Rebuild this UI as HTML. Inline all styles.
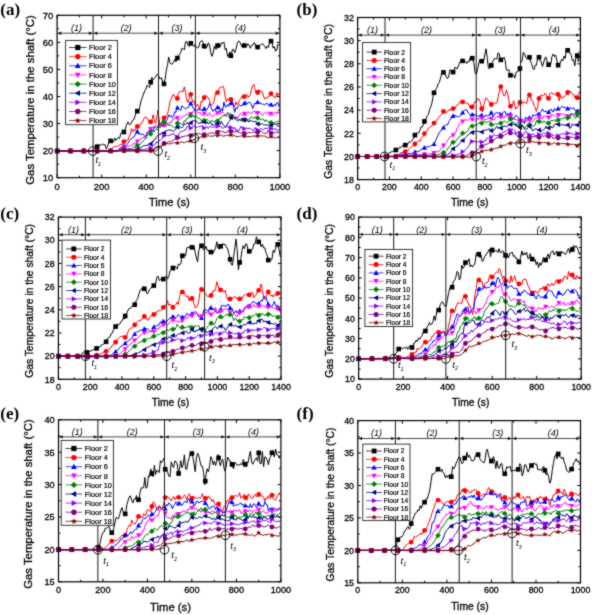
<!DOCTYPE html>
<html><head><meta charset="utf-8"><style>
html,body{margin:0;padding:0;background:#fff;}
svg{display:block;}
.tk{font-family:"Liberation Sans",Arial,sans-serif;font-size:9.6px;fill:#000;stroke:#000;stroke-width:0.3px;}
.ax{font-family:"Liberation Sans",Arial,sans-serif;font-size:11.2px;fill:#000;stroke:#000;stroke-width:0.3px;}
.lg{font-family:"Liberation Sans",Arial,sans-serif;font-size:7.3px;fill:#000;stroke:#000;stroke-width:0.2px;}
.ph{font-family:"Liberation Sans",Arial,sans-serif;font-style:italic;font-size:9px;fill:#000;text-anchor:middle;}
.tl{font-family:"Liberation Sans",Arial,sans-serif;font-style:italic;font-size:9.5px;fill:#000;}
.sub{font-size:5.5px;}
.pl{font-family:"Liberation Serif","Times New Roman",serif;font-weight:bold;font-size:17px;fill:#000;}
</style></head><body>
<svg width="592" height="615" viewBox="0 0 592 615">
<defs><filter id="soft" x="0" y="0" width="592" height="615" filterUnits="userSpaceOnUse" color-interpolation-filters="sRGB"><feConvolveMatrix order="3" kernelMatrix="1 2 1 2 14 2 1 2 1" divisor="26" edgeMode="duplicate"/></filter></defs>
<g filter="url(#soft)">
<rect width="592" height="615" fill="#fff"/>
<path d="M57.1,151 L58.3,151 L59.5,151 L60.7,151 L61.9,151 L63.1,151 L64.3,151 L65.5,151 L66.7,151 L67.9,151 L69.1,151 L70.3,151 L71.5,151 L72.7,151 L73.9,151 L75.1,151 L76.3,151 L77.5,151 L78.7,151 L79.9,151 L81.1,151 L82.3,151 L83.5,151 L84.7,151 L85.9,151 L87.1,151 L88.3,151 L89.5,151 L90.7,151 L91.9,151 L93.1,150.4 L94.3,148.2 L95.5,147.4 L96.7,147.1 L97.9,146.1 L99.1,145.4 L100.3,144.8 L101.5,145 L102.7,144.1 L103.9,144.9 L105.1,144.7 L106.3,148.9 L107.5,146.7 L108.7,142.6 L109.9,141.7 L111.1,140.2 L112.3,142 L113.5,142 L114.7,138.1 L115.9,140.4 L117.1,138.4 L118.3,137.6 L119.5,138.6 L120.7,133.9 L121.9,132.5 L123.1,131.6 L124.3,132.2 L125.5,128.2 L126.7,124.5 L127.9,121.9 L129.1,124.3 L130.3,124.6 L131.5,122.5 L132.7,120 L133.9,119.5 L135.1,115.8 L136.3,110.7 L137.5,111.3 L138.7,110.8 L139.9,106.3 L141.1,100.6 L142.3,97.7 L143.5,94 L144.7,91 L145.9,89.3 L147.1,85.1 L148.3,86.4 L149.5,87.6 L150.7,82.1 L151.9,77.4 L153.1,79.9 L154.3,78.6 L155.5,77 L156.7,74.8 L157.9,74.6 L159.1,76.8 L160.3,79.1 L161.5,77.7 L162.7,82.3 L163.9,84.5 L165.1,79.3 L166.3,70.3 L167.5,65.3 L168.7,57 L169.9,62.5 L171.1,64.1 L172.3,64 L173.5,62.2 L174.7,59.4 L175.9,61.8 L177.1,58.7 L178.3,55.9 L179.5,54.8 L180.7,52.4 L181.9,48.4 L183.1,48.7 L184.3,49.9 L185.5,41.9 L186.7,41.3 L187.9,44.8 L189.1,46.4 L190.3,44.1 L191.5,42.1 L192.7,45.2 L193.9,46.5 L195.1,44.7 L196.3,47.1 L197.5,47.9 L198.7,47.4 L199.9,42.3 L201.1,41 L202.3,40.8 L203.5,43.4 L204.7,48.4 L205.9,48.1 L207.1,46.9 L208.3,42.8 L209.5,45.2 L210.7,52.1 L211.9,56.3 L213.1,53.2 L214.3,46.3 L215.5,49.2 L216.7,48.9 L217.9,44 L219.1,43.2 L220.3,46.9 L221.5,42.8 L222.7,43.2 L223.9,41.9 L225.1,49.7 L226.3,48.3 L227.5,56.3 L228.7,56 L229.9,51.9 L231.1,56.6 L232.3,49.6 L233.5,49.3 L234.7,52.6 L235.9,49.6 L237.1,43.8 L238.3,41.2 L239.5,41.4 L240.7,43.9 L241.9,46.8 L243.1,45.6 L244.3,45.5 L245.5,45.7 L246.7,46.2 L247.9,43.8 L249.1,45.2 L250.3,48.3 L251.5,45.4 L252.7,45.4 L253.9,42.7 L255.1,43.4 L256.3,48.1 L257.5,47 L258.7,48.4 L259.9,45.6 L261.1,44.3 L262.3,44 L263.5,44.6 L264.7,46.5 L265.9,48.6 L267.1,46.2 L268.3,47.5 L269.5,42.7 L270.7,41.1 L271.9,41 L273.1,48.1 L274.3,46.6 L275.5,51.2 L276.7,50.2 L277.9,44.3 L279.1,45.2" fill="none" stroke="#000000" stroke-width="1.0" stroke-linejoin="round"/>
<rect x="54.8" y="148.7" width="4.6" height="4.6" fill="#000000"/>
<rect x="68.2" y="148.7" width="4.6" height="4.6" fill="#000000"/>
<rect x="81.5" y="148.7" width="4.6" height="4.6" fill="#000000"/>
<rect x="94.9" y="144.3" width="4.6" height="4.6" fill="#000000"/>
<rect x="108.3" y="138.6" width="4.6" height="4.6" fill="#000000"/>
<rect x="121.6" y="129.7" width="4.6" height="4.6" fill="#000000"/>
<rect x="135" y="108.9" width="4.6" height="4.6" fill="#000000"/>
<rect x="148.4" y="79.9" width="4.6" height="4.6" fill="#000000"/>
<rect x="161.7" y="81.6" width="4.6" height="4.6" fill="#000000"/>
<rect x="175.1" y="55.7" width="4.6" height="4.6" fill="#000000"/>
<rect x="188.5" y="41" width="4.6" height="4.6" fill="#000000"/>
<rect x="201.8" y="43.8" width="4.6" height="4.6" fill="#000000"/>
<rect x="215.2" y="43.3" width="4.6" height="4.6" fill="#000000"/>
<rect x="228.6" y="53.5" width="4.6" height="4.6" fill="#000000"/>
<rect x="242" y="43.2" width="4.6" height="4.6" fill="#000000"/>
<rect x="255.3" y="44.8" width="4.6" height="4.6" fill="#000000"/>
<rect x="268.7" y="38.8" width="4.6" height="4.6" fill="#000000"/>
<path d="M57.1,151 L58.3,151 L59.5,151 L60.7,151 L61.9,151 L63.1,151 L64.3,151 L65.5,151 L66.7,151 L67.9,151 L69.1,151 L70.3,151 L71.5,151 L72.7,151 L73.9,151 L75.1,151 L76.3,151 L77.5,151 L78.7,151 L79.9,151 L81.1,151 L82.3,151 L83.5,151 L84.7,151 L85.9,151 L87.1,151 L88.3,151 L89.5,151 L90.7,151 L91.9,151 L93.1,151 L94.3,151 L95.5,151 L96.7,151 L97.9,151 L99.1,151 L100.3,151 L101.5,151 L102.7,151 L103.9,151 L105.1,151 L106.3,151 L107.5,151 L108.7,151 L109.9,151 L111.1,150.2 L112.3,148.4 L113.5,146.8 L114.7,146.3 L115.9,146.9 L117.1,146.3 L118.3,145.1 L119.5,145.5 L120.7,144.1 L121.9,144.9 L123.1,142.8 L124.3,141 L125.5,140.6 L126.7,140.3 L127.9,140.5 L129.1,136.1 L130.3,135.1 L131.5,128.4 L132.7,131.7 L133.9,129.5 L135.1,130.7 L136.3,128.1 L137.5,126 L138.7,126.1 L139.9,125.6 L141.1,123.2 L142.3,122.6 L143.5,119.5 L144.7,117.4 L145.9,117.1 L147.1,118.1 L148.3,120 L149.5,123.3 L150.7,121.8 L151.9,120.7 L153.1,114.8 L154.3,119.7 L155.5,123.6 L156.7,117.9 L157.9,110.2 L159.1,119.5 L160.3,125.3 L161.5,124.7 L162.7,121.4 L163.9,118 L165.1,116.7 L166.3,116.8 L167.5,113.4 L168.7,109.9 L169.9,101.7 L171.1,99.2 L172.3,96.2 L173.5,94.1 L174.7,96.9 L175.9,98.1 L177.1,100.2 L178.3,93.6 L179.5,91.6 L180.7,91.6 L181.9,91.2 L183.1,91.6 L184.3,86.9 L185.5,92.5 L186.7,99.7 L187.9,102.7 L189.1,98.5 L190.3,92.4 L191.5,97.1 L192.7,102.1 L193.9,100.9 L195.1,105.3 L196.3,106.4 L197.5,104 L198.7,105.9 L199.9,108.6 L201.1,101.2 L202.3,102.1 L203.5,98 L204.7,97.4 L205.9,95.6 L207.1,96.3 L208.3,98.1 L209.5,100.5 L210.7,105.2 L211.9,104.8 L213.1,103.7 L214.3,100.3 L215.5,93.7 L216.7,93.7 L217.9,92.1 L219.1,88.8 L220.3,87.1 L221.5,87.4 L222.7,85.9 L223.9,88.3 L225.1,96.1 L226.3,101.9 L227.5,98.6 L228.7,99.8 L229.9,99.3 L231.1,99.5 L232.3,100.8 L233.5,104.8 L234.7,106.8 L235.9,101.9 L237.1,104.8 L238.3,103.1 L239.5,100.3 L240.7,98.6 L241.9,96.6 L243.1,98.4 L244.3,96.6 L245.5,95.3 L246.7,94.3 L247.9,96.9 L249.1,96.9 L250.3,94.5 L251.5,89.1 L252.7,85.5 L253.9,84.4 L255.1,89.7 L256.3,92.6 L257.5,92.9 L258.7,89.5 L259.9,91.5 L261.1,90.9 L262.3,91.9 L263.5,96.1 L264.7,99 L265.9,97.9 L267.1,98.2 L268.3,96.3 L269.5,96.6 L270.7,93.6 L271.9,93.4 L273.1,96.4 L274.3,96.7 L275.5,98.1 L276.7,92.6 L277.9,95.6 L279.1,93.3" fill="none" stroke="#ff0000" stroke-width="1.0" stroke-linejoin="round"/>
<circle cx="57.1" cy="151" r="2.4" fill="#ff0000"/>
<circle cx="70.5" cy="151" r="2.4" fill="#ff0000"/>
<circle cx="83.8" cy="151" r="2.4" fill="#ff0000"/>
<circle cx="97.2" cy="151" r="2.4" fill="#ff0000"/>
<circle cx="110.6" cy="150.6" r="2.4" fill="#ff0000"/>
<circle cx="123.9" cy="141.6" r="2.4" fill="#ff0000"/>
<circle cx="137.3" cy="126.4" r="2.4" fill="#ff0000"/>
<circle cx="150.7" cy="121.9" r="2.4" fill="#ff0000"/>
<circle cx="164" cy="117.8" r="2.4" fill="#ff0000"/>
<circle cx="177.4" cy="98.5" r="2.4" fill="#ff0000"/>
<circle cx="190.8" cy="94.3" r="2.4" fill="#ff0000"/>
<circle cx="204.1" cy="97.7" r="2.4" fill="#ff0000"/>
<circle cx="217.5" cy="92.6" r="2.4" fill="#ff0000"/>
<circle cx="230.9" cy="99.5" r="2.4" fill="#ff0000"/>
<circle cx="244.3" cy="96.6" r="2.4" fill="#ff0000"/>
<circle cx="257.6" cy="92.5" r="2.4" fill="#ff0000"/>
<circle cx="271" cy="93.6" r="2.4" fill="#ff0000"/>
<path d="M57.1,151 L58.3,151 L59.5,151 L60.7,151 L61.9,151 L63.1,151 L64.3,151 L65.5,151 L66.7,151 L67.9,151 L69.1,151 L70.3,151 L71.5,151 L72.7,151 L73.9,151 L75.1,151 L76.3,151 L77.5,151 L78.7,151 L79.9,151 L81.1,151 L82.3,151 L83.5,151 L84.7,151 L85.9,151 L87.1,151 L88.3,151 L89.5,151 L90.7,151 L91.9,151 L93.1,151 L94.3,151 L95.5,151 L96.7,151 L97.9,151 L99.1,151 L100.3,151 L101.5,151 L102.7,151 L103.9,151 L105.1,151 L106.3,151 L107.5,151 L108.7,151 L109.9,151 L111.1,151 L112.3,151 L113.5,151 L114.7,151 L115.9,151 L117.1,150.9 L118.3,149.6 L119.5,148.5 L120.7,147.7 L121.9,147.3 L123.1,146.5 L124.3,146 L125.5,145.4 L126.7,145.1 L127.9,143.3 L129.1,141.2 L130.3,140 L131.5,138.2 L132.7,137.7 L133.9,137.1 L135.1,135 L136.3,133.2 L137.5,131.1 L138.7,134.2 L139.9,133.5 L141.1,134.7 L142.3,133.6 L143.5,134.4 L144.7,136.9 L145.9,138.3 L147.1,132.4 L148.3,133.2 L149.5,132.2 L150.7,130 L151.9,130.5 L153.1,130.8 L154.3,127 L155.5,127 L156.7,128.1 L157.9,126.8 L159.1,125.2 L160.3,123.5 L161.5,124.4 L162.7,126.6 L163.9,124.1 L165.1,125.4 L166.3,120.9 L167.5,118.7 L168.7,114.9 L169.9,116.6 L171.1,115.2 L172.3,117.7 L173.5,116.3 L174.7,111.6 L175.9,112.3 L177.1,107.1 L178.3,108.9 L179.5,109.5 L180.7,110.6 L181.9,105.9 L183.1,106.5 L184.3,108.1 L185.5,109 L186.7,107.6 L187.9,108.1 L189.1,106.6 L190.3,102.5 L191.5,104.4 L192.7,107.5 L193.9,108.1 L195.1,111.1 L196.3,110.3 L197.5,110.7 L198.7,108.1 L199.9,110 L201.1,109.8 L202.3,110 L203.5,110.8 L204.7,107.3 L205.9,110.6 L207.1,109.1 L208.3,107.3 L209.5,103.6 L210.7,105.8 L211.9,109.8 L213.1,111.3 L214.3,109.1 L215.5,110.7 L216.7,107.1 L217.9,107.4 L219.1,106.4 L220.3,112.3 L221.5,108.5 L222.7,110.9 L223.9,102 L225.1,106.7 L226.3,106.9 L227.5,104.6 L228.7,106.4 L229.9,103.2 L231.1,103 L232.3,102.2 L233.5,106.9 L234.7,112.3 L235.9,107.8 L237.1,108.8 L238.3,105.9 L239.5,104.6 L240.7,106.1 L241.9,105.4 L243.1,104.9 L244.3,103.3 L245.5,101.3 L246.7,104.2 L247.9,103.1 L249.1,101.9 L250.3,102.7 L251.5,104.8 L252.7,108.5 L253.9,105.5 L255.1,102.9 L256.3,104.2 L257.5,101.9 L258.7,102.7 L259.9,103.1 L261.1,103.1 L262.3,104.6 L263.5,104.1 L264.7,105.2 L265.9,103.6 L267.1,103.1 L268.3,105.1 L269.5,104.3 L270.7,104.4 L271.9,105.5 L273.1,106.5 L274.3,104.4 L275.5,105.9 L276.7,102.8 L277.9,102.5 L279.1,106.7" fill="none" stroke="#0000ff" stroke-width="1.0" stroke-linejoin="round"/>
<polygon points="57.1,148.3 54.6,152.9 59.6,152.9" fill="#0000ff"/>
<polygon points="70.5,148.3 67.9,152.9 73,152.9" fill="#0000ff"/>
<polygon points="83.8,148.3 81.3,152.9 86.4,152.9" fill="#0000ff"/>
<polygon points="97.2,148.3 94.7,152.9 99.7,152.9" fill="#0000ff"/>
<polygon points="110.6,148.3 108,152.9 113.1,152.9" fill="#0000ff"/>
<polygon points="123.9,143.5 121.4,148.1 126.5,148.1" fill="#0000ff"/>
<polygon points="137.3,128.8 134.8,133.4 139.8,133.4" fill="#0000ff"/>
<polygon points="150.7,127.4 148.1,132 153.2,132" fill="#0000ff"/>
<polygon points="164,121.6 161.5,126.2 166.6,126.2" fill="#0000ff"/>
<polygon points="177.4,104.9 174.9,109.5 179.9,109.5" fill="#0000ff"/>
<polygon points="190.8,100.6 188.2,105.2 193.3,105.2" fill="#0000ff"/>
<polygon points="204.1,106.2 201.6,110.8 206.7,110.8" fill="#0000ff"/>
<polygon points="217.5,104.7 215,109.3 220,109.3" fill="#0000ff"/>
<polygon points="230.9,100.4 228.4,105 233.4,105" fill="#0000ff"/>
<polygon points="244.3,100.7 241.7,105.3 246.8,105.3" fill="#0000ff"/>
<polygon points="257.6,99.4 255.1,104 260.1,104" fill="#0000ff"/>
<polygon points="271,102 268.5,106.6 273.5,106.6" fill="#0000ff"/>
<path d="M57.1,151 L58.3,151 L59.5,151 L60.7,151 L61.9,151 L63.1,151 L64.3,151 L65.5,151 L66.7,151 L67.9,151 L69.1,151 L70.3,151 L71.5,151 L72.7,151 L73.9,151 L75.1,151 L76.3,151 L77.5,151 L78.7,151 L79.9,151 L81.1,151 L82.3,151 L83.5,151 L84.7,151 L85.9,151 L87.1,151 L88.3,151 L89.5,151 L90.7,151 L91.9,151 L93.1,151 L94.3,151 L95.5,151 L96.7,151 L97.9,151 L99.1,151 L100.3,151 L101.5,151 L102.7,151 L103.9,151 L105.1,151 L106.3,151 L107.5,151 L108.7,151 L109.9,151 L111.1,151 L112.3,151 L113.5,151 L114.7,151 L115.9,151 L117.1,150.9 L118.3,150 L119.5,149.1 L120.7,148.4 L121.9,148.3 L123.1,147.9 L124.3,147.4 L125.5,146.9 L126.7,146.6 L127.9,146.7 L129.1,145.8 L130.3,146 L131.5,145 L132.7,145.2 L133.9,143.2 L135.1,143 L136.3,143.2 L137.5,141.1 L138.7,140.7 L139.9,139.7 L141.1,138.9 L142.3,137.8 L143.5,138.2 L144.7,136 L145.9,135.6 L147.1,132.2 L148.3,131.5 L149.5,130.2 L150.7,129.1 L151.9,127 L153.1,128 L154.3,126.1 L155.5,126 L156.7,125.3 L157.9,126.3 L159.1,125 L160.3,127.4 L161.5,125.3 L162.7,127.1 L163.9,125.3 L165.1,126.2 L166.3,125.9 L167.5,125.1 L168.7,124.3 L169.9,122.2 L171.1,122.7 L172.3,119.8 L173.5,119.6 L174.7,117.4 L175.9,119 L177.1,116.9 L178.3,120.7 L179.5,120 L180.7,118.4 L181.9,117.7 L183.1,116.5 L184.3,116 L185.5,115.6 L186.7,113.6 L187.9,114.5 L189.1,115.6 L190.3,114.4 L191.5,113.6 L192.7,111.6 L193.9,110.4 L195.1,111.5 L196.3,112.4 L197.5,113.1 L198.7,112.5 L199.9,112.2 L201.1,114.8 L202.3,115.1 L203.5,114.8 L204.7,112.6 L205.9,113.3 L207.1,115.2 L208.3,115.4 L209.5,112.7 L210.7,114.8 L211.9,116.1 L213.1,116.3 L214.3,115.2 L215.5,113.8 L216.7,114.3 L217.9,112.5 L219.1,112.3 L220.3,114.2 L221.5,112.6 L222.7,111.8 L223.9,113.7 L225.1,115.1 L226.3,114.4 L227.5,112.4 L228.7,113.8 L229.9,114.9 L231.1,116.3 L232.3,114.6 L233.5,114.8 L234.7,117.9 L235.9,117.9 L237.1,117.6 L238.3,117.3 L239.5,114.6 L240.7,113.7 L241.9,115.4 L243.1,115.4 L244.3,113.6 L245.5,115.9 L246.7,112.9 L247.9,112.2 L249.1,112.2 L250.3,113.4 L251.5,113.7 L252.7,111.7 L253.9,111.6 L255.1,111.2 L256.3,114.1 L257.5,113.3 L258.7,111.6 L259.9,113.3 L261.1,114.3 L262.3,115.8 L263.5,113.7 L264.7,112.4 L265.9,113.6 L267.1,112.7 L268.3,112.3 L269.5,115.6 L270.7,113.5 L271.9,114 L273.1,115.2 L274.3,113.4 L275.5,111.8 L276.7,114 L277.9,111.5 L279.1,113.5" fill="none" stroke="#ff00ff" stroke-width="1.0" stroke-linejoin="round"/>
<polygon points="57.1,153.6 54.6,149 59.6,149" fill="#ff00ff"/>
<polygon points="70.5,153.6 67.9,149 73,149" fill="#ff00ff"/>
<polygon points="83.8,153.6 81.3,149 86.4,149" fill="#ff00ff"/>
<polygon points="97.2,153.6 94.7,149 99.7,149" fill="#ff00ff"/>
<polygon points="110.6,153.6 108,149 113.1,149" fill="#ff00ff"/>
<polygon points="123.9,150.2 121.4,145.6 126.5,145.6" fill="#ff00ff"/>
<polygon points="137.3,144.1 134.8,139.5 139.8,139.5" fill="#ff00ff"/>
<polygon points="150.7,131.7 148.1,127.1 153.2,127.1" fill="#ff00ff"/>
<polygon points="164,128 161.5,123.4 166.6,123.4" fill="#ff00ff"/>
<polygon points="177.4,120.5 174.9,115.9 179.9,115.9" fill="#ff00ff"/>
<polygon points="190.8,116.7 188.2,112.1 193.3,112.1" fill="#ff00ff"/>
<polygon points="204.1,116.3 201.6,111.7 206.7,111.7" fill="#ff00ff"/>
<polygon points="217.5,115.7 215,111.1 220,111.1" fill="#ff00ff"/>
<polygon points="230.9,118.7 228.4,114.1 233.4,114.1" fill="#ff00ff"/>
<polygon points="244.3,116.4 241.7,111.8 246.8,111.8" fill="#ff00ff"/>
<polygon points="257.6,115.7 255.1,111.1 260.1,111.1" fill="#ff00ff"/>
<polygon points="271,116.3 268.5,111.7 273.5,111.7" fill="#ff00ff"/>
<path d="M57.1,151 L58.3,151 L59.5,151 L60.7,151 L61.9,151 L63.1,151 L64.3,151 L65.5,151 L66.7,151 L67.9,151 L69.1,151 L70.3,151 L71.5,151 L72.7,151 L73.9,151 L75.1,151 L76.3,151 L77.5,151 L78.7,151 L79.9,151 L81.1,151 L82.3,151 L83.5,151 L84.7,151 L85.9,151 L87.1,151 L88.3,151 L89.5,151 L90.7,151 L91.9,151 L93.1,151 L94.3,151 L95.5,151 L96.7,151 L97.9,151 L99.1,151 L100.3,151 L101.5,151 L102.7,151 L103.9,151 L105.1,151 L106.3,151 L107.5,151 L108.7,151 L109.9,151 L111.1,151 L112.3,151 L113.5,151 L114.7,151 L115.9,151 L117.1,150.9 L118.3,150.3 L119.5,149.7 L120.7,149.3 L121.9,149.1 L123.1,149.1 L124.3,149.1 L125.5,149.1 L126.7,148.9 L127.9,148.9 L129.1,148.6 L130.3,148.7 L131.5,148.8 L132.7,147.5 L133.9,147.3 L135.1,147 L136.3,146.8 L137.5,145.1 L138.7,144.8 L139.9,144.2 L141.1,143 L142.3,142.3 L143.5,140.6 L144.7,139.6 L145.9,137.4 L147.1,136 L148.3,133.8 L149.5,134 L150.7,134 L151.9,130.2 L153.1,132 L154.3,131.8 L155.5,129.6 L156.7,129.1 L157.9,129.7 L159.1,126.9 L160.3,127.6 L161.5,124 L162.7,119.7 L163.9,121.9 L165.1,123.1 L166.3,124 L167.5,123 L168.7,125.5 L169.9,125.3 L171.1,124.8 L172.3,126.1 L173.5,127.4 L174.7,128.3 L175.9,127.1 L177.1,123.1 L178.3,123.4 L179.5,123.1 L180.7,123.5 L181.9,124.5 L183.1,124 L184.3,120.5 L185.5,121.5 L186.7,118.6 L187.9,118.4 L189.1,116.5 L190.3,115.6 L191.5,115.2 L192.7,115.4 L193.9,117.1 L195.1,115.8 L196.3,115.6 L197.5,117.9 L198.7,118.6 L199.9,118.3 L201.1,120.1 L202.3,122.9 L203.5,119.6 L204.7,121.1 L205.9,120 L207.1,119.4 L208.3,120.5 L209.5,121.7 L210.7,121 L211.9,120.3 L213.1,122 L214.3,121.1 L215.5,122.7 L216.7,120.2 L217.9,121.3 L219.1,118.7 L220.3,119 L221.5,116.6 L222.7,115.6 L223.9,116 L225.1,115.1 L226.3,116.7 L227.5,113.9 L228.7,112.7 L229.9,115 L231.1,116.3 L232.3,116.6 L233.5,117.9 L234.7,119 L235.9,119.7 L237.1,120.9 L238.3,121.1 L239.5,119.4 L240.7,119.8 L241.9,121.6 L243.1,120.7 L244.3,119.7 L245.5,120.2 L246.7,120.3 L247.9,120.4 L249.1,119.5 L250.3,117.9 L251.5,116.5 L252.7,118.2 L253.9,118 L255.1,117 L256.3,117.2 L257.5,118 L258.7,117.2 L259.9,119.6 L261.1,119.8 L262.3,119 L263.5,119 L264.7,121.8 L265.9,119.9 L267.1,120.9 L268.3,121.4 L269.5,123.2 L270.7,122.7 L271.9,122.4 L273.1,123.3 L274.3,122.6 L275.5,122 L276.7,122 L277.9,120.9 L279.1,121.7" fill="none" stroke="#008000" stroke-width="1.0" stroke-linejoin="round"/>
<polygon points="57.1,148.2 59.9,151 57.1,153.7 54.3,151" fill="#008000"/>
<polygon points="70.5,148.2 73.2,151 70.5,153.7 67.7,151" fill="#008000"/>
<polygon points="83.8,148.2 86.6,151 83.8,153.7 81.1,151" fill="#008000"/>
<polygon points="97.2,148.2 100,151 97.2,153.7 94.4,151" fill="#008000"/>
<polygon points="110.6,148.2 113.3,151 110.6,153.7 107.8,151" fill="#008000"/>
<polygon points="123.9,146.3 126.7,149.1 123.9,151.9 121.2,149.1" fill="#008000"/>
<polygon points="137.3,142.6 140.1,145.4 137.3,148.1 134.5,145.4" fill="#008000"/>
<polygon points="150.7,131.2 153.4,134 150.7,136.7 147.9,134" fill="#008000"/>
<polygon points="164,119.2 166.8,122 164,124.8 161.3,122" fill="#008000"/>
<polygon points="177.4,120.4 180.2,123.2 177.4,125.9 174.7,123.2" fill="#008000"/>
<polygon points="190.8,112.7 193.5,115.5 190.8,118.2 188,115.5" fill="#008000"/>
<polygon points="204.1,117.7 206.9,120.4 204.1,123.2 201.4,120.4" fill="#008000"/>
<polygon points="217.5,118.2 220.3,120.9 217.5,123.7 214.8,120.9" fill="#008000"/>
<polygon points="230.9,113.3 233.6,116.1 230.9,118.8 228.1,116.1" fill="#008000"/>
<polygon points="244.3,117 247,119.7 244.3,122.5 241.5,119.7" fill="#008000"/>
<polygon points="257.6,115.2 260.4,117.9 257.6,120.7 254.9,117.9" fill="#008000"/>
<polygon points="271,119.9 273.7,122.6 271,125.4 268.2,122.6" fill="#008000"/>
<path d="M57.1,151 L58.3,151 L59.5,151 L60.7,151 L61.9,151 L63.1,151 L64.3,151 L65.5,151 L66.7,151 L67.9,151 L69.1,151 L70.3,151 L71.5,151 L72.7,151 L73.9,151 L75.1,151 L76.3,151 L77.5,151 L78.7,151 L79.9,151 L81.1,151 L82.3,151 L83.5,151 L84.7,151 L85.9,151 L87.1,151 L88.3,151 L89.5,151 L90.7,151 L91.9,151 L93.1,151 L94.3,151 L95.5,151 L96.7,151 L97.9,151 L99.1,151 L100.3,151 L101.5,151 L102.7,151 L103.9,151 L105.1,151 L106.3,151 L107.5,151 L108.7,151 L109.9,151 L111.1,151 L112.3,151 L113.5,151 L114.7,151 L115.9,151 L117.1,151 L118.3,150.7 L119.5,150.4 L120.7,150.2 L121.9,150.1 L123.1,150.1 L124.3,150.1 L125.5,149.9 L126.7,149.9 L127.9,149.8 L129.1,149.8 L130.3,149.7 L131.5,149.6 L132.7,149.5 L133.9,149.6 L135.1,149.5 L136.3,149.4 L137.5,149.1 L138.7,148.8 L139.9,148 L141.1,147.4 L142.3,146.4 L143.5,146 L144.7,145.6 L145.9,145.3 L147.1,145.2 L148.3,145.4 L149.5,143.3 L150.7,144 L151.9,141.6 L153.1,141.9 L154.3,139.2 L155.5,139.1 L156.7,136.7 L157.9,135.3 L159.1,134.1 L160.3,134.8 L161.5,132.6 L162.7,133 L163.9,132.9 L165.1,132.8 L166.3,130.5 L167.5,130.5 L168.7,129.7 L169.9,130.4 L171.1,129.9 L172.3,130.8 L173.5,131.3 L174.7,130.4 L175.9,129.4 L177.1,126.7 L178.3,127.3 L179.5,127.8 L180.7,126.7 L181.9,127.9 L183.1,126.6 L184.3,123.8 L185.5,124.4 L186.7,122.9 L187.9,122.8 L189.1,125.6 L190.3,123.6 L191.5,121.6 L192.7,121 L193.9,121.1 L195.1,120.2 L196.3,120.9 L197.5,122.7 L198.7,123.5 L199.9,123 L201.1,122.7 L202.3,123 L203.5,122 L204.7,121.8 L205.9,123 L207.1,121.8 L208.3,124.2 L209.5,122.6 L210.7,122.2 L211.9,124.9 L213.1,124.5 L214.3,125 L215.5,124 L216.7,123.8 L217.9,123.4 L219.1,123.2 L220.3,124 L221.5,121.4 L222.7,124.4 L223.9,125.3 L225.1,126.6 L226.3,126.6 L227.5,124 L228.7,121.8 L229.9,120.7 L231.1,117.2 L232.3,115 L233.5,117.6 L234.7,119 L235.9,116.9 L237.1,118.3 L238.3,120.3 L239.5,119.6 L240.7,120.5 L241.9,118 L243.1,118.9 L244.3,120 L245.5,120.5 L246.7,118.5 L247.9,121.3 L249.1,122 L250.3,119.9 L251.5,121.1 L252.7,121.3 L253.9,121.6 L255.1,121.7 L256.3,121.5 L257.5,124.3 L258.7,122.4 L259.9,124.6 L261.1,124 L262.3,123.6 L263.5,124.6 L264.7,124.8 L265.9,125.3 L267.1,124.7 L268.3,125.2 L269.5,125.8 L270.7,124.9 L271.9,126.1 L273.1,125 L274.3,123.2 L275.5,124.8 L276.7,124.4 L277.9,126.3 L279.1,125.9" fill="none" stroke="#000080" stroke-width="1.0" stroke-linejoin="round"/>
<polygon points="54.5,151 59.1,148.5 59.1,153.5" fill="#000080"/>
<polygon points="67.8,151 72.4,148.5 72.4,153.5" fill="#000080"/>
<polygon points="81.2,151 85.8,148.5 85.8,153.5" fill="#000080"/>
<polygon points="94.6,151 99.2,148.5 99.2,153.5" fill="#000080"/>
<polygon points="107.9,151 112.5,148.5 112.5,153.5" fill="#000080"/>
<polygon points="121.3,150.1 125.9,147.5 125.9,152.6" fill="#000080"/>
<polygon points="134.7,149.2 139.3,146.6 139.3,151.7" fill="#000080"/>
<polygon points="148,144 152.6,141.4 152.6,146.5" fill="#000080"/>
<polygon points="161.4,132.9 166,130.4 166,135.4" fill="#000080"/>
<polygon points="174.8,126.9 179.4,124.4 179.4,129.4" fill="#000080"/>
<polygon points="188.1,122.8 192.7,120.3 192.7,125.3" fill="#000080"/>
<polygon points="201.5,121.9 206.1,119.4 206.1,124.4" fill="#000080"/>
<polygon points="214.9,123.5 219.5,121 219.5,126.1" fill="#000080"/>
<polygon points="228.2,117.8 232.8,115.3 232.8,120.3" fill="#000080"/>
<polygon points="241.6,119.9 246.2,117.4 246.2,122.5" fill="#000080"/>
<polygon points="255,124.1 259.6,121.6 259.6,126.6" fill="#000080"/>
<polygon points="268.3,125.2 272.9,122.7 272.9,127.7" fill="#000080"/>
<path d="M57.1,151 L58.3,151 L59.5,151 L60.7,151 L61.9,151 L63.1,151 L64.3,151 L65.5,151 L66.7,151 L67.9,151 L69.1,151 L70.3,151 L71.5,151 L72.7,151 L73.9,151 L75.1,151 L76.3,151 L77.5,151 L78.7,151 L79.9,151 L81.1,151 L82.3,151 L83.5,151 L84.7,151 L85.9,151 L87.1,151 L88.3,151 L89.5,151 L90.7,151 L91.9,151 L93.1,151 L94.3,151 L95.5,151 L96.7,151 L97.9,151 L99.1,151 L100.3,151 L101.5,151 L102.7,151 L103.9,151 L105.1,151 L106.3,151 L107.5,151 L108.7,151 L109.9,151 L111.1,151 L112.3,151 L113.5,151 L114.7,151 L115.9,151 L117.1,151 L118.3,150.7 L119.5,150.4 L120.7,150.2 L121.9,150.2 L123.1,150.1 L124.3,150.1 L125.5,150.1 L126.7,150 L127.9,150 L129.1,150 L130.3,149.8 L131.5,149.9 L132.7,149.8 L133.9,149.9 L135.1,149.8 L136.3,149.7 L137.5,149.7 L138.7,149.5 L139.9,149.7 L141.1,149.6 L142.3,149.5 L143.5,149.4 L144.7,149.4 L145.9,148.9 L147.1,148.9 L148.3,148.5 L149.5,148.5 L150.7,147.9 L151.9,146.8 L153.1,145.7 L154.3,144.9 L155.5,144.1 L156.7,141.6 L157.9,142.9 L159.1,140.4 L160.3,140.5 L161.5,139.2 L162.7,137.9 L163.9,135.3 L165.1,136.4 L166.3,135.6 L167.5,135.4 L168.7,135.4 L169.9,135.8 L171.1,133.9 L172.3,134.6 L173.5,133.2 L174.7,135.4 L175.9,135.5 L177.1,138.1 L178.3,135.5 L179.5,132.8 L180.7,131.6 L181.9,131.6 L183.1,131.1 L184.3,129.9 L185.5,130.3 L186.7,126.8 L187.9,126.5 L189.1,127.5 L190.3,128.6 L191.5,127.5 L192.7,127.1 L193.9,125.6 L195.1,127.1 L196.3,127.5 L197.5,127.5 L198.7,126.4 L199.9,126.6 L201.1,126 L202.3,125.9 L203.5,127.9 L204.7,128.1 L205.9,126.6 L207.1,126.9 L208.3,128.5 L209.5,126.8 L210.7,126 L211.9,127.5 L213.1,126.7 L214.3,127.2 L215.5,126.8 L216.7,124.8 L217.9,126.8 L219.1,126.2 L220.3,126.5 L221.5,126.6 L222.7,128.5 L223.9,127.3 L225.1,127.3 L226.3,126.8 L227.5,126.5 L228.7,128 L229.9,127.9 L231.1,127.4 L232.3,127.5 L233.5,129.1 L234.7,127.3 L235.9,130.4 L237.1,129.3 L238.3,131.6 L239.5,129.9 L240.7,126.2 L241.9,128.3 L243.1,127.3 L244.3,128.8 L245.5,128.5 L246.7,127.7 L247.9,129 L249.1,128 L250.3,129.2 L251.5,129 L252.7,130 L253.9,130.5 L255.1,127.6 L256.3,129.1 L257.5,130.2 L258.7,129.7 L259.9,129.4 L261.1,128.4 L262.3,129.4 L263.5,129.8 L264.7,128.2 L265.9,128.4 L267.1,128.5 L268.3,127.8 L269.5,128.7 L270.7,128.2 L271.9,129.9 L273.1,129.1 L274.3,129.1 L275.5,128.4 L276.7,130.5 L277.9,130 L279.1,130.2" fill="none" stroke="#8000ff" stroke-width="1.0" stroke-linejoin="round"/>
<polygon points="59.7,151 55.1,148.5 55.1,153.5" fill="#8000ff"/>
<polygon points="73.1,151 68.5,148.5 68.5,153.5" fill="#8000ff"/>
<polygon points="86.5,151 81.9,148.5 81.9,153.5" fill="#8000ff"/>
<polygon points="99.8,151 95.2,148.5 95.2,153.5" fill="#8000ff"/>
<polygon points="113.2,151 108.6,148.5 108.6,153.5" fill="#8000ff"/>
<polygon points="126.6,150.1 122,147.6 122,152.6" fill="#8000ff"/>
<polygon points="140,149.7 135.4,147.1 135.4,152.2" fill="#8000ff"/>
<polygon points="153.3,147.9 148.7,145.4 148.7,150.5" fill="#8000ff"/>
<polygon points="166.7,135.4 162.1,132.9 162.1,138" fill="#8000ff"/>
<polygon points="180.1,137.4 175.5,134.9 175.5,139.9" fill="#8000ff"/>
<polygon points="193.4,128.1 188.8,125.6 188.8,130.7" fill="#8000ff"/>
<polygon points="206.8,128 202.2,125.5 202.2,130.5" fill="#8000ff"/>
<polygon points="220.2,126.2 215.6,123.7 215.6,128.7" fill="#8000ff"/>
<polygon points="233.5,127.5 228.9,124.9 228.9,130" fill="#8000ff"/>
<polygon points="246.9,128.8 242.3,126.3 242.3,131.3" fill="#8000ff"/>
<polygon points="260.3,130.2 255.7,127.6 255.7,132.7" fill="#8000ff"/>
<polygon points="273.6,128.6 269,126 269,131.1" fill="#8000ff"/>
<path d="M57.1,151 L58.3,151 L59.5,151 L60.7,151 L61.9,151 L63.1,151 L64.3,151 L65.5,151 L66.7,150.9 L67.9,150.9 L69.1,150.9 L70.3,150.9 L71.5,150.9 L72.7,150.9 L73.9,150.9 L75.1,150.9 L76.3,150.9 L77.5,150.9 L78.7,150.9 L79.9,150.9 L81.1,150.9 L82.3,150.9 L83.5,150.9 L84.7,150.9 L85.9,150.9 L87.1,150.9 L88.3,150.9 L89.5,150.9 L90.7,150.8 L91.9,150.8 L93.1,150.8 L94.3,150.8 L95.5,150.8 L96.7,150.8 L97.9,150.8 L99.1,150.8 L100.3,150.8 L101.5,150.8 L102.7,150.8 L103.9,150.8 L105.1,150.8 L106.3,150.8 L107.5,150.8 L108.7,150.8 L109.9,150.8 L111.1,150.8 L112.3,150.8 L113.5,150.8 L114.7,150.8 L115.9,150.7 L117.1,150.7 L118.3,150.7 L119.5,150.7 L120.7,150.7 L121.9,150.7 L123.1,150.8 L124.3,150.8 L125.5,150.8 L126.7,150.8 L127.9,150.8 L129.1,150.8 L130.3,150.8 L131.5,150.8 L132.7,150.8 L133.9,150.9 L135.1,150.9 L136.3,150.9 L137.5,150.9 L138.7,150.9 L139.9,150.9 L141.1,150.9 L142.3,150.9 L143.5,150.9 L144.7,151 L145.9,151 L147.1,151 L148.3,150.9 L149.5,150.6 L150.7,150.3 L151.9,149.9 L153.1,149.4 L154.3,148.9 L155.5,148.4 L156.7,148.1 L157.9,147.3 L159.1,146.7 L160.3,146.1 L161.5,145.6 L162.7,144.1 L163.9,143.6 L165.1,142.9 L166.3,142.6 L167.5,142.5 L168.7,141.3 L169.9,141.8 L171.1,141.7 L172.3,140.4 L173.5,140.4 L174.7,139.1 L175.9,139.1 L177.1,137.6 L178.3,137.5 L179.5,138 L180.7,137.9 L181.9,136.1 L183.1,137.2 L184.3,135.9 L185.5,136.1 L186.7,135.9 L187.9,135.4 L189.1,134.2 L190.3,135.6 L191.5,135.7 L192.7,135.2 L193.9,136.2 L195.1,134.5 L196.3,133.9 L197.5,133.5 L198.7,133.5 L199.9,133.3 L201.1,134.6 L202.3,134 L203.5,133.8 L204.7,135.4 L205.9,134.2 L207.1,134.3 L208.3,133.4 L209.5,133.3 L210.7,133.1 L211.9,132.5 L213.1,133.6 L214.3,133.2 L215.5,132.1 L216.7,132.1 L217.9,132.2 L219.1,131.4 L220.3,131.2 L221.5,131.6 L222.7,131 L223.9,132.7 L225.1,132.6 L226.3,132.1 L227.5,131.9 L228.7,130.3 L229.9,132.4 L231.1,131.2 L232.3,131.6 L233.5,130.9 L234.7,132.5 L235.9,131.4 L237.1,131.5 L238.3,132.2 L239.5,132.8 L240.7,132.9 L241.9,133 L243.1,133.2 L244.3,133.5 L245.5,134.8 L246.7,133.7 L247.9,132.7 L249.1,132.5 L250.3,132.9 L251.5,132.5 L252.7,132.1 L253.9,132.4 L255.1,131.8 L256.3,131.5 L257.5,132.3 L258.7,132.1 L259.9,131.4 L261.1,131.2 L262.3,132 L263.5,133.1 L264.7,133.3 L265.9,133.6 L267.1,132.7 L268.3,130 L269.5,131.9 L270.7,133.2 L271.9,132.8 L273.1,132.6 L274.3,132.9 L275.5,132.4 L276.7,132.2 L277.9,132.8 L279.1,131.8" fill="none" stroke="#800080" stroke-width="1.0" stroke-linejoin="round"/>
<circle cx="57.1" cy="151" r="2.4" fill="#800080"/>
<circle cx="70.5" cy="150.9" r="2.4" fill="#800080"/>
<circle cx="83.8" cy="150.9" r="2.4" fill="#800080"/>
<circle cx="97.2" cy="150.8" r="2.4" fill="#800080"/>
<circle cx="110.6" cy="150.8" r="2.4" fill="#800080"/>
<circle cx="123.9" cy="150.8" r="2.4" fill="#800080"/>
<circle cx="137.3" cy="150.9" r="2.4" fill="#800080"/>
<circle cx="150.7" cy="150.3" r="2.4" fill="#800080"/>
<circle cx="164" cy="143.5" r="2.4" fill="#800080"/>
<circle cx="177.4" cy="137.6" r="2.4" fill="#800080"/>
<circle cx="190.8" cy="135.6" r="2.4" fill="#800080"/>
<circle cx="204.1" cy="134.6" r="2.4" fill="#800080"/>
<circle cx="217.5" cy="132.2" r="2.4" fill="#800080"/>
<circle cx="230.9" cy="131.4" r="2.4" fill="#800080"/>
<circle cx="244.3" cy="133.5" r="2.4" fill="#800080"/>
<circle cx="257.6" cy="132.3" r="2.4" fill="#800080"/>
<circle cx="271" cy="133.1" r="2.4" fill="#800080"/>
<path d="M57.1,151 L58.3,151 L59.5,151 L60.7,151 L61.9,151 L63.1,151 L64.3,151 L65.5,151 L66.7,151 L67.9,151 L69.1,151 L70.3,151 L71.5,151 L72.7,151 L73.9,151 L75.1,151 L76.3,151 L77.5,151 L78.7,151 L79.9,151 L81.1,151 L82.3,151 L83.5,151 L84.7,151 L85.9,151 L87.1,151 L88.3,151 L89.5,151 L90.7,151 L91.9,151 L93.1,151 L94.3,151 L95.5,151 L96.7,151 L97.9,151 L99.1,151 L100.3,151 L101.5,151 L102.7,151 L103.9,151 L105.1,151 L106.3,151 L107.5,151 L108.7,151 L109.9,151 L111.1,151 L112.3,151 L113.5,151 L114.7,151.1 L115.9,151.1 L117.1,151.1 L118.3,151.1 L119.5,151.1 L120.7,151 L121.9,151 L123.1,151 L124.3,151 L125.5,151 L126.7,151 L127.9,151 L129.1,151 L130.3,151 L131.5,150.9 L132.7,150.9 L133.9,150.9 L135.1,150.9 L136.3,150.9 L137.5,150.9 L138.7,150.9 L139.9,150.9 L141.1,150.8 L142.3,150.8 L143.5,150.8 L144.7,150.8 L145.9,150.8 L147.1,150.8 L148.3,150.8 L149.5,150.8 L150.7,150.7 L151.9,150.7 L153.1,150.8 L154.3,150.9 L155.5,150.9 L156.7,150.5 L157.9,149.5 L159.1,148.6 L160.3,147.5 L161.5,146.2 L162.7,145.2 L163.9,143.8 L165.1,143.4 L166.3,143.9 L167.5,143.6 L168.7,143.8 L169.9,143.8 L171.1,143.8 L172.3,142.9 L173.5,143 L174.7,142.6 L175.9,143 L177.1,142.7 L178.3,143.3 L179.5,142.7 L180.7,142.3 L181.9,141.6 L183.1,142.6 L184.3,142.5 L185.5,142.1 L186.7,141.5 L187.9,141.7 L189.1,141.6 L190.3,140.8 L191.5,141.2 L192.7,139.9 L193.9,139.8 L195.1,139.6 L196.3,137.2 L197.5,138.5 L198.7,138.6 L199.9,137.7 L201.1,136.5 L202.3,137 L203.5,136.8 L204.7,136 L205.9,136.5 L207.1,136.3 L208.3,135.2 L209.5,136.5 L210.7,135.8 L211.9,136.3 L213.1,136 L214.3,135.7 L215.5,135.2 L216.7,135.8 L217.9,135.3 L219.1,135.4 L220.3,135.1 L221.5,135.2 L222.7,136.2 L223.9,135.9 L225.1,135.8 L226.3,135.4 L227.5,135.2 L228.7,135.5 L229.9,135.4 L231.1,134.9 L232.3,136.1 L233.5,135.7 L234.7,135.5 L235.9,136.6 L237.1,136.3 L238.3,136.8 L239.5,136.2 L240.7,136.1 L241.9,135.8 L243.1,136.1 L244.3,136.2 L245.5,136.6 L246.7,137 L247.9,136.3 L249.1,136.5 L250.3,136.9 L251.5,136.5 L252.7,136 L253.9,136 L255.1,136.3 L256.3,136.1 L257.5,135.8 L258.7,136 L259.9,135.8 L261.1,136.2 L262.3,135.7 L263.5,136.2 L264.7,136.1 L265.9,136.4 L267.1,137.5 L268.3,137.8 L269.5,136.8 L270.7,136.3 L271.9,137.2 L273.1,137.1 L274.3,137.5 L275.5,137.9 L276.7,137.7 L277.9,136.9 L279.1,137.6" fill="none" stroke="#800000" stroke-width="1.0" stroke-linejoin="round"/>
<polygon points="57.1,148.1 57.8,150.1 59.8,150.1 58.2,151.3 58.8,153.3 57.1,152.1 55.4,153.3 56,151.3 54.4,150.1 56.4,150.1" fill="#800000"/>
<polygon points="70.5,148.1 71.1,150.1 73.2,150.1 71.6,151.4 72.2,153.3 70.5,152.2 68.8,153.3 69.4,151.4 67.7,150.1 69.8,150.1" fill="#800000"/>
<polygon points="83.8,148.1 84.5,150.1 86.6,150.1 84.9,151.4 85.5,153.3 83.8,152.2 82.1,153.3 82.7,151.4 81.1,150.1 83.2,150.1" fill="#800000"/>
<polygon points="97.2,148.2 97.9,150.1 99.9,150.1 98.3,151.4 98.9,153.4 97.2,152.2 95.5,153.4 96.1,151.4 94.5,150.1 96.5,150.1" fill="#800000"/>
<polygon points="110.6,148.2 111.2,150.1 113.3,150.2 111.7,151.4 112.3,153.4 110.6,152.2 108.9,153.4 109.5,151.4 107.8,150.2 109.9,150.1" fill="#800000"/>
<polygon points="123.9,148.1 124.6,150.1 126.7,150.1 125,151.4 125.6,153.3 123.9,152.2 122.3,153.3 122.8,151.4 121.2,150.1 123.3,150.1" fill="#800000"/>
<polygon points="137.3,148 138,150 140,150 138.4,151.2 139,153.2 137.3,152 135.6,153.2 136.2,151.2 134.6,150 136.6,150" fill="#800000"/>
<polygon points="150.7,147.9 151.4,149.8 153.4,149.9 151.8,151.1 152.4,153.1 150.7,151.9 149,153.1 149.6,151.1 147.9,149.9 150,149.8" fill="#800000"/>
<polygon points="164,140.9 164.7,142.9 166.8,142.9 165.1,144.1 165.7,146.1 164,144.9 162.4,146.1 163,144.1 161.3,142.9 163.4,142.9" fill="#800000"/>
<polygon points="177.4,140 178.1,141.9 180.1,142 178.5,143.2 179.1,145.2 177.4,144 175.7,145.2 176.3,143.2 174.7,142 176.7,141.9" fill="#800000"/>
<polygon points="190.8,138.1 191.5,140 193.5,140.1 191.9,141.3 192.5,143.3 190.8,142.1 189.1,143.3 189.7,141.3 188,140.1 190.1,140" fill="#800000"/>
<polygon points="204.1,133.5 204.8,135.5 206.9,135.5 205.2,136.7 205.8,138.7 204.1,137.5 202.5,138.7 203.1,136.7 201.4,135.5 203.5,135.5" fill="#800000"/>
<polygon points="217.5,132.6 218.2,134.5 220.3,134.6 218.6,135.8 219.2,137.8 217.5,136.6 215.8,137.8 216.4,135.8 214.8,134.6 216.8,134.5" fill="#800000"/>
<polygon points="230.9,132.1 231.6,134 233.6,134.1 232,135.3 232.6,137.3 230.9,136.1 229.2,137.3 229.8,135.3 228.1,134.1 230.2,134" fill="#800000"/>
<polygon points="244.3,133.3 244.9,135.2 247,135.3 245.3,136.5 245.9,138.5 244.3,137.3 242.6,138.5 243.2,136.5 241.5,135.3 243.6,135.2" fill="#800000"/>
<polygon points="257.6,133 258.3,134.9 260.4,134.9 258.7,136.2 259.3,138.2 257.6,137 255.9,138.2 256.5,136.2 254.9,134.9 256.9,134.9" fill="#800000"/>
<polygon points="271,133.6 271.7,135.6 273.7,135.6 272.1,136.9 272.7,138.8 271,137.7 269.3,138.8 269.9,136.9 268.3,135.6 270.3,135.6" fill="#800000"/>
<line x1="93.1" y1="15.3" x2="93.1" y2="177.7" stroke="#1a1a1a" stroke-width="1.0"/>
<line x1="158.5" y1="15.3" x2="158.5" y2="177.7" stroke="#1a1a1a" stroke-width="1.0"/>
<line x1="195.4" y1="15.3" x2="195.4" y2="177.7" stroke="#1a1a1a" stroke-width="1.0"/>
<line x1="57.1" y1="33.2" x2="279.9" y2="33.2" stroke="#333" stroke-width="0.9"/>
<polygon points="57.7,33.2 61.3,31.5 61.3,34.9" fill="#111"/>
<polygon points="92.5,33.2 88.9,31.5 88.9,34.9" fill="#111"/>
<text x="76.5" y="31.4" class="ph">(1)</text>
<polygon points="93.7,33.2 97.3,31.5 97.3,34.9" fill="#111"/>
<polygon points="157.9,33.2 154.3,31.5 154.3,34.9" fill="#111"/>
<text x="126.2" y="31.4" class="ph">(2)</text>
<polygon points="159.1,33.2 162.7,31.5 162.7,34.9" fill="#111"/>
<polygon points="194.8,33.2 191.2,31.5 191.2,34.9" fill="#111"/>
<text x="177" y="31.4" class="ph">(3)</text>
<polygon points="196,33.2 199.6,31.5 199.6,34.9" fill="#111"/>
<polygon points="279.3,33.2 275.7,31.5 275.7,34.9" fill="#111"/>
<text x="240.5" y="31.4" class="ph">(4)</text>
<circle cx="92.8" cy="151" r="4.4" fill="none" stroke="#000" stroke-width="0.95"/>
<circle cx="158" cy="151" r="4.4" fill="none" stroke="#000" stroke-width="0.95"/>
<circle cx="194.3" cy="138.2" r="4.4" fill="none" stroke="#000" stroke-width="0.95"/>
<text x="95.4" y="163" class="tl">t<tspan class="sub" dy="2.6">1</tspan></text>
<text x="164.4" y="157.4" class="tl">t<tspan class="sub" dy="2.6">2</tspan></text>
<text x="200.5" y="149.9" class="tl">t<tspan class="sub" dy="2.6">3</tspan></text>
<rect x="65.6" y="40.4" width="51.9" height="84.3" fill="#fff" stroke="#222" stroke-width="0.9"/>
<line x1="69" y1="47.5" x2="86.5" y2="47.5" stroke="#000000" stroke-width="0.75"/>
<rect x="75.2" y="44.9" width="5.2" height="5.2" fill="#000000"/>
<text x="89" y="50.1" class="lg" style="font-size:7.3px">Floor 2</text>
<line x1="69" y1="56.6" x2="86.5" y2="56.6" stroke="#ff0000" stroke-width="0.75"/>
<circle cx="77.8" cy="56.6" r="2.7" fill="#ff0000"/>
<text x="89" y="59.3" class="lg" style="font-size:7.3px">Floor 4</text>
<line x1="69" y1="65.8" x2="86.5" y2="65.8" stroke="#0000ff" stroke-width="0.75"/>
<polygon points="77.8,62.8 74.9,68 80.6,68" fill="#0000ff"/>
<text x="89" y="68.4" class="lg" style="font-size:7.3px">Floor 6</text>
<line x1="69" y1="74.9" x2="86.5" y2="74.9" stroke="#ff00ff" stroke-width="0.75"/>
<polygon points="77.8,77.9 74.9,72.7 80.6,72.7" fill="#ff00ff"/>
<text x="89" y="77.5" class="lg" style="font-size:7.3px">Floor 8</text>
<line x1="69" y1="84.1" x2="86.5" y2="84.1" stroke="#008000" stroke-width="0.75"/>
<polygon points="77.8,80.9 80.9,84.1 77.8,87.2 74.6,84.1" fill="#008000"/>
<text x="89" y="86.7" class="lg" style="font-size:7.3px">Floor 10</text>
<line x1="69" y1="93.2" x2="86.5" y2="93.2" stroke="#000080" stroke-width="0.75"/>
<polygon points="74.8,93.2 80,90.3 80,96.1" fill="#000080"/>
<text x="89" y="95.8" class="lg" style="font-size:7.3px">Floor 12</text>
<line x1="69" y1="102.3" x2="86.5" y2="102.3" stroke="#8000ff" stroke-width="0.75"/>
<polygon points="80.7,102.3 75.5,99.5 75.5,105.2" fill="#8000ff"/>
<text x="89" y="105" class="lg" style="font-size:7.3px">Floor 14</text>
<line x1="69" y1="111.5" x2="86.5" y2="111.5" stroke="#800080" stroke-width="0.75"/>
<circle cx="77.8" cy="111.5" r="2.7" fill="#800080"/>
<text x="89" y="114.1" class="lg" style="font-size:7.3px">Floor 16</text>
<line x1="69" y1="120.6" x2="86.5" y2="120.6" stroke="#800000" stroke-width="0.75"/>
<polygon points="77.8,117.4 78.5,119.6 80.8,119.6 79,121 79.7,123.2 77.8,121.9 75.8,123.2 76.5,121 74.7,119.6 77,119.6" fill="#800000"/>
<text x="89" y="123.2" class="lg" style="font-size:7.3px">Floor 18</text>
<rect x="57.1" y="15.3" width="222.8" height="162.4" fill="none" stroke="#000" stroke-width="1.2"/>
<text x="57.1" y="189.7" class="tk" style="font-size:9.4px" text-anchor="middle">0</text>
<text x="101.7" y="189.7" class="tk" style="font-size:9.4px" text-anchor="middle">200</text>
<text x="146.2" y="189.7" class="tk" style="font-size:9.4px" text-anchor="middle">400</text>
<text x="190.8" y="189.7" class="tk" style="font-size:9.4px" text-anchor="middle">600</text>
<text x="235.3" y="189.7" class="tk" style="font-size:9.4px" text-anchor="middle">800</text>
<text x="279.9" y="189.7" class="tk" style="font-size:9.4px" text-anchor="middle">1000</text>
<text x="53.3" y="181.1" class="tk" style="font-size:9.4px" text-anchor="end">10</text>
<text x="53.3" y="154" class="tk" style="font-size:9.4px" text-anchor="end">20</text>
<text x="53.3" y="127" class="tk" style="font-size:9.4px" text-anchor="end">30</text>
<text x="53.3" y="99.9" class="tk" style="font-size:9.4px" text-anchor="end">40</text>
<text x="53.3" y="72.8" class="tk" style="font-size:9.4px" text-anchor="end">50</text>
<text x="53.3" y="45.8" class="tk" style="font-size:9.4px" text-anchor="end">60</text>
<text x="53.3" y="18.7" class="tk" style="font-size:9.4px" text-anchor="end">70</text>
<path d="M57.1,177.7v-3.2M57.1,15.3v3.2M79.4,177.7v-2M79.4,15.3v2M101.7,177.7v-3.2M101.7,15.3v3.2M123.9,177.7v-2M123.9,15.3v2M146.2,177.7v-3.2M146.2,15.3v3.2M168.5,177.7v-2M168.5,15.3v2M190.8,177.7v-3.2M190.8,15.3v3.2M213.1,177.7v-2M213.1,15.3v2M235.3,177.7v-3.2M235.3,15.3v3.2M257.6,177.7v-2M257.6,15.3v2M279.9,177.7v-3.2M279.9,15.3v3.2M57.1,177.7h3.2M279.9,177.7h-3.2M57.1,164.2h2M279.9,164.2h-2M57.1,150.6h3.2M279.9,150.6h-3.2M57.1,137.1h2M279.9,137.1h-2M57.1,123.6h3.2M279.9,123.6h-3.2M57.1,110h2M279.9,110h-2M57.1,96.5h3.2M279.9,96.5h-3.2M57.1,83h2M279.9,83h-2M57.1,69.4h3.2M279.9,69.4h-3.2M57.1,55.9h2M279.9,55.9h-2M57.1,42.4h3.2M279.9,42.4h-3.2M57.1,28.8h2M279.9,28.8h-2M57.1,15.3h3.2M279.9,15.3h-3.2" stroke="#000" stroke-width="1" fill="none"/>
<text x="169.3" y="206" class="ax" style="font-size:11.35px" text-anchor="middle">Time (s)</text>
<text transform="translate(33.5,100) rotate(-90)" class="ax" style="font-size:11.35px" text-anchor="middle">Gas Temperature in the shaft (°C)</text>
<text x="0.3" y="14.9" class="pl">(a)</text>
<path d="M357.6,156.5 L358.8,156.5 L360,156.5 L361.2,156.5 L362.4,156.5 L363.6,156.5 L364.8,156.5 L366,156.5 L367.2,156.5 L368.4,156.5 L369.6,156.5 L370.8,156.5 L372,156.5 L373.2,156.5 L374.4,156.5 L375.6,156.5 L376.8,156.5 L378,156.5 L379.2,156.5 L380.4,156.5 L381.6,156.5 L382.8,156.5 L384,156.5 L385.2,156.5 L386.4,156.2 L387.6,154.7 L388.8,153.3 L390,152.6 L391.2,151.8 L392.4,151.6 L393.6,151.3 L394.8,150.8 L396,149.9 L397.2,148.7 L398.4,149 L399.6,147.2 L400.8,147.8 L402,146.1 L403.2,145.2 L404.4,144.7 L405.6,145.3 L406.8,144.5 L408,143.8 L409.2,141.8 L410.4,142.1 L411.6,141.1 L412.8,139.3 L414,137.5 L415.2,134.3 L416.4,133.1 L417.6,133 L418.8,132.6 L420,129.9 L421.2,126.6 L422.4,126.7 L423.6,124.1 L424.8,120.2 L426,118.5 L427.2,115.9 L428.4,114.5 L429.6,109.6 L430.8,106.6 L432,102.9 L433.2,95.7 L434.4,91.3 L435.6,89.5 L436.8,88 L438,84.1 L439.2,82.5 L440.4,78.7 L441.6,73.5 L442.8,72.7 L444,72.3 L445.2,74.3 L446.4,77 L447.6,78.7 L448.8,76 L450,69.7 L451.2,71.2 L452.4,70.4 L453.6,73.3 L454.8,67.5 L456,67.8 L457.2,68.9 L458.4,65.9 L459.6,62.6 L460.8,60.8 L462,61.2 L463.2,60.6 L464.4,62.5 L465.6,61.3 L466.8,63.5 L468,61.2 L469.2,61.6 L470.4,57.4 L471.6,57.5 L472.8,58.9 L474,63.8 L475.2,73.2 L476.4,74.2 L477.6,69.1 L478.8,63.3 L480,59.6 L481.2,60.4 L482.4,62.1 L483.6,61.2 L484.8,54.9 L486,48.8 L487.2,57.4 L488.4,68.1 L489.6,68.6 L490.8,67.5 L492,62.3 L493.2,61.3 L494.4,58.5 L495.6,58.7 L496.8,59.1 L498,52.9 L499.2,53.6 L500.4,60 L501.6,59.7 L502.8,59 L504,57.3 L505.2,60.5 L506.4,70.1 L507.6,70.4 L508.8,69.6 L510,75.1 L511.2,75.7 L512.4,75.2 L513.6,75 L514.8,78.1 L516,72.4 L517.2,71.8 L518.4,71.1 L519.6,71 L520.8,61.9 L522,61.5 L523.2,52.3 L524.4,53.5 L525.6,57.1 L526.8,58.6 L528,57.2 L529.2,56.1 L530.4,61 L531.6,63.6 L532.8,68.4 L534,69.8 L535.2,65.1 L536.4,65.2 L537.6,57.8 L538.8,56.3 L540,60.8 L541.2,61.5 L542.4,66.5 L543.6,63 L544.8,58 L546,56.9 L547.2,62 L548.4,64.7 L549.6,64.8 L550.8,63.9 L552,56.4 L553.2,54 L554.4,56.6 L555.6,54.9 L556.8,60.3 L558,65.4 L559.2,63.4 L560.4,62.9 L561.6,59.2 L562.8,60.6 L564,56.1 L565.2,58.5 L566.4,48.9 L567.6,50.3 L568.8,50.8 L570,53.1 L571.2,55.3 L572.4,60.6 L573.6,59.7 L574.8,65.9 L576,56.8 L577.2,55.6 L578.4,61.7 L579.6,55.4" fill="none" stroke="#000000" stroke-width="1.0" stroke-linejoin="round"/>
<rect x="355.3" y="154.2" width="4.6" height="4.6" fill="#000000"/>
<rect x="364.8" y="154.2" width="4.6" height="4.6" fill="#000000"/>
<rect x="374.4" y="154.2" width="4.6" height="4.6" fill="#000000"/>
<rect x="383.9" y="154" width="4.6" height="4.6" fill="#000000"/>
<rect x="393.5" y="147.7" width="4.6" height="4.6" fill="#000000"/>
<rect x="403" y="142.8" width="4.6" height="4.6" fill="#000000"/>
<rect x="412.6" y="132.8" width="4.6" height="4.6" fill="#000000"/>
<rect x="422.1" y="119.1" width="4.6" height="4.6" fill="#000000"/>
<rect x="431.7" y="90.5" width="4.6" height="4.6" fill="#000000"/>
<rect x="441.2" y="70.1" width="4.6" height="4.6" fill="#000000"/>
<rect x="450.8" y="69.8" width="4.6" height="4.6" fill="#000000"/>
<rect x="460.3" y="58.6" width="4.6" height="4.6" fill="#000000"/>
<rect x="469.9" y="55.9" width="4.6" height="4.6" fill="#000000"/>
<rect x="479.4" y="58.9" width="4.6" height="4.6" fill="#000000"/>
<rect x="489" y="63.1" width="4.6" height="4.6" fill="#000000"/>
<rect x="498.5" y="57.6" width="4.6" height="4.6" fill="#000000"/>
<rect x="508.1" y="73" width="4.6" height="4.6" fill="#000000"/>
<rect x="517.6" y="66.2" width="4.6" height="4.6" fill="#000000"/>
<rect x="527.2" y="55" width="4.6" height="4.6" fill="#000000"/>
<rect x="536.7" y="54.9" width="4.6" height="4.6" fill="#000000"/>
<rect x="546.3" y="62.4" width="4.6" height="4.6" fill="#000000"/>
<rect x="555.8" y="62.9" width="4.6" height="4.6" fill="#000000"/>
<rect x="565.4" y="48" width="4.6" height="4.6" fill="#000000"/>
<rect x="574.9" y="53.3" width="4.6" height="4.6" fill="#000000"/>
<path d="M357.6,156.5 L358.8,156.5 L360,156.5 L361.2,156.5 L362.4,156.5 L363.6,156.5 L364.8,156.5 L366,156.5 L367.2,156.5 L368.4,156.5 L369.6,156.5 L370.8,156.5 L372,156.5 L373.2,156.5 L374.4,156.5 L375.6,156.5 L376.8,156.5 L378,156.5 L379.2,156.5 L380.4,156.5 L381.6,156.5 L382.8,156.5 L384,156.5 L385.2,156.5 L386.4,156.5 L387.6,156.5 L388.8,156.5 L390,156.5 L391.2,156.5 L392.4,156.5 L393.6,156.5 L394.8,156.5 L396,156.5 L397.2,156.3 L398.4,154.9 L399.6,153.5 L400.8,152.9 L402,152.7 L403.2,152 L404.4,151.7 L405.6,151.6 L406.8,150.6 L408,150 L409.2,149.2 L410.4,148 L411.6,146.7 L412.8,145.9 L414,144.3 L415.2,143.9 L416.4,142.5 L417.6,141.3 L418.8,140.6 L420,141.6 L421.2,138.6 L422.4,137.2 L423.6,135.2 L424.8,133 L426,132 L427.2,130.8 L428.4,128 L429.6,127.4 L430.8,126.6 L432,125.7 L433.2,123.8 L434.4,122.8 L435.6,121.8 L436.8,119.9 L438,118.6 L439.2,116.4 L440.4,115.8 L441.6,114.9 L442.8,111.3 L444,111.5 L445.2,112.1 L446.4,112.3 L447.6,111.8 L448.8,109.6 L450,110 L451.2,109.5 L452.4,109.4 L453.6,108.1 L454.8,109 L456,106.1 L457.2,105.1 L458.4,104.5 L459.6,102.2 L460.8,102 L462,101.9 L463.2,101.9 L464.4,102.1 L465.6,103.3 L466.8,103.1 L468,103.2 L469.2,105.6 L470.4,108.7 L471.6,107 L472.8,107 L474,103.6 L475.2,101.2 L476.4,101.8 L477.6,98.9 L478.8,98.5 L480,101.6 L481.2,106 L482.4,112 L483.6,105.8 L484.8,101.2 L486,97.8 L487.2,99 L488.4,100.9 L489.6,102.7 L490.8,104.3 L492,104.9 L493.2,104.1 L494.4,102.7 L495.6,103.1 L496.8,103.2 L498,97.4 L499.2,92.6 L500.4,85.4 L501.6,88.9 L502.8,92.8 L504,96 L505.2,95.3 L506.4,89.9 L507.6,93.4 L508.8,100.3 L510,107.3 L511.2,104.2 L512.4,105.9 L513.6,100.7 L514.8,106.2 L516,109.1 L517.2,106.8 L518.4,106.2 L519.6,103 L520.8,101 L522,101.4 L523.2,103.4 L524.4,102 L525.6,102.6 L526.8,103.5 L528,97.2 L529.2,94.5 L530.4,96.6 L531.6,100.9 L532.8,101.1 L534,105.5 L535.2,107.4 L536.4,111.5 L537.6,107.2 L538.8,98.8 L540,96.8 L541.2,94.7 L542.4,96.1 L543.6,95.7 L544.8,93.1 L546,94.6 L547.2,98.6 L548.4,99.2 L549.6,93.7 L550.8,93.1 L552,93 L553.2,94.2 L554.4,93.6 L555.6,95.1 L556.8,92.7 L558,93.8 L559.2,100.8 L560.4,95.2 L561.6,98.3 L562.8,97.3 L564,97.3 L565.2,95.5 L566.4,94.9 L567.6,92.6 L568.8,91 L570,91.6 L571.2,91.9 L572.4,94.3 L573.6,94.5 L574.8,97.8 L576,95.3 L577.2,97.8 L578.4,94.8 L579.6,91.5" fill="none" stroke="#ff0000" stroke-width="1.0" stroke-linejoin="round"/>
<circle cx="357.6" cy="156.5" r="2.4" fill="#ff0000"/>
<circle cx="367.1" cy="156.5" r="2.4" fill="#ff0000"/>
<circle cx="376.7" cy="156.5" r="2.4" fill="#ff0000"/>
<circle cx="386.2" cy="156.5" r="2.4" fill="#ff0000"/>
<circle cx="395.8" cy="156.5" r="2.4" fill="#ff0000"/>
<circle cx="405.3" cy="151.6" r="2.4" fill="#ff0000"/>
<circle cx="414.9" cy="144" r="2.4" fill="#ff0000"/>
<circle cx="424.4" cy="133.6" r="2.4" fill="#ff0000"/>
<circle cx="434" cy="123.1" r="2.4" fill="#ff0000"/>
<circle cx="443.5" cy="111.4" r="2.4" fill="#ff0000"/>
<circle cx="453.1" cy="108.6" r="2.4" fill="#ff0000"/>
<circle cx="462.6" cy="101.9" r="2.4" fill="#ff0000"/>
<circle cx="472.2" cy="107" r="2.4" fill="#ff0000"/>
<circle cx="481.7" cy="108.7" r="2.4" fill="#ff0000"/>
<circle cx="491.3" cy="104.5" r="2.4" fill="#ff0000"/>
<circle cx="500.8" cy="86.7" r="2.4" fill="#ff0000"/>
<circle cx="510.4" cy="106.3" r="2.4" fill="#ff0000"/>
<circle cx="519.9" cy="102.5" r="2.4" fill="#ff0000"/>
<circle cx="529.5" cy="95" r="2.4" fill="#ff0000"/>
<circle cx="539" cy="98.5" r="2.4" fill="#ff0000"/>
<circle cx="548.6" cy="98.4" r="2.4" fill="#ff0000"/>
<circle cx="558.1" cy="94.5" r="2.4" fill="#ff0000"/>
<circle cx="567.7" cy="92.5" r="2.4" fill="#ff0000"/>
<circle cx="577.2" cy="97.8" r="2.4" fill="#ff0000"/>
<path d="M357.6,156.5 L358.8,156.5 L360,156.5 L361.2,156.5 L362.4,156.5 L363.6,156.5 L364.8,156.5 L366,156.5 L367.2,156.5 L368.4,156.5 L369.6,156.5 L370.8,156.5 L372,156.5 L373.2,156.5 L374.4,156.5 L375.6,156.5 L376.8,156.5 L378,156.5 L379.2,156.5 L380.4,156.5 L381.6,156.5 L382.8,156.5 L384,156.5 L385.2,156.5 L386.4,156.5 L387.6,156.5 L388.8,156.5 L390,156.5 L391.2,156.5 L392.4,156.5 L393.6,156.5 L394.8,156.5 L396,156.5 L397.2,156.4 L398.4,155.5 L399.6,154.6 L400.8,154.2 L402,154.2 L403.2,154.1 L404.4,154 L405.6,154 L406.8,153.8 L408,153.7 L409.2,153.5 L410.4,153.4 L411.6,153.8 L412.8,153 L414,152.3 L415.2,151.8 L416.4,151.2 L417.6,151.3 L418.8,151.7 L420,150.5 L421.2,149.7 L422.4,148.6 L423.6,147.3 L424.8,148 L426,147.5 L427.2,146.4 L428.4,146.8 L429.6,146.5 L430.8,145.8 L432,145.5 L433.2,145 L434.4,143.7 L435.6,140.7 L436.8,137.9 L438,135.3 L439.2,132.3 L440.4,131.5 L441.6,129.8 L442.8,129.1 L444,126.7 L445.2,125.4 L446.4,124.8 L447.6,124.9 L448.8,121.5 L450,120.3 L451.2,117.6 L452.4,115.9 L453.6,116 L454.8,115.4 L456,115.8 L457.2,116.9 L458.4,116.7 L459.6,116.4 L460.8,115.6 L462,113.6 L463.2,111.6 L464.4,110.3 L465.6,109.8 L466.8,109.8 L468,112.6 L469.2,113.7 L470.4,115.6 L471.6,115.2 L472.8,113.9 L474,114.8 L475.2,114.6 L476.4,115.5 L477.6,116.6 L478.8,115.1 L480,116.3 L481.2,114.4 L482.4,116.3 L483.6,118 L484.8,116.2 L486,114.9 L487.2,116.3 L488.4,115.1 L489.6,115.9 L490.8,111.8 L492,113.8 L493.2,116.9 L494.4,114.7 L495.6,112.8 L496.8,112.5 L498,113.7 L499.2,112.3 L500.4,114.3 L501.6,115.6 L502.8,112.8 L504,111.7 L505.2,111.7 L506.4,115.2 L507.6,113.2 L508.8,115.9 L510,113.8 L511.2,115.1 L512.4,118.4 L513.6,119 L514.8,116.9 L516,115.2 L517.2,116.3 L518.4,117.3 L519.6,120.8 L520.8,120.7 L522,118.9 L523.2,122.4 L524.4,123.5 L525.6,117.2 L526.8,118.3 L528,117.8 L529.2,117.7 L530.4,118.3 L531.6,119 L532.8,114.8 L534,115.6 L535.2,115.7 L536.4,114.1 L537.6,113 L538.8,114.5 L540,112.8 L541.2,111.6 L542.4,108.9 L543.6,111.3 L544.8,111.5 L546,111 L547.2,112.6 L548.4,112.2 L549.6,111.1 L550.8,109 L552,111 L553.2,112 L554.4,108.4 L555.6,110.6 L556.8,109.5 L558,108.4 L559.2,110.1 L560.4,107.6 L561.6,106.6 L562.8,106.8 L564,107.6 L565.2,107.2 L566.4,108.2 L567.6,108.5 L568.8,109.4 L570,107.5 L571.2,108.4 L572.4,108.6 L573.6,107.8 L574.8,110.3 L576,110.7 L577.2,111.4 L578.4,111.9 L579.6,111.9" fill="none" stroke="#0000ff" stroke-width="1.0" stroke-linejoin="round"/>
<polygon points="357.6,153.9 355.1,158.5 360.1,158.5" fill="#0000ff"/>
<polygon points="367.1,153.9 364.6,158.5 369.7,158.5" fill="#0000ff"/>
<polygon points="376.7,153.9 374.2,158.5 379.2,158.5" fill="#0000ff"/>
<polygon points="386.2,153.9 383.7,158.5 388.8,158.5" fill="#0000ff"/>
<polygon points="395.8,153.9 393.3,158.5 398.3,158.5" fill="#0000ff"/>
<polygon points="405.3,151.4 402.8,156 407.9,156" fill="#0000ff"/>
<polygon points="414.9,149.3 412.4,153.9 417.4,153.9" fill="#0000ff"/>
<polygon points="424.4,145.1 421.9,149.7 427,149.7" fill="#0000ff"/>
<polygon points="434,141.5 431.5,146.1 436.5,146.1" fill="#0000ff"/>
<polygon points="443.5,125 441,129.6 446.1,129.6" fill="#0000ff"/>
<polygon points="453.1,113.3 450.6,117.9 455.6,117.9" fill="#0000ff"/>
<polygon points="462.6,109.9 460.1,114.5 465.2,114.5" fill="#0000ff"/>
<polygon points="472.2,111.9 469.7,116.5 474.7,116.5" fill="#0000ff"/>
<polygon points="481.7,112.6 479.2,117.2 484.3,117.2" fill="#0000ff"/>
<polygon points="491.3,109.9 488.8,114.5 493.8,114.5" fill="#0000ff"/>
<polygon points="500.8,112.1 498.3,116.7 503.4,116.7" fill="#0000ff"/>
<polygon points="510.4,111.5 507.8,116.1 512.9,116.1" fill="#0000ff"/>
<polygon points="519.9,118.1 517.4,122.7 522.5,122.7" fill="#0000ff"/>
<polygon points="529.5,115.2 526.9,119.8 532,119.8" fill="#0000ff"/>
<polygon points="539,111.5 536.5,116.1 541.6,116.1" fill="#0000ff"/>
<polygon points="548.6,109.4 546,114 551.1,114" fill="#0000ff"/>
<polygon points="558.1,105.9 555.6,110.5 560.6,110.5" fill="#0000ff"/>
<polygon points="567.7,105.9 565.1,110.5 570.2,110.5" fill="#0000ff"/>
<polygon points="577.2,108.7 574.7,113.3 579.7,113.3" fill="#0000ff"/>
<path d="M357.6,156.5 L358.8,156.5 L360,156.5 L361.2,156.5 L362.4,156.5 L363.6,156.5 L364.8,156.5 L366,156.5 L367.2,156.5 L368.4,156.5 L369.6,156.5 L370.8,156.5 L372,156.5 L373.2,156.5 L374.4,156.5 L375.6,156.5 L376.8,156.5 L378,156.5 L379.2,156.5 L380.4,156.5 L381.6,156.5 L382.8,156.5 L384,156.5 L385.2,156.5 L386.4,156.5 L387.6,156.5 L388.8,156.5 L390,156.5 L391.2,156.5 L392.4,156.5 L393.6,156.5 L394.8,156.5 L396,156.5 L397.2,156.4 L398.4,155.9 L399.6,155.4 L400.8,155.3 L402,155.3 L403.2,155.2 L404.4,155.1 L405.6,155.1 L406.8,155 L408,155 L409.2,155.1 L410.4,155 L411.6,154.9 L412.8,154.9 L414,154.8 L415.2,154.7 L416.4,154.6 L417.6,154.5 L418.8,154.6 L420,154.6 L421.2,154.6 L422.4,154.4 L423.6,154.3 L424.8,154.3 L426,154.3 L427.2,154.4 L428.4,154.1 L429.6,153.9 L430.8,153.9 L432,153.3 L433.2,153.4 L434.4,152.9 L435.6,152.2 L436.8,151.8 L438,151.8 L439.2,151.2 L440.4,149.6 L441.6,148 L442.8,146.9 L444,144.7 L445.2,143.8 L446.4,142.6 L447.6,140.6 L448.8,138.7 L450,136.9 L451.2,136.5 L452.4,136.2 L453.6,134.4 L454.8,132.8 L456,132.1 L457.2,127.8 L458.4,126.9 L459.6,123.6 L460.8,122.4 L462,121.3 L463.2,121.9 L464.4,120.3 L465.6,119.8 L466.8,120 L468,120.4 L469.2,119.2 L470.4,118.3 L471.6,118.8 L472.8,120.3 L474,119.9 L475.2,119.9 L476.4,120.2 L477.6,118 L478.8,119.6 L480,116.9 L481.2,116.9 L482.4,119.4 L483.6,119.3 L484.8,119.6 L486,119.7 L487.2,119.3 L488.4,118 L489.6,118.5 L490.8,118.9 L492,119.3 L493.2,119.6 L494.4,120 L495.6,117.6 L496.8,116.6 L498,116.9 L499.2,117 L500.4,117.5 L501.6,116.3 L502.8,117.3 L504,118 L505.2,116.1 L506.4,116.4 L507.6,115.4 L508.8,117.7 L510,115.6 L511.2,115.6 L512.4,119 L513.6,119.7 L514.8,119.3 L516,119.3 L517.2,120.6 L518.4,119.1 L519.6,121.5 L520.8,122.5 L522,121.1 L523.2,120 L524.4,119.7 L525.6,122.2 L526.8,119.8 L528,120.4 L529.2,119.6 L530.4,121.4 L531.6,122 L532.8,121.5 L534,120.2 L535.2,118.1 L536.4,118.5 L537.6,117.6 L538.8,116.6 L540,119 L541.2,117.6 L542.4,119 L543.6,116 L544.8,116.4 L546,116.2 L547.2,117.3 L548.4,117.1 L549.6,118.6 L550.8,116.6 L552,114.3 L553.2,115.7 L554.4,115 L555.6,116.5 L556.8,117.8 L558,114.8 L559.2,116.3 L560.4,113.4 L561.6,114.7 L562.8,113.9 L564,114.6 L565.2,115.3 L566.4,114.7 L567.6,116.2 L568.8,115.9 L570,114.2 L571.2,115 L572.4,113.5 L573.6,114.2 L574.8,115.3 L576,113.1 L577.2,115.3 L578.4,115.4 L579.6,112.6" fill="none" stroke="#ff00ff" stroke-width="1.0" stroke-linejoin="round"/>
<polygon points="357.6,159.2 355.1,154.6 360.1,154.6" fill="#ff00ff"/>
<polygon points="367.1,159.2 364.6,154.6 369.7,154.6" fill="#ff00ff"/>
<polygon points="376.7,159.2 374.2,154.6 379.2,154.6" fill="#ff00ff"/>
<polygon points="386.2,159.2 383.7,154.6 388.8,154.6" fill="#ff00ff"/>
<polygon points="395.8,159.2 393.3,154.6 398.3,154.6" fill="#ff00ff"/>
<polygon points="405.3,157.7 402.8,153.1 407.9,153.1" fill="#ff00ff"/>
<polygon points="414.9,157.4 412.4,152.8 417.4,152.8" fill="#ff00ff"/>
<polygon points="424.4,156.9 421.9,152.3 427,152.3" fill="#ff00ff"/>
<polygon points="434,155.7 431.5,151.1 436.5,151.1" fill="#ff00ff"/>
<polygon points="443.5,148.2 441,143.6 446.1,143.6" fill="#ff00ff"/>
<polygon points="453.1,137.8 450.6,133.2 455.6,133.2" fill="#ff00ff"/>
<polygon points="462.6,124.2 460.1,119.6 465.2,119.6" fill="#ff00ff"/>
<polygon points="472.2,122.1 469.7,117.5 474.7,117.5" fill="#ff00ff"/>
<polygon points="481.7,120.7 479.2,116.1 484.3,116.1" fill="#ff00ff"/>
<polygon points="491.3,121.7 488.8,117.1 493.8,117.1" fill="#ff00ff"/>
<polygon points="500.8,119.7 498.3,115.1 503.4,115.1" fill="#ff00ff"/>
<polygon points="510.4,118.3 507.8,113.7 512.9,113.7" fill="#ff00ff"/>
<polygon points="519.9,124.4 517.4,119.8 522.5,119.8" fill="#ff00ff"/>
<polygon points="529.5,122.6 526.9,118 532,118" fill="#ff00ff"/>
<polygon points="539,119.7 536.5,115.1 541.6,115.1" fill="#ff00ff"/>
<polygon points="548.6,120 546,115.4 551.1,115.4" fill="#ff00ff"/>
<polygon points="558.1,117.6 555.6,113 560.6,113" fill="#ff00ff"/>
<polygon points="567.7,118.8 565.1,114.2 570.2,114.2" fill="#ff00ff"/>
<polygon points="577.2,117.9 574.7,113.3 579.7,113.3" fill="#ff00ff"/>
<path d="M357.6,156.5 L358.8,156.5 L360,156.5 L361.2,156.5 L362.4,156.5 L363.6,156.5 L364.8,156.5 L366,156.5 L367.2,156.5 L368.4,156.5 L369.6,156.5 L370.8,156.5 L372,156.5 L373.2,156.5 L374.4,156.5 L375.6,156.5 L376.8,156.5 L378,156.5 L379.2,156.5 L380.4,156.5 L381.6,156.5 L382.8,156.5 L384,156.5 L385.2,156.5 L386.4,156.5 L387.6,156.5 L388.8,156.5 L390,156.5 L391.2,156.5 L392.4,156.5 L393.6,156.5 L394.8,156.5 L396,156.5 L397.2,156.4 L398.4,156.1 L399.6,155.8 L400.8,155.6 L402,155.7 L403.2,155.6 L404.4,155.6 L405.6,155.6 L406.8,155.6 L408,155.5 L409.2,155.6 L410.4,155.5 L411.6,155.5 L412.8,155.5 L414,155.5 L415.2,155.5 L416.4,155.5 L417.6,155.5 L418.8,155.4 L420,155.4 L421.2,155.4 L422.4,155.5 L423.6,155.5 L424.8,155.4 L426,155.3 L427.2,155.3 L428.4,155.4 L429.6,155.3 L430.8,155.2 L432,155.3 L433.2,155.3 L434.4,155.2 L435.6,155.1 L436.8,154.7 L438,154.7 L439.2,154.3 L440.4,153.9 L441.6,153.7 L442.8,153 L444,152.4 L445.2,151.9 L446.4,150.7 L447.6,149 L448.8,147.1 L450,146 L451.2,143.5 L452.4,142.4 L453.6,142.3 L454.8,141.5 L456,140.8 L457.2,138.8 L458.4,138.2 L459.6,136 L460.8,135.5 L462,134 L463.2,132.7 L464.4,132.5 L465.6,132.3 L466.8,131.7 L468,130.7 L469.2,127.8 L470.4,126.4 L471.6,126 L472.8,126.4 L474,125.4 L475.2,124.8 L476.4,125.2 L477.6,123.9 L478.8,123 L480,122.5 L481.2,124.2 L482.4,121.8 L483.6,120.9 L484.8,121.3 L486,122.4 L487.2,122.3 L488.4,121.8 L489.6,121.2 L490.8,124.1 L492,125.3 L493.2,125.8 L494.4,124.1 L495.6,123.5 L496.8,124.4 L498,123.6 L499.2,123.8 L500.4,123 L501.6,123.3 L502.8,121.9 L504,121 L505.2,121.6 L506.4,122.7 L507.6,122.6 L508.8,121.6 L510,118.7 L511.2,119.1 L512.4,122.9 L513.6,122.9 L514.8,122.6 L516,125.5 L517.2,123.4 L518.4,124 L519.6,125.9 L520.8,124.4 L522,124.6 L523.2,126.2 L524.4,128.4 L525.6,127.2 L526.8,125.4 L528,126.2 L529.2,125 L530.4,123.8 L531.6,125.5 L532.8,126.5 L534,125.5 L535.2,125.1 L536.4,120.5 L537.6,121.1 L538.8,121 L540,123 L541.2,121.9 L542.4,123 L543.6,120.7 L544.8,122.2 L546,122.4 L547.2,121.6 L548.4,123.6 L549.6,121.5 L550.8,120.5 L552,120.7 L553.2,120.8 L554.4,119.6 L555.6,121.8 L556.8,120.2 L558,120.3 L559.2,118.7 L560.4,119.6 L561.6,117.9 L562.8,119.2 L564,117.7 L565.2,116.9 L566.4,118.4 L567.6,118.1 L568.8,115.8 L570,118.3 L571.2,113.2 L572.4,114.8 L573.6,115.1 L574.8,117.6 L576,118.2 L577.2,113.9 L578.4,116.5 L579.6,118" fill="none" stroke="#008000" stroke-width="1.0" stroke-linejoin="round"/>
<polygon points="357.6,153.7 360.4,156.5 357.6,159.3 354.8,156.5" fill="#008000"/>
<polygon points="367.1,153.7 369.9,156.5 367.1,159.3 364.4,156.5" fill="#008000"/>
<polygon points="376.7,153.7 379.5,156.5 376.7,159.3 373.9,156.5" fill="#008000"/>
<polygon points="386.2,153.7 389,156.5 386.2,159.3 383.5,156.5" fill="#008000"/>
<polygon points="395.8,153.7 398.6,156.5 395.8,159.3 393,156.5" fill="#008000"/>
<polygon points="405.3,152.8 408.1,155.6 405.3,158.4 402.6,155.6" fill="#008000"/>
<polygon points="414.9,152.7 417.7,155.5 414.9,158.3 412.1,155.5" fill="#008000"/>
<polygon points="424.4,152.6 427.2,155.4 424.4,158.2 421.7,155.4" fill="#008000"/>
<polygon points="434,152.5 436.7,155.3 434,158 431.2,155.3" fill="#008000"/>
<polygon points="443.5,149.8 446.3,152.6 443.5,155.4 440.8,152.6" fill="#008000"/>
<polygon points="453.1,139.6 455.8,142.3 453.1,145.1 450.3,142.3" fill="#008000"/>
<polygon points="462.6,130.5 465.4,133.3 462.6,136.1 459.9,133.3" fill="#008000"/>
<polygon points="472.2,123.4 474.9,126.1 472.2,128.9 469.4,126.1" fill="#008000"/>
<polygon points="481.7,120.4 484.5,123.1 481.7,125.9 479,123.1" fill="#008000"/>
<polygon points="491.3,121.8 494,124.6 491.3,127.3 488.5,124.6" fill="#008000"/>
<polygon points="500.8,120.4 503.6,123.1 500.8,125.9 498.1,123.1" fill="#008000"/>
<polygon points="510.4,116.1 513.1,118.9 510.4,121.6 507.6,118.9" fill="#008000"/>
<polygon points="519.9,122.8 522.7,125.5 519.9,128.3 517.2,125.5" fill="#008000"/>
<polygon points="529.5,121.9 532.2,124.7 529.5,127.4 526.7,124.7" fill="#008000"/>
<polygon points="539,118.6 541.8,121.4 539,124.2 536.3,121.4" fill="#008000"/>
<polygon points="548.6,120.6 551.3,123.3 548.6,126.1 545.8,123.3" fill="#008000"/>
<polygon points="558.1,117.4 560.9,120.1 558.1,122.9 555.4,120.1" fill="#008000"/>
<polygon points="567.7,115.2 570.4,118 567.7,120.8 564.9,118" fill="#008000"/>
<polygon points="577.2,111.1 580,113.9 577.2,116.7 574.5,113.9" fill="#008000"/>
<path d="M357.6,156.5 L358.8,156.5 L360,156.5 L361.2,156.5 L362.4,156.5 L363.6,156.5 L364.8,156.5 L366,156.4 L367.2,156.4 L368.4,156.4 L369.6,156.4 L370.8,156.4 L372,156.4 L373.2,156.4 L374.4,156.4 L375.6,156.4 L376.8,156.4 L378,156.4 L379.2,156.4 L380.4,156.3 L381.6,156.3 L382.8,156.3 L384,156.3 L385.2,156.3 L386.4,156.3 L387.6,156.3 L388.8,156.3 L390,156.3 L391.2,156.3 L392.4,156.3 L393.6,156.3 L394.8,156.3 L396,156.2 L397.2,156.2 L398.4,156.2 L399.6,156.2 L400.8,156.2 L402,156.2 L403.2,156.2 L404.4,156.2 L405.6,156.3 L406.8,156.3 L408,156.3 L409.2,156.3 L410.4,156.3 L411.6,156.3 L412.8,156.3 L414,156.3 L415.2,156.3 L416.4,156.3 L417.6,156.3 L418.8,156.4 L420,156.4 L421.2,156.4 L422.4,156.4 L423.6,156.4 L424.8,156.4 L426,156.4 L427.2,156.4 L428.4,156.4 L429.6,156.4 L430.8,156.4 L432,156.4 L433.2,156.5 L434.4,156.5 L435.6,156.5 L436.8,156.5 L438,156.5 L439.2,156.5 L440.4,156.4 L441.6,156.1 L442.8,155.9 L444,155.6 L445.2,155.2 L446.4,154.9 L447.6,154.6 L448.8,154 L450,152.6 L451.2,151.1 L452.4,149.7 L453.6,148.1 L454.8,147.7 L456,146.7 L457.2,146.1 L458.4,144.9 L459.6,143.4 L460.8,142.3 L462,140.9 L463.2,140.2 L464.4,138.5 L465.6,137.6 L466.8,136.5 L468,134.9 L469.2,133.9 L470.4,132.9 L471.6,133.3 L472.8,131.9 L474,132 L475.2,131.6 L476.4,131 L477.6,131.3 L478.8,131.4 L480,131.8 L481.2,132.2 L482.4,131.5 L483.6,130.8 L484.8,130 L486,130.3 L487.2,129.5 L488.4,129.4 L489.6,128.4 L490.8,130.6 L492,130.9 L493.2,130.4 L494.4,129.8 L495.6,127.9 L496.8,126.4 L498,128.4 L499.2,127.1 L500.4,128 L501.6,128.4 L502.8,126.4 L504,126.2 L505.2,125.8 L506.4,127.1 L507.6,125.8 L508.8,125.2 L510,124.3 L511.2,125.3 L512.4,124.1 L513.6,124.5 L514.8,124 L516,126.3 L517.2,125.5 L518.4,127 L519.6,127.9 L520.8,126.8 L522,126 L523.2,126.6 L524.4,129.2 L525.6,129.1 L526.8,129.3 L528,127.7 L529.2,125.6 L530.4,128.1 L531.6,128.4 L532.8,131 L534,129.6 L535.2,128.9 L536.4,128.9 L537.6,129.8 L538.8,130 L540,130.5 L541.2,131.7 L542.4,130.2 L543.6,129.7 L544.8,128.7 L546,126.2 L547.2,128.1 L548.4,128 L549.6,128 L550.8,126.2 L552,128 L553.2,127.3 L554.4,124.3 L555.6,123.9 L556.8,123.9 L558,124.5 L559.2,124.1 L560.4,124.3 L561.6,125.2 L562.8,124.6 L564,124.6 L565.2,126 L566.4,124.7 L567.6,124.9 L568.8,125.7 L570,128.5 L571.2,126.9 L572.4,123.8 L573.6,124.8 L574.8,125.1 L576,124.1 L577.2,125 L578.4,124.5 L579.6,122.2" fill="none" stroke="#000080" stroke-width="1.0" stroke-linejoin="round"/>
<polygon points="355,156.5 359.6,154 359.6,159" fill="#000080"/>
<polygon points="364.5,156.4 369.1,153.9 369.1,159" fill="#000080"/>
<polygon points="374.1,156.4 378.7,153.8 378.7,158.9" fill="#000080"/>
<polygon points="383.6,156.3 388.2,153.8 388.2,158.8" fill="#000080"/>
<polygon points="393.1,156.2 397.7,153.7 397.7,158.8" fill="#000080"/>
<polygon points="402.7,156.3 407.3,153.7 407.3,158.8" fill="#000080"/>
<polygon points="412.2,156.3 416.8,153.8 416.8,158.9" fill="#000080"/>
<polygon points="421.8,156.4 426.4,153.9 426.4,158.9" fill="#000080"/>
<polygon points="431.3,156.5 435.9,153.9 435.9,159" fill="#000080"/>
<polygon points="440.9,155.7 445.5,153.2 445.5,158.2" fill="#000080"/>
<polygon points="450.4,148.8 455,146.2 455,151.3" fill="#000080"/>
<polygon points="460,140.5 464.6,138 464.6,143" fill="#000080"/>
<polygon points="469.5,132.6 474.1,130.1 474.1,135.1" fill="#000080"/>
<polygon points="479.1,131.9 483.7,129.4 483.7,134.4" fill="#000080"/>
<polygon points="488.6,130.7 493.2,128.1 493.2,133.2" fill="#000080"/>
<polygon points="498.2,128.1 502.8,125.6 502.8,130.7" fill="#000080"/>
<polygon points="507.7,124.6 512.3,122.1 512.3,127.1" fill="#000080"/>
<polygon points="517.3,127.6 521.9,125 521.9,130.1" fill="#000080"/>
<polygon points="526.8,126.1 531.4,123.6 531.4,128.7" fill="#000080"/>
<polygon points="536.4,130.1 541,127.5 541,132.6" fill="#000080"/>
<polygon points="545.9,128 550.5,125.5 550.5,130.5" fill="#000080"/>
<polygon points="555.5,124.5 560.1,122 560.1,127" fill="#000080"/>
<polygon points="565,124.9 569.6,122.4 569.6,127.5" fill="#000080"/>
<polygon points="574.6,125 579.2,122.5 579.2,127.5" fill="#000080"/>
<path d="M357.6,156.5 L358.8,156.5 L360,156.5 L361.2,156.5 L362.4,156.5 L363.6,156.5 L364.8,156.5 L366,156.4 L367.2,156.4 L368.4,156.4 L369.6,156.4 L370.8,156.4 L372,156.4 L373.2,156.4 L374.4,156.4 L375.6,156.4 L376.8,156.4 L378,156.4 L379.2,156.4 L380.4,156.3 L381.6,156.3 L382.8,156.3 L384,156.3 L385.2,156.3 L386.4,156.3 L387.6,156.3 L388.8,156.3 L390,156.3 L391.2,156.3 L392.4,156.3 L393.6,156.3 L394.8,156.3 L396,156.2 L397.2,156.2 L398.4,156.2 L399.6,156.2 L400.8,156.2 L402,156.2 L403.2,156.2 L404.4,156.2 L405.6,156.2 L406.8,156.3 L408,156.3 L409.2,156.3 L410.4,156.3 L411.6,156.3 L412.8,156.3 L414,156.3 L415.2,156.3 L416.4,156.3 L417.6,156.3 L418.8,156.3 L420,156.3 L421.2,156.3 L422.4,156.3 L423.6,156.4 L424.8,156.4 L426,156.4 L427.2,156.4 L428.4,156.4 L429.6,156.4 L430.8,156.4 L432,156.4 L433.2,156.4 L434.4,156.4 L435.6,156.4 L436.8,156.4 L438,156.4 L439.2,156.4 L440.4,156.5 L441.6,156.5 L442.8,156.5 L444,156.5 L445.2,156.5 L446.4,156.5 L447.6,156.5 L448.8,156.5 L450,156.4 L451.2,156.1 L452.4,155.8 L453.6,155.5 L454.8,155.2 L456,154.8 L457.2,154.6 L458.4,154.2 L459.6,153.6 L460.8,153 L462,152.2 L463.2,151.4 L464.4,150.3 L465.6,149.7 L466.8,148.5 L468,147.1 L469.2,145.6 L470.4,141.9 L471.6,142.1 L472.8,141 L474,141.3 L475.2,141.2 L476.4,142.2 L477.6,141.8 L478.8,141.9 L480,140.9 L481.2,142 L482.4,141.9 L483.6,141.8 L484.8,140.1 L486,140.6 L487.2,137.7 L488.4,138 L489.6,137.1 L490.8,137.3 L492,136.5 L493.2,135.1 L494.4,135 L495.6,135.5 L496.8,135.4 L498,135.5 L499.2,135.8 L500.4,136 L501.6,133.6 L502.8,132.7 L504,132.2 L505.2,131.1 L506.4,130.9 L507.6,130.1 L508.8,130.1 L510,130.4 L511.2,129.1 L512.4,129.1 L513.6,129.4 L514.8,130.6 L516,134 L517.2,132.2 L518.4,133 L519.6,132.9 L520.8,133.8 L522,135 L523.2,135.3 L524.4,133.1 L525.6,131 L526.8,132.6 L528,135 L529.2,134.6 L530.4,135.6 L531.6,135.2 L532.8,133.6 L534,134.6 L535.2,135.3 L536.4,136.1 L537.6,134 L538.8,134.6 L540,134.9 L541.2,133.8 L542.4,134 L543.6,132.8 L544.8,133.8 L546,134 L547.2,132.2 L548.4,133.3 L549.6,133.3 L550.8,134.7 L552,133.9 L553.2,136 L554.4,135.4 L555.6,136.4 L556.8,136.2 L558,136 L559.2,134.6 L560.4,134.4 L561.6,133.8 L562.8,134.2 L564,133.2 L565.2,134.9 L566.4,133.6 L567.6,133.2 L568.8,132.9 L570,133.6 L571.2,133.2 L572.4,134.2 L573.6,134.3 L574.8,134.6 L576,133.5 L577.2,133.5 L578.4,134.8 L579.6,135.3" fill="none" stroke="#8000ff" stroke-width="1.0" stroke-linejoin="round"/>
<polygon points="360.2,156.5 355.6,154 355.6,159" fill="#8000ff"/>
<polygon points="369.8,156.4 365.2,153.9 365.2,159" fill="#8000ff"/>
<polygon points="379.3,156.4 374.7,153.8 374.7,158.9" fill="#8000ff"/>
<polygon points="388.9,156.3 384.3,153.8 384.3,158.8" fill="#8000ff"/>
<polygon points="398.4,156.2 393.8,153.7 393.8,158.8" fill="#8000ff"/>
<polygon points="408,156.2 403.4,153.7 403.4,158.8" fill="#8000ff"/>
<polygon points="417.5,156.3 412.9,153.8 412.9,158.8" fill="#8000ff"/>
<polygon points="427.1,156.4 422.5,153.8 422.5,158.9" fill="#8000ff"/>
<polygon points="436.6,156.4 432,153.9 432,158.9" fill="#8000ff"/>
<polygon points="446.2,156.5 441.6,153.9 441.6,159" fill="#8000ff"/>
<polygon points="455.7,155.6 451.1,153.1 451.1,158.2" fill="#8000ff"/>
<polygon points="465.3,151.8 460.7,149.3 460.7,154.3" fill="#8000ff"/>
<polygon points="474.8,141.6 470.2,139 470.2,144.1" fill="#8000ff"/>
<polygon points="484.4,142 479.8,139.4 479.8,144.5" fill="#8000ff"/>
<polygon points="493.9,137 489.3,134.5 489.3,139.5" fill="#8000ff"/>
<polygon points="503.5,135.2 498.9,132.6 498.9,137.7" fill="#8000ff"/>
<polygon points="513,130 508.4,127.5 508.4,132.5" fill="#8000ff"/>
<polygon points="522.6,133.2 518,130.6 518,135.7" fill="#8000ff"/>
<polygon points="532.1,134.8 527.5,132.3 527.5,137.3" fill="#8000ff"/>
<polygon points="541.7,134.6 537.1,132.1 537.1,137.2" fill="#8000ff"/>
<polygon points="551.2,133.3 546.6,130.7 546.6,135.8" fill="#8000ff"/>
<polygon points="560.8,135.9 556.2,133.3 556.2,138.4" fill="#8000ff"/>
<polygon points="570.3,133.2 565.7,130.7 565.7,135.7" fill="#8000ff"/>
<polygon points="579.9,133.5 575.3,131 575.3,136.1" fill="#8000ff"/>
<path d="M357.6,156.5 L358.8,156.5 L360,156.5 L361.2,156.5 L362.4,156.5 L363.6,156.5 L364.8,156.5 L366,156.5 L367.2,156.5 L368.4,156.5 L369.6,156.5 L370.8,156.5 L372,156.5 L373.2,156.5 L374.4,156.5 L375.6,156.5 L376.8,156.5 L378,156.5 L379.2,156.5 L380.4,156.6 L381.6,156.6 L382.8,156.6 L384,156.6 L385.2,156.6 L386.4,156.6 L387.6,156.6 L388.8,156.6 L390,156.6 L391.2,156.6 L392.4,156.6 L393.6,156.6 L394.8,156.6 L396,156.6 L397.2,156.6 L398.4,156.6 L399.6,156.6 L400.8,156.6 L402,156.6 L403.2,156.6 L404.4,156.6 L405.6,156.6 L406.8,156.5 L408,156.5 L409.2,156.5 L410.4,156.5 L411.6,156.5 L412.8,156.5 L414,156.5 L415.2,156.5 L416.4,156.5 L417.6,156.5 L418.8,156.5 L420,156.5 L421.2,156.5 L422.4,156.5 L423.6,156.4 L424.8,156.4 L426,156.4 L427.2,156.4 L428.4,156.4 L429.6,156.4 L430.8,156.4 L432,156.4 L433.2,156.4 L434.4,156.4 L435.6,156.4 L436.8,156.4 L438,156.4 L439.2,156.4 L440.4,156.3 L441.6,156.3 L442.8,156.3 L444,156.3 L445.2,156.3 L446.4,156.3 L447.6,156.3 L448.8,156.3 L450,156.3 L451.2,156.3 L452.4,156.3 L453.6,156.3 L454.8,156.3 L456,156.2 L457.2,156.2 L458.4,156.2 L459.6,156.2 L460.8,156.2 L462,156.3 L463.2,156.4 L464.4,156.5 L465.6,156 L466.8,155.5 L468,154.8 L469.2,154 L470.4,153.2 L471.6,152.9 L472.8,152.6 L474,152.2 L475.2,151.7 L476.4,150.3 L477.6,149.9 L478.8,148.6 L480,147.6 L481.2,146.8 L482.4,145.7 L483.6,145.1 L484.8,145.1 L486,144.2 L487.2,144.1 L488.4,143.3 L489.6,143.1 L490.8,141.1 L492,140.8 L493.2,140.3 L494.4,139.9 L495.6,138.2 L496.8,137.5 L498,138.1 L499.2,136.9 L500.4,137 L501.6,135.6 L502.8,135.8 L504,135.6 L505.2,134.4 L506.4,134.3 L507.6,132.9 L508.8,132.5 L510,133 L511.2,133.3 L512.4,132.8 L513.6,133.7 L514.8,133.1 L516,134.8 L517.2,135.7 L518.4,136.7 L519.6,136.5 L520.8,135.9 L522,134.6 L523.2,136.6 L524.4,138.2 L525.6,137.6 L526.8,136.8 L528,137.3 L529.2,137.9 L530.4,138.1 L531.6,136.5 L532.8,136.7 L534,137 L535.2,136.3 L536.4,136.9 L537.6,136.4 L538.8,137.4 L540,137 L541.2,136.5 L542.4,135.2 L543.6,136.9 L544.8,135.6 L546,136.3 L547.2,135.4 L548.4,136.5 L549.6,135.5 L550.8,135.8 L552,136.5 L553.2,138.9 L554.4,138.3 L555.6,137.9 L556.8,139 L558,137.9 L559.2,138 L560.4,137.2 L561.6,138.7 L562.8,137.7 L564,138.7 L565.2,138.1 L566.4,138.2 L567.6,138 L568.8,138.4 L570,137.5 L571.2,137 L572.4,137.4 L573.6,137.3 L574.8,138.8 L576,138.9 L577.2,137.6 L578.4,137.5 L579.6,137.7" fill="none" stroke="#800080" stroke-width="1.0" stroke-linejoin="round"/>
<circle cx="357.6" cy="156.5" r="2.4" fill="#800080"/>
<circle cx="367.1" cy="156.5" r="2.4" fill="#800080"/>
<circle cx="376.7" cy="156.5" r="2.4" fill="#800080"/>
<circle cx="386.2" cy="156.6" r="2.4" fill="#800080"/>
<circle cx="395.8" cy="156.6" r="2.4" fill="#800080"/>
<circle cx="405.3" cy="156.6" r="2.4" fill="#800080"/>
<circle cx="414.9" cy="156.5" r="2.4" fill="#800080"/>
<circle cx="424.4" cy="156.4" r="2.4" fill="#800080"/>
<circle cx="434" cy="156.4" r="2.4" fill="#800080"/>
<circle cx="443.5" cy="156.3" r="2.4" fill="#800080"/>
<circle cx="453.1" cy="156.3" r="2.4" fill="#800080"/>
<circle cx="462.6" cy="156.3" r="2.4" fill="#800080"/>
<circle cx="472.2" cy="152.8" r="2.4" fill="#800080"/>
<circle cx="481.7" cy="146.3" r="2.4" fill="#800080"/>
<circle cx="491.3" cy="141" r="2.4" fill="#800080"/>
<circle cx="500.8" cy="136.5" r="2.4" fill="#800080"/>
<circle cx="510.4" cy="133.1" r="2.4" fill="#800080"/>
<circle cx="519.9" cy="136.3" r="2.4" fill="#800080"/>
<circle cx="529.5" cy="138" r="2.4" fill="#800080"/>
<circle cx="539" cy="137.3" r="2.4" fill="#800080"/>
<circle cx="548.6" cy="136.4" r="2.4" fill="#800080"/>
<circle cx="558.1" cy="137.9" r="2.4" fill="#800080"/>
<circle cx="567.7" cy="138" r="2.4" fill="#800080"/>
<circle cx="577.2" cy="137.6" r="2.4" fill="#800080"/>
<path d="M357.6,156.5 L358.8,156.5 L360,156.5 L361.2,156.5 L362.4,156.5 L363.6,156.5 L364.8,156.6 L366,156.6 L367.2,156.6 L368.4,156.6 L369.6,156.6 L370.8,156.6 L372,156.6 L373.2,156.6 L374.4,156.6 L375.6,156.6 L376.8,156.6 L378,156.6 L379.2,156.6 L380.4,156.6 L381.6,156.6 L382.8,156.7 L384,156.7 L385.2,156.7 L386.4,156.7 L387.6,156.7 L388.8,156.7 L390,156.7 L391.2,156.7 L392.4,156.7 L393.6,156.7 L394.8,156.7 L396,156.7 L397.2,156.7 L398.4,156.7 L399.6,156.7 L400.8,156.8 L402,156.8 L403.2,156.8 L404.4,156.8 L405.6,156.8 L406.8,156.8 L408,156.8 L409.2,156.8 L410.4,156.8 L411.6,156.8 L412.8,156.8 L414,156.8 L415.2,156.8 L416.4,156.8 L417.6,156.9 L418.8,156.9 L420,156.9 L421.2,156.9 L422.4,156.9 L423.6,156.9 L424.8,156.9 L426,156.9 L427.2,156.9 L428.4,156.9 L429.6,156.9 L430.8,156.9 L432,156.9 L433.2,156.9 L434.4,156.9 L435.6,157 L436.8,157 L438,157 L439.2,157 L440.4,157 L441.6,157 L442.8,157 L444,157 L445.2,157 L446.4,157 L447.6,157 L448.8,157 L450,157 L451.2,157 L452.4,157 L453.6,157.1 L454.8,157.1 L456,157.1 L457.2,157.1 L458.4,157.1 L459.6,157.1 L460.8,157.1 L462,157.1 L463.2,157.1 L464.4,157.1 L465.6,157.1 L466.8,157.1 L468,157.1 L469.2,157.1 L470.4,156.9 L471.6,156.3 L472.8,155.7 L474,155.2 L475.2,154.5 L476.4,154 L477.6,153.4 L478.8,152.9 L480,152.1 L481.2,151.5 L482.4,151.2 L483.6,150.8 L484.8,150.6 L486,150.6 L487.2,150.1 L488.4,150.2 L489.6,150 L490.8,149.9 L492,149.4 L493.2,149.2 L494.4,148.5 L495.6,148.4 L496.8,148.1 L498,147.8 L499.2,147.5 L500.4,146.8 L501.6,145.6 L502.8,145.6 L504,145.1 L505.2,145.3 L506.4,144.4 L507.6,143.9 L508.8,143.3 L510,144 L511.2,141.9 L512.4,143.1 L513.6,142.9 L514.8,143.3 L516,142.5 L517.2,143.1 L518.4,143.1 L519.6,142.1 L520.8,142.3 L522,142.4 L523.2,142.3 L524.4,142.1 L525.6,142.4 L526.8,142 L528,142.7 L529.2,141.6 L530.4,141.1 L531.6,141.5 L532.8,141.7 L534,141.9 L535.2,142.5 L536.4,141.8 L537.6,142.6 L538.8,143.1 L540,142.6 L541.2,143 L542.4,142.5 L543.6,142.6 L544.8,142.5 L546,143 L547.2,142.5 L548.4,143.7 L549.6,143.8 L550.8,144.1 L552,144 L553.2,143.5 L554.4,142.5 L555.6,143.3 L556.8,144.2 L558,143.8 L559.2,143.8 L560.4,143.9 L561.6,143.6 L562.8,143.4 L564,143.7 L565.2,143.9 L566.4,143.4 L567.6,144.4 L568.8,144 L570,144.3 L571.2,144.5 L572.4,144 L573.6,144.6 L574.8,144.8 L576,144.2 L577.2,146 L578.4,145.6 L579.6,143.1" fill="none" stroke="#800000" stroke-width="1.0" stroke-linejoin="round"/>
<polygon points="357.6,153.6 358.3,155.6 360.3,155.6 358.7,156.9 359.3,158.8 357.6,157.7 355.9,158.8 356.5,156.9 354.9,155.6 356.9,155.6" fill="#800000"/>
<polygon points="367.1,153.7 367.8,155.6 369.9,155.7 368.2,156.9 368.8,158.9 367.1,157.7 365.5,158.9 366.1,156.9 364.4,155.7 366.5,155.6" fill="#800000"/>
<polygon points="376.7,153.7 377.4,155.7 379.4,155.7 377.8,157 378.4,158.9 376.7,157.8 375,158.9 375.6,157 374,155.7 376,155.7" fill="#800000"/>
<polygon points="386.2,153.8 386.9,155.7 389,155.8 387.3,157 387.9,159 386.2,157.8 384.6,159 385.2,157 383.5,155.8 385.6,155.7" fill="#800000"/>
<polygon points="395.8,153.9 396.5,155.8 398.5,155.8 396.9,157.1 397.5,159.1 395.8,157.9 394.1,159.1 394.7,157.1 393.1,155.8 395.1,155.8" fill="#800000"/>
<polygon points="405.3,153.9 406,155.9 408.1,155.9 406.4,157.1 407,159.1 405.3,157.9 403.7,159.1 404.2,157.1 402.6,155.9 404.7,155.9" fill="#800000"/>
<polygon points="414.9,154 415.6,155.9 417.6,155.9 416,157.2 416.6,159.2 414.9,158 413.2,159.2 413.8,157.2 412.2,155.9 414.2,155.9" fill="#800000"/>
<polygon points="424.4,154 425.1,156 427.2,156 425.5,157.2 426.1,159.2 424.4,158 422.8,159.2 423.3,157.2 421.7,156 423.8,156" fill="#800000"/>
<polygon points="434,154.1 434.7,156 436.7,156.1 435.1,157.3 435.7,159.3 434,158.1 432.3,159.3 432.9,157.3 431.3,156.1 433.3,156" fill="#800000"/>
<polygon points="443.5,154.1 444.2,156.1 446.3,156.1 444.6,157.4 445.2,159.3 443.5,158.1 441.8,159.3 442.4,157.4 440.8,156.1 442.9,156.1" fill="#800000"/>
<polygon points="453.1,154.2 453.8,156.1 455.8,156.2 454.2,157.4 454.8,159.4 453.1,158.2 451.4,159.4 452,157.4 450.4,156.2 452.4,156.1" fill="#800000"/>
<polygon points="462.6,154.2 463.3,156.2 465.4,156.2 463.7,157.5 464.3,159.4 462.6,158.3 460.9,159.4 461.5,157.5 459.9,156.2 462,156.2" fill="#800000"/>
<polygon points="472.2,153.2 472.9,155.1 474.9,155.2 473.3,156.4 473.9,158.4 472.2,157.2 470.5,158.4 471.1,156.4 469.4,155.2 471.5,155.1" fill="#800000"/>
<polygon points="481.7,148.5 482.4,150.4 484.5,150.5 482.8,151.7 483.4,153.7 481.7,152.5 480,153.7 480.6,151.7 479,150.5 481.1,150.4" fill="#800000"/>
<polygon points="491.3,146.8 492,148.8 494,148.8 492.4,150.1 493,152 491.3,150.9 489.6,152 490.2,150.1 488.5,148.8 490.6,148.8" fill="#800000"/>
<polygon points="500.8,143.5 501.5,145.4 503.6,145.5 501.9,146.7 502.5,148.7 500.8,147.5 499.1,148.7 499.7,146.7 498.1,145.5 500.2,145.4" fill="#800000"/>
<polygon points="510.4,140.5 511.1,142.4 513.1,142.5 511.5,143.7 512.1,145.7 510.4,144.5 508.7,145.7 509.3,143.7 507.6,142.5 509.7,142.4" fill="#800000"/>
<polygon points="519.9,139.3 520.6,141.3 522.7,141.3 521,142.5 521.6,144.5 519.9,143.3 518.2,144.5 518.8,142.5 517.2,141.3 519.2,141.3" fill="#800000"/>
<polygon points="529.5,138.6 530.2,140.6 532.2,140.6 530.6,141.8 531.2,143.8 529.5,142.6 527.8,143.8 528.4,141.8 526.7,140.6 528.8,140.6" fill="#800000"/>
<polygon points="539,140.1 539.7,142.1 541.8,142.1 540.1,143.4 540.7,145.3 539,144.2 537.3,145.3 537.9,143.4 536.3,142.1 538.3,142.1" fill="#800000"/>
<polygon points="548.6,140.8 549.2,142.8 551.3,142.8 549.7,144.1 550.3,146 548.6,144.9 546.9,146 547.5,144.1 545.8,142.8 547.9,142.8" fill="#800000"/>
<polygon points="558.1,140.9 558.8,142.9 560.9,142.9 559.2,144.2 559.8,146.1 558.1,145 556.4,146.1 557,144.2 555.4,142.9 557.4,142.9" fill="#800000"/>
<polygon points="567.7,141.5 568.3,143.4 570.4,143.5 568.8,144.7 569.4,146.7 567.7,145.5 566,146.7 566.6,144.7 564.9,143.5 567,143.4" fill="#800000"/>
<polygon points="577.2,143.1 577.9,145.1 580,145.1 578.3,146.4 578.9,148.3 577.2,147.2 575.5,148.3 576.1,146.4 574.5,145.1 576.5,145.1" fill="#800000"/>
<line x1="385" y1="17.5" x2="385" y2="179.6" stroke="#1a1a1a" stroke-width="1.0"/>
<line x1="476.2" y1="17.5" x2="476.2" y2="179.6" stroke="#1a1a1a" stroke-width="1.0"/>
<line x1="520.5" y1="17.5" x2="520.5" y2="179.6" stroke="#1a1a1a" stroke-width="1.0"/>
<line x1="357.6" y1="35.1" x2="580.4" y2="35.1" stroke="#333" stroke-width="0.9"/>
<polygon points="358.2,35.1 361.8,33.4 361.8,36.8" fill="#111"/>
<polygon points="384.4,35.1 380.8,33.4 380.8,36.8" fill="#111"/>
<text x="372.5" y="33.3" class="ph">(1)</text>
<polygon points="385.6,35.1 389.2,33.4 389.2,36.8" fill="#111"/>
<polygon points="475.6,35.1 472,33.4 472,36.8" fill="#111"/>
<text x="426.6" y="33.3" class="ph">(2)</text>
<polygon points="476.8,35.1 480.4,33.4 480.4,36.8" fill="#111"/>
<polygon points="519.9,35.1 516.3,33.4 516.3,36.8" fill="#111"/>
<text x="500.2" y="33.3" class="ph">(3)</text>
<polygon points="521.1,35.1 524.7,33.4 524.7,36.8" fill="#111"/>
<polygon points="579.8,35.1 576.2,33.4 576.2,36.8" fill="#111"/>
<text x="554.3" y="33.3" class="ph">(4)</text>
<circle cx="384.6" cy="156.5" r="4.4" fill="none" stroke="#000" stroke-width="0.95"/>
<circle cx="476.2" cy="156.5" r="4.4" fill="none" stroke="#000" stroke-width="0.95"/>
<circle cx="520.5" cy="143.6" r="4.4" fill="none" stroke="#000" stroke-width="0.95"/>
<text x="389.5" y="167.5" class="tl">t<tspan class="sub" dy="2.6">1</tspan></text>
<text x="481.9" y="164.3" class="tl">t<tspan class="sub" dy="2.6">2</tspan></text>
<text x="526.1" y="153.1" class="tl">t<tspan class="sub" dy="2.6">3</tspan></text>
<rect x="362.6" y="42.5" width="48" height="79.4" fill="#fff" stroke="#222" stroke-width="0.9"/>
<line x1="366.5" y1="52.1" x2="381.9" y2="52.1" stroke="#000000" stroke-width="0.75"/>
<rect x="371.8" y="49.7" width="4.8" height="4.8" fill="#000000"/>
<text x="384" y="54.5" class="lg" style="font-size:6.75px">Floor 2</text>
<line x1="366.5" y1="60.4" x2="381.9" y2="60.4" stroke="#ff0000" stroke-width="0.75"/>
<circle cx="374.2" cy="60.4" r="2.5" fill="#ff0000"/>
<text x="384" y="62.8" class="lg" style="font-size:6.75px">Floor 4</text>
<line x1="366.5" y1="68.7" x2="381.9" y2="68.7" stroke="#0000ff" stroke-width="0.75"/>
<polygon points="374.2,65.9 371.6,70.7 376.8,70.7" fill="#0000ff"/>
<text x="384" y="71.1" class="lg" style="font-size:6.75px">Floor 6</text>
<line x1="366.5" y1="77" x2="381.9" y2="77" stroke="#ff00ff" stroke-width="0.75"/>
<polygon points="374.2,79.8 371.6,75 376.8,75" fill="#ff00ff"/>
<text x="384" y="79.4" class="lg" style="font-size:6.75px">Floor 8</text>
<line x1="366.5" y1="85.3" x2="381.9" y2="85.3" stroke="#008000" stroke-width="0.75"/>
<polygon points="374.2,82.4 377.1,85.3 374.2,88.2 371.3,85.3" fill="#008000"/>
<text x="384" y="87.7" class="lg" style="font-size:6.75px">Floor 10</text>
<line x1="366.5" y1="93.6" x2="381.9" y2="93.6" stroke="#000080" stroke-width="0.75"/>
<polygon points="371.4,93.6 376.2,91 376.2,96.2" fill="#000080"/>
<text x="384" y="96" class="lg" style="font-size:6.75px">Floor 12</text>
<line x1="366.5" y1="101.9" x2="381.9" y2="101.9" stroke="#8000ff" stroke-width="0.75"/>
<polygon points="377,101.9 372.2,99.3 372.2,104.5" fill="#8000ff"/>
<text x="384" y="104.3" class="lg" style="font-size:6.75px">Floor 14</text>
<line x1="366.5" y1="110.2" x2="381.9" y2="110.2" stroke="#800080" stroke-width="0.75"/>
<circle cx="374.2" cy="110.2" r="2.5" fill="#800080"/>
<text x="384" y="112.6" class="lg" style="font-size:6.75px">Floor 16</text>
<line x1="366.5" y1="118.5" x2="381.9" y2="118.5" stroke="#800000" stroke-width="0.75"/>
<polygon points="374.2,115.5 374.9,117.5 377.1,117.6 375.3,118.9 376,120.9 374.2,119.7 372.4,120.9 373.1,118.9 371.3,117.6 373.5,117.5" fill="#800000"/>
<text x="384" y="120.9" class="lg" style="font-size:6.75px">Floor 18</text>
<rect x="357.6" y="17.5" width="222.8" height="162.1" fill="none" stroke="#000" stroke-width="1.2"/>
<text x="357.6" y="190.1" class="tk" style="font-size:8.8px" text-anchor="middle">0</text>
<text x="389.4" y="190.1" class="tk" style="font-size:8.8px" text-anchor="middle">200</text>
<text x="421.3" y="190.1" class="tk" style="font-size:8.8px" text-anchor="middle">400</text>
<text x="453.1" y="190.1" class="tk" style="font-size:8.8px" text-anchor="middle">600</text>
<text x="484.9" y="190.1" class="tk" style="font-size:8.8px" text-anchor="middle">800</text>
<text x="516.7" y="190.1" class="tk" style="font-size:8.8px" text-anchor="middle">1000</text>
<text x="548.6" y="190.1" class="tk" style="font-size:8.8px" text-anchor="middle">1200</text>
<text x="580.4" y="190.1" class="tk" style="font-size:8.8px" text-anchor="middle">1400</text>
<text x="353.8" y="182.8" class="tk" style="font-size:8.8px" text-anchor="end">18</text>
<text x="353.8" y="159.6" class="tk" style="font-size:8.8px" text-anchor="end">20</text>
<text x="353.8" y="136.5" class="tk" style="font-size:8.8px" text-anchor="end">22</text>
<text x="353.8" y="113.3" class="tk" style="font-size:8.8px" text-anchor="end">24</text>
<text x="353.8" y="90.1" class="tk" style="font-size:8.8px" text-anchor="end">26</text>
<text x="353.8" y="67" class="tk" style="font-size:8.8px" text-anchor="end">28</text>
<text x="353.8" y="43.8" class="tk" style="font-size:8.8px" text-anchor="end">30</text>
<text x="353.8" y="20.7" class="tk" style="font-size:8.8px" text-anchor="end">32</text>
<path d="M357.6,179.6v-3.2M357.6,17.5v3.2M373.5,179.6v-2M373.5,17.5v2M389.4,179.6v-3.2M389.4,17.5v3.2M405.3,179.6v-2M405.3,17.5v2M421.3,179.6v-3.2M421.3,17.5v3.2M437.2,179.6v-2M437.2,17.5v2M453.1,179.6v-3.2M453.1,17.5v3.2M469,179.6v-2M469,17.5v2M484.9,179.6v-3.2M484.9,17.5v3.2M500.8,179.6v-2M500.8,17.5v2M516.7,179.6v-3.2M516.7,17.5v3.2M532.7,179.6v-2M532.7,17.5v2M548.6,179.6v-3.2M548.6,17.5v3.2M564.5,179.6v-2M564.5,17.5v2M580.4,179.6v-3.2M580.4,17.5v3.2M357.6,179.6h3.2M580.4,179.6h-3.2M357.6,168h2M580.4,168h-2M357.6,156.4h3.2M580.4,156.4h-3.2M357.6,144.9h2M580.4,144.9h-2M357.6,133.3h3.2M580.4,133.3h-3.2M357.6,121.7h2M580.4,121.7h-2M357.6,110.1h3.2M580.4,110.1h-3.2M357.6,98.5h2M580.4,98.5h-2M357.6,87h3.2M580.4,87h-3.2M357.6,75.4h2M580.4,75.4h-2M357.6,63.8h3.2M580.4,63.8h-3.2M357.6,52.2h2M580.4,52.2h-2M357.6,40.7h3.2M580.4,40.7h-3.2M357.6,29.1h2M580.4,29.1h-2M357.6,17.5h3.2M580.4,17.5h-3.2" stroke="#000" stroke-width="1" fill="none"/>
<text x="469.8" y="206.1" class="ax" style="font-size:10.35px" text-anchor="middle">Time (s)</text>
<text transform="translate(332.3,101.4) rotate(-90)" class="ax" style="font-size:10.35px" text-anchor="middle">Gas Temperature in the shaft (°C)</text>
<text x="296.6" y="14.9" class="pl">(b)</text>
<path d="M58.4,356.1 L59.6,356.1 L60.8,356.1 L62,356.1 L63.2,356.1 L64.4,356.1 L65.6,356.1 L66.8,356.1 L68,356.1 L69.2,356.1 L70.4,356.1 L71.6,356.1 L72.8,356.1 L74,356.1 L75.2,356.1 L76.4,356.1 L77.6,356.1 L78.8,356.1 L80,356.1 L81.2,356.1 L82.4,355.7 L83.6,354.6 L84.8,353.3 L86,352.9 L87.2,352.3 L88.4,351.8 L89.6,351.3 L90.8,351.2 L92,350.4 L93.2,349.6 L94.4,349.3 L95.6,348.6 L96.8,348.3 L98,347.8 L99.2,347.1 L100.4,346.7 L101.6,344.7 L102.8,344.9 L104,343.4 L105.2,342.4 L106.4,341.6 L107.6,338.3 L108.8,337.8 L110,336.9 L111.2,333.4 L112.4,333.1 L113.6,329.3 L114.8,327 L116,326.5 L117.2,323.8 L118.4,325.3 L119.6,324.1 L120.8,321.8 L122,321.1 L123.2,318.3 L124.4,319 L125.6,314.4 L126.8,313 L128,310.4 L129.2,308.3 L130.4,308.5 L131.6,306.7 L132.8,306 L134,306.9 L135.2,303.3 L136.4,300.5 L137.6,298.7 L138.8,294.5 L140,290.8 L141.2,288.8 L142.4,288.8 L143.6,289.6 L144.8,288.1 L146,290.7 L147.2,294 L148.4,292.4 L149.6,289.2 L150.8,288.2 L152,287.2 L153.2,285.2 L154.4,286 L155.6,283.7 L156.8,277.3 L158,276 L159.2,280.6 L160.4,279.6 L161.6,278.8 L162.8,279.9 L164,278.1 L165.2,277.1 L166.4,275.9 L167.6,278.9 L168.8,276.3 L170,270.9 L171.2,269.7 L172.4,266.3 L173.6,270.5 L174.8,266.3 L176,267.3 L177.2,269.1 L178.4,263.9 L179.6,265.2 L180.8,263.7 L182,255.6 L183.2,256 L184.4,254.9 L185.6,255.8 L186.8,247.9 L188,247.3 L189.2,247.5 L190.4,245.5 L191.6,247.7 L192.8,246.3 L194,245.9 L195.2,252.6 L196.4,257.8 L197.6,261.9 L198.8,250.6 L200,247.1 L201.2,245.3 L202.4,247.4 L203.6,250 L204.8,248.8 L206,246.4 L207.2,250.3 L208.4,250.3 L209.6,252.9 L210.8,252.6 L212,249.9 L213.2,252.9 L214.4,250.4 L215.6,248 L216.8,241.7 L218,248.1 L219.2,249.2 L220.4,246 L221.6,248 L222.8,243.6 L224,244.5 L225.2,244.4 L226.4,246.9 L227.6,248.9 L228.8,253.4 L230,258.7 L231.2,264 L232.4,265.3 L233.6,257.4 L234.8,247.7 L236,239.1 L237.2,250.3 L238.4,269.8 L239.6,262.6 L240.8,258.6 L242,250.3 L243.2,245.7 L244.4,248.7 L245.6,243.9 L246.8,244.1 L248,249.8 L249.2,251.3 L250.4,252.2 L251.6,250.1 L252.8,248.3 L254,243.7 L255.2,243.5 L256.4,236.8 L257.6,239.5 L258.8,242 L260,241.8 L261.2,246.9 L262.4,244.1 L263.6,247.9 L264.8,247.8 L266,252.7 L267.2,255.2 L268.4,260.6 L269.6,261.1 L270.8,260.6 L272,259 L273.2,250.4 L274.4,252.5 L275.6,248.3 L276.8,242.8 L278,244.7 L279.2,250.8 L280.4,256.9" fill="none" stroke="#000000" stroke-width="1.0" stroke-linejoin="round"/>
<rect x="56.1" y="353.8" width="4.6" height="4.6" fill="#000000"/>
<rect x="65.6" y="353.8" width="4.6" height="4.6" fill="#000000"/>
<rect x="75.2" y="353.8" width="4.6" height="4.6" fill="#000000"/>
<rect x="84.7" y="350.1" width="4.6" height="4.6" fill="#000000"/>
<rect x="94.3" y="346.1" width="4.6" height="4.6" fill="#000000"/>
<rect x="103.8" y="339.5" width="4.6" height="4.6" fill="#000000"/>
<rect x="113.3" y="324.3" width="4.6" height="4.6" fill="#000000"/>
<rect x="122.9" y="313.7" width="4.6" height="4.6" fill="#000000"/>
<rect x="132.4" y="302.4" width="4.6" height="4.6" fill="#000000"/>
<rect x="142" y="286.5" width="4.6" height="4.6" fill="#000000"/>
<rect x="151.5" y="283.3" width="4.6" height="4.6" fill="#000000"/>
<rect x="161" y="276.8" width="4.6" height="4.6" fill="#000000"/>
<rect x="170.6" y="265.7" width="4.6" height="4.6" fill="#000000"/>
<rect x="180.1" y="253.5" width="4.6" height="4.6" fill="#000000"/>
<rect x="189.7" y="245" width="4.6" height="4.6" fill="#000000"/>
<rect x="199.2" y="243.5" width="4.6" height="4.6" fill="#000000"/>
<rect x="208.7" y="249.8" width="4.6" height="4.6" fill="#000000"/>
<rect x="218.3" y="244" width="4.6" height="4.6" fill="#000000"/>
<rect x="227.8" y="257" width="4.6" height="4.6" fill="#000000"/>
<rect x="237.4" y="260.1" width="4.6" height="4.6" fill="#000000"/>
<rect x="246.9" y="249" width="4.6" height="4.6" fill="#000000"/>
<rect x="256.4" y="239.6" width="4.6" height="4.6" fill="#000000"/>
<rect x="266" y="257.8" width="4.6" height="4.6" fill="#000000"/>
<rect x="275.5" y="242.1" width="4.6" height="4.6" fill="#000000"/>
<path d="M58.4,356.1 L59.6,356.1 L60.8,356.1 L62,356.1 L63.2,356.1 L64.4,356.1 L65.6,356.1 L66.8,356.1 L68,356.1 L69.2,356.1 L70.4,356.1 L71.6,356.1 L72.8,356.1 L74,356.1 L75.2,356.1 L76.4,356.1 L77.6,356.1 L78.8,356.1 L80,356.1 L81.2,356.1 L82.4,356.1 L83.6,356.1 L84.8,356.1 L86,356.1 L87.2,356.1 L88.4,356.1 L89.6,356.1 L90.8,356.1 L92,356.1 L93.2,356.1 L94.4,355.9 L95.6,355.5 L96.8,355.1 L98,354.7 L99.2,354.4 L100.4,353.9 L101.6,353.4 L102.8,352.9 L104,351.8 L105.2,351.7 L106.4,351.2 L107.6,350.4 L108.8,349.2 L110,348.6 L111.2,347.7 L112.4,344.9 L113.6,344.8 L114.8,343.4 L116,341.7 L117.2,340.7 L118.4,338.3 L119.6,337.3 L120.8,336.5 L122,336.2 L123.2,336.3 L124.4,337.3 L125.6,337.4 L126.8,335.6 L128,331.6 L129.2,329.5 L130.4,328.1 L131.6,328.2 L132.8,327.5 L134,325.6 L135.2,324.5 L136.4,322.7 L137.6,321.3 L138.8,320.4 L140,321.1 L141.2,319.4 L142.4,319.1 L143.6,318.4 L144.8,314.8 L146,317.3 L147.2,320.1 L148.4,320 L149.6,317 L150.8,316.1 L152,316 L153.2,314.9 L154.4,314.1 L155.6,315 L156.8,311.5 L158,311 L159.2,310.5 L160.4,310.7 L161.6,310.1 L162.8,308.3 L164,306 L165.2,305.7 L166.4,304.1 L167.6,300.7 L168.8,305.5 L170,304.5 L171.2,304.6 L172.4,306.9 L173.6,308.2 L174.8,305.7 L176,304.3 L177.2,302 L178.4,304.5 L179.6,296.4 L180.8,292.1 L182,292.6 L183.2,290.7 L184.4,294 L185.6,295.4 L186.8,297 L188,295.8 L189.2,301 L190.4,297.2 L191.6,297.8 L192.8,300.1 L194,303.7 L195.2,307.6 L196.4,307.4 L197.6,305.6 L198.8,300.8 L200,292.1 L201.2,288.5 L202.4,291.8 L203.6,289.8 L204.8,293 L206,294.3 L207.2,296.2 L208.4,296.7 L209.6,296.8 L210.8,295.3 L212,295.6 L213.2,290.3 L214.4,291.3 L215.6,289 L216.8,281.8 L218,285.7 L219.2,289.8 L220.4,289.9 L221.6,289.3 L222.8,290.5 L224,292.1 L225.2,290.4 L226.4,295.7 L227.6,299.4 L228.8,300.4 L230,299 L231.2,298.8 L232.4,298.8 L233.6,297 L234.8,296.3 L236,298.5 L237.2,298.4 L238.4,299.4 L239.6,298.8 L240.8,300.3 L242,298.7 L243.2,295.9 L244.4,295 L245.6,293.9 L246.8,295.4 L248,293.3 L249.2,294.9 L250.4,295.6 L251.6,292.3 L252.8,293 L254,297.6 L255.2,295.6 L256.4,294.4 L257.6,290.3 L258.8,290.3 L260,287.4 L261.2,284 L262.4,290.2 L263.6,296.3 L264.8,299.3 L266,297.4 L267.2,293.9 L268.4,291.7 L269.6,294.4 L270.8,296.2 L272,294.9 L273.2,297 L274.4,294.6 L275.6,295.2 L276.8,296 L278,292.8 L279.2,292.5 L280.4,293.2" fill="none" stroke="#ff0000" stroke-width="1.0" stroke-linejoin="round"/>
<circle cx="58.4" cy="356.1" r="2.4" fill="#ff0000"/>
<circle cx="67.9" cy="356.1" r="2.4" fill="#ff0000"/>
<circle cx="77.5" cy="356.1" r="2.4" fill="#ff0000"/>
<circle cx="87" cy="356.1" r="2.4" fill="#ff0000"/>
<circle cx="96.6" cy="355.2" r="2.4" fill="#ff0000"/>
<circle cx="106.1" cy="351.3" r="2.4" fill="#ff0000"/>
<circle cx="115.6" cy="342.2" r="2.4" fill="#ff0000"/>
<circle cx="125.2" cy="337.4" r="2.4" fill="#ff0000"/>
<circle cx="134.7" cy="324.9" r="2.4" fill="#ff0000"/>
<circle cx="144.3" cy="316.4" r="2.4" fill="#ff0000"/>
<circle cx="153.8" cy="314.5" r="2.4" fill="#ff0000"/>
<circle cx="163.3" cy="307.3" r="2.4" fill="#ff0000"/>
<circle cx="172.9" cy="307.4" r="2.4" fill="#ff0000"/>
<circle cx="182.4" cy="291.9" r="2.4" fill="#ff0000"/>
<circle cx="192" cy="298.5" r="2.4" fill="#ff0000"/>
<circle cx="201.5" cy="289.3" r="2.4" fill="#ff0000"/>
<circle cx="211" cy="295.4" r="2.4" fill="#ff0000"/>
<circle cx="220.6" cy="289.9" r="2.4" fill="#ff0000"/>
<circle cx="230.1" cy="299" r="2.4" fill="#ff0000"/>
<circle cx="239.7" cy="298.9" r="2.4" fill="#ff0000"/>
<circle cx="249.2" cy="294.9" r="2.4" fill="#ff0000"/>
<circle cx="258.7" cy="290.3" r="2.4" fill="#ff0000"/>
<circle cx="268.3" cy="292" r="2.4" fill="#ff0000"/>
<circle cx="277.8" cy="293.3" r="2.4" fill="#ff0000"/>
<path d="M58.4,356.1 L59.6,356.2 L60.8,356.2 L62,356.2 L63.2,356.2 L64.4,356.2 L65.6,356.2 L66.8,356.3 L68,356.3 L69.2,356.3 L70.4,356.3 L71.6,356.3 L72.8,356.3 L74,356.3 L75.2,356.4 L76.4,356.4 L77.6,356.4 L78.8,356.4 L80,356.4 L81.2,356.4 L82.4,356.5 L83.6,356.5 L84.8,356.5 L86,356.5 L87.2,356.4 L88.4,356.4 L89.6,356.4 L90.8,356.4 L92,356.4 L93.2,356.3 L94.4,356.3 L95.6,356.3 L96.8,356.3 L98,356.3 L99.2,356.2 L100.4,356.2 L101.6,356.2 L102.8,356.2 L104,356.1 L105.2,356.1 L106.4,356.1 L107.6,356.1 L108.8,356.1 L110,355.7 L111.2,354.9 L112.4,354.1 L113.6,353.1 L114.8,352.3 L116,351.2 L117.2,350.5 L118.4,349.2 L119.6,347.4 L120.8,346.5 L122,345.9 L123.2,344.5 L124.4,343.7 L125.6,343 L126.8,341.9 L128,341 L129.2,340.1 L130.4,339.1 L131.6,338.8 L132.8,336.6 L134,335.2 L135.2,333.2 L136.4,332.1 L137.6,332.1 L138.8,330.8 L140,330.6 L141.2,329.8 L142.4,330.2 L143.6,329.7 L144.8,328.3 L146,328.5 L147.2,329 L148.4,329.8 L149.6,330.7 L150.8,331.9 L152,330.3 L153.2,328.1 L154.4,326 L155.6,325.8 L156.8,326.1 L158,325 L159.2,324.8 L160.4,321.8 L161.6,322 L162.8,321.4 L164,321 L165.2,321.9 L166.4,320.4 L167.6,320.5 L168.8,319.4 L170,317.8 L171.2,318.2 L172.4,317.5 L173.6,315.2 L174.8,318.6 L176,317.9 L177.2,316.6 L178.4,314.5 L179.6,316.2 L180.8,316.9 L182,317.1 L183.2,316.9 L184.4,316.5 L185.6,315.6 L186.8,313.3 L188,314.9 L189.2,314.9 L190.4,314.5 L191.6,313.5 L192.8,313.5 L194,312.3 L195.2,313.8 L196.4,312.5 L197.6,314.1 L198.8,316.2 L200,316.6 L201.2,318.2 L202.4,317.6 L203.6,310.1 L204.8,309.5 L206,310.1 L207.2,310.8 L208.4,311.4 L209.6,307.4 L210.8,307.1 L212,310.2 L213.2,309 L214.4,308.7 L215.6,311.3 L216.8,313 L218,312.9 L219.2,312.7 L220.4,310.3 L221.6,305.4 L222.8,305.5 L224,306.1 L225.2,305.7 L226.4,306.5 L227.6,304.3 L228.8,304.7 L230,308 L231.2,309.5 L232.4,308.9 L233.6,313 L234.8,312.6 L236,310.7 L237.2,313.1 L238.4,311.7 L239.6,311 L240.8,311.8 L242,310.8 L243.2,311.8 L244.4,309.5 L245.6,306.8 L246.8,306.3 L248,304.5 L249.2,306.2 L250.4,305 L251.6,303.5 L252.8,301.6 L254,301.8 L255.2,302.8 L256.4,303.1 L257.6,303.5 L258.8,303.6 L260,302.3 L261.2,300.3 L262.4,301.2 L263.6,296.6 L264.8,296.3 L266,297.6 L267.2,301.7 L268.4,304.5 L269.6,305.4 L270.8,306.6 L272,306.5 L273.2,303.9 L274.4,301.4 L275.6,305.8 L276.8,306 L278,307.2 L279.2,307.3 L280.4,306.6" fill="none" stroke="#0000ff" stroke-width="1.0" stroke-linejoin="round"/>
<polygon points="58.4,353.5 55.9,358.1 60.9,358.1" fill="#0000ff"/>
<polygon points="67.9,353.6 65.4,358.2 70.5,358.2" fill="#0000ff"/>
<polygon points="77.5,353.7 74.9,358.3 80,358.3" fill="#0000ff"/>
<polygon points="87,353.8 84.5,358.4 89.5,358.4" fill="#0000ff"/>
<polygon points="96.6,353.6 94,358.2 99.1,358.2" fill="#0000ff"/>
<polygon points="106.1,353.5 103.6,358.1 108.6,358.1" fill="#0000ff"/>
<polygon points="115.6,348.9 113.1,353.5 118.2,353.5" fill="#0000ff"/>
<polygon points="125.2,340.6 122.7,345.2 127.7,345.2" fill="#0000ff"/>
<polygon points="134.7,331.4 132.2,336 137.2,336" fill="#0000ff"/>
<polygon points="144.3,326.3 141.7,330.9 146.8,330.9" fill="#0000ff"/>
<polygon points="153.8,324.4 151.3,329 156.3,329" fill="#0000ff"/>
<polygon points="163.3,318.6 160.8,323.2 165.9,323.2" fill="#0000ff"/>
<polygon points="172.9,314 170.3,318.6 175.4,318.6" fill="#0000ff"/>
<polygon points="182.4,314.4 179.9,319 184.9,319" fill="#0000ff"/>
<polygon points="192,310.9 189.4,315.5 194.5,315.5" fill="#0000ff"/>
<polygon points="201.5,315.4 199,320 204,320" fill="#0000ff"/>
<polygon points="211,305.1 208.5,309.7 213.6,309.7" fill="#0000ff"/>
<polygon points="220.6,306.9 218.1,311.5 223.1,311.5" fill="#0000ff"/>
<polygon points="230.1,305.5 227.6,310.1 232.7,310.1" fill="#0000ff"/>
<polygon points="239.7,308.4 237.1,313 242.2,313" fill="#0000ff"/>
<polygon points="249.2,303.5 246.7,308.1 251.7,308.1" fill="#0000ff"/>
<polygon points="258.7,300.9 256.2,305.5 261.3,305.5" fill="#0000ff"/>
<polygon points="268.3,301.5 265.8,306.1 270.8,306.1" fill="#0000ff"/>
<polygon points="277.8,304.4 275.3,309 280.3,309" fill="#0000ff"/>
<path d="M58.4,356.2 L59.6,356.2 L60.8,356.2 L62,356.2 L63.2,356.3 L64.4,356.3 L65.6,356.3 L66.8,356.3 L68,356.3 L69.2,356.4 L70.4,356.4 L71.6,356.4 L72.8,356.4 L74,356.5 L75.2,356.5 L76.4,356.5 L77.6,356.5 L78.8,356.6 L80,356.6 L81.2,356.6 L82.4,356.6 L83.6,356.7 L84.8,356.7 L86,356.7 L87.2,356.7 L88.4,356.7 L89.6,356.7 L90.8,356.6 L92,356.6 L93.2,356.6 L94.4,356.6 L95.6,356.6 L96.8,356.6 L98,356.6 L99.2,356.6 L100.4,356.6 L101.6,356.6 L102.8,356.6 L104,356.5 L105.2,356.5 L106.4,356.5 L107.6,356.5 L108.8,356.5 L110,356.5 L111.2,356.5 L112.4,356.5 L113.6,356.3 L114.8,356.2 L116,355.8 L117.2,355.4 L118.4,354.9 L119.6,354 L120.8,353.2 L122,352.3 L123.2,350.9 L124.4,350.4 L125.6,348.6 L126.8,347.2 L128,346.2 L129.2,345.2 L130.4,344.3 L131.6,343.8 L132.8,341.6 L134,340.8 L135.2,340.2 L136.4,339.7 L137.6,337.7 L138.8,336.9 L140,336 L141.2,334.3 L142.4,333.6 L143.6,332.5 L144.8,332.9 L146,331.6 L147.2,332.4 L148.4,332.2 L149.6,331.8 L150.8,331.2 L152,331.9 L153.2,330.7 L154.4,332.6 L155.6,330.5 L156.8,329.9 L158,327.9 L159.2,328.7 L160.4,325.9 L161.6,326.2 L162.8,324.9 L164,324.8 L165.2,324.3 L166.4,324.4 L167.6,324.8 L168.8,323.8 L170,321.6 L171.2,320.6 L172.4,319.9 L173.6,320.8 L174.8,321 L176,320.9 L177.2,321.1 L178.4,322.7 L179.6,320.9 L180.8,322.2 L182,321.1 L183.2,319.6 L184.4,318.3 L185.6,316.5 L186.8,318.8 L188,317.4 L189.2,315.9 L190.4,316 L191.6,317 L192.8,313.6 L194,311.9 L195.2,311.4 L196.4,311.8 L197.6,315.3 L198.8,317.2 L200,316.9 L201.2,316.5 L202.4,315.2 L203.6,313.5 L204.8,313.3 L206,312.2 L207.2,313 L208.4,314.1 L209.6,311.7 L210.8,315.1 L212,313.4 L213.2,313.5 L214.4,312 L215.6,307.4 L216.8,311 L218,312.4 L219.2,311.9 L220.4,311.2 L221.6,311.3 L222.8,310 L224,308.6 L225.2,309.6 L226.4,308.2 L227.6,309.7 L228.8,309.9 L230,312.1 L231.2,313.9 L232.4,315.1 L233.6,313.2 L234.8,314.3 L236,316.3 L237.2,316.4 L238.4,313.7 L239.6,313.2 L240.8,313.8 L242,312.3 L243.2,309.5 L244.4,307.7 L245.6,308.3 L246.8,305.7 L248,308.5 L249.2,307 L250.4,307.4 L251.6,307.2 L252.8,306.6 L254,304.7 L255.2,306.9 L256.4,307.5 L257.6,306.9 L258.8,306.1 L260,306.4 L261.2,306.1 L262.4,306.2 L263.6,304.9 L264.8,306.8 L266,307.9 L267.2,306.1 L268.4,307.5 L269.6,307.3 L270.8,306.8 L272,307.2 L273.2,308 L274.4,308.4 L275.6,308.5 L276.8,309.6 L278,308.5 L279.2,309.1 L280.4,312.5" fill="none" stroke="#ff00ff" stroke-width="1.0" stroke-linejoin="round"/>
<polygon points="58.4,358.8 55.9,354.2 60.9,354.2" fill="#ff00ff"/>
<polygon points="67.9,359 65.4,354.4 70.5,354.4" fill="#ff00ff"/>
<polygon points="77.5,359.2 74.9,354.6 80,354.6" fill="#ff00ff"/>
<polygon points="87,359.3 84.5,354.7 89.5,354.7" fill="#ff00ff"/>
<polygon points="96.6,359.2 94,354.6 99.1,354.6" fill="#ff00ff"/>
<polygon points="106.1,359.2 103.6,354.6 108.6,354.6" fill="#ff00ff"/>
<polygon points="115.6,358.6 113.1,354 118.2,354" fill="#ff00ff"/>
<polygon points="125.2,351.9 122.7,347.3 127.7,347.3" fill="#ff00ff"/>
<polygon points="134.7,343.1 132.2,338.5 137.2,338.5" fill="#ff00ff"/>
<polygon points="144.3,335.4 141.7,330.8 146.8,330.8" fill="#ff00ff"/>
<polygon points="153.8,334.3 151.3,329.7 156.3,329.7" fill="#ff00ff"/>
<polygon points="163.3,327.5 160.8,322.9 165.9,322.9" fill="#ff00ff"/>
<polygon points="172.9,322.9 170.3,318.3 175.4,318.3" fill="#ff00ff"/>
<polygon points="182.4,323.2 179.9,318.6 184.9,318.6" fill="#ff00ff"/>
<polygon points="192,318.6 189.4,314 194.5,314" fill="#ff00ff"/>
<polygon points="201.5,318.8 199,314.2 204,314.2" fill="#ff00ff"/>
<polygon points="211,317.4 208.5,312.8 213.6,312.8" fill="#ff00ff"/>
<polygon points="220.6,313.9 218.1,309.3 223.1,309.3" fill="#ff00ff"/>
<polygon points="230.1,315 227.6,310.4 232.7,310.4" fill="#ff00ff"/>
<polygon points="239.7,315.8 237.1,311.2 242.2,311.2" fill="#ff00ff"/>
<polygon points="249.2,309.7 246.7,305.1 251.7,305.1" fill="#ff00ff"/>
<polygon points="258.7,308.8 256.2,304.2 261.3,304.2" fill="#ff00ff"/>
<polygon points="268.3,310 265.8,305.4 270.8,305.4" fill="#ff00ff"/>
<polygon points="277.8,311.3 275.3,306.7 280.3,306.7" fill="#ff00ff"/>
<path d="M58.4,356.2 L59.6,356.2 L60.8,356.2 L62,356.2 L63.2,356.3 L64.4,356.3 L65.6,356.3 L66.8,356.3 L68,356.3 L69.2,356.4 L70.4,356.4 L71.6,356.4 L72.8,356.4 L74,356.5 L75.2,356.5 L76.4,356.5 L77.6,356.5 L78.8,356.6 L80,356.6 L81.2,356.6 L82.4,356.6 L83.6,356.7 L84.8,356.7 L86,356.7 L87.2,356.7 L88.4,356.7 L89.6,356.7 L90.8,356.6 L92,356.6 L93.2,356.6 L94.4,356.6 L95.6,356.6 L96.8,356.6 L98,356.6 L99.2,356.6 L100.4,356.6 L101.6,356.6 L102.8,356.6 L104,356.6 L105.2,356.6 L106.4,356.6 L107.6,356.5 L108.8,356.5 L110,356.5 L111.2,356.5 L112.4,356.5 L113.6,356.5 L114.8,356.5 L116,356.5 L117.2,356.5 L118.4,356.5 L119.6,356.3 L120.8,356.2 L122,355.8 L123.2,355.4 L124.4,354.8 L125.6,353.9 L126.8,353 L128,352 L129.2,351.1 L130.4,350 L131.6,348.4 L132.8,347.1 L134,346.8 L135.2,345.8 L136.4,344.6 L137.6,343.6 L138.8,342.6 L140,342.2 L141.2,341.8 L142.4,341.6 L143.6,340.7 L144.8,340.5 L146,338.9 L147.2,338.8 L148.4,338.6 L149.6,338.7 L150.8,337.8 L152,337.7 L153.2,336.1 L154.4,336.4 L155.6,335.9 L156.8,334.7 L158,334.7 L159.2,334.7 L160.4,333.3 L161.6,333.2 L162.8,333.5 L164,331.8 L165.2,330.7 L166.4,330.6 L167.6,330 L168.8,330.9 L170,329.2 L171.2,329.3 L172.4,329.6 L173.6,328.4 L174.8,330.2 L176,327.3 L177.2,324.1 L178.4,326.3 L179.6,327.7 L180.8,328.3 L182,327.9 L183.2,326.4 L184.4,327.8 L185.6,327.5 L186.8,327.4 L188,325.9 L189.2,327.6 L190.4,325.5 L191.6,327.3 L192.8,328.6 L194,327.8 L195.2,325.4 L196.4,326.9 L197.6,325.6 L198.8,325.8 L200,328.4 L201.2,328.8 L202.4,332 L203.6,332.3 L204.8,333.7 L206,328.6 L207.2,327.3 L208.4,325.7 L209.6,324.4 L210.8,323.9 L212,321 L213.2,324.7 L214.4,324.5 L215.6,321.7 L216.8,318.8 L218,317.4 L219.2,317.6 L220.4,316.6 L221.6,318 L222.8,318.3 L224,316.7 L225.2,315.4 L226.4,314.3 L227.6,315.7 L228.8,313.4 L230,314.7 L231.2,314.4 L232.4,315.6 L233.6,320.7 L234.8,318.8 L236,318.4 L237.2,321 L238.4,319.9 L239.6,321.1 L240.8,321.9 L242,319.2 L243.2,319.8 L244.4,316.5 L245.6,317.6 L246.8,317.4 L248,316.9 L249.2,317.8 L250.4,317.5 L251.6,315.5 L252.8,316 L254,315.6 L255.2,314.3 L256.4,313.4 L257.6,315.6 L258.8,315.4 L260,313.3 L261.2,314.8 L262.4,313.1 L263.6,315 L264.8,315.9 L266,313.9 L267.2,316 L268.4,314 L269.6,313.8 L270.8,314 L272,316.3 L273.2,316.4 L274.4,315.4 L275.6,315.8 L276.8,317.5 L278,317.4 L279.2,315.9 L280.4,316.1" fill="none" stroke="#008000" stroke-width="1.0" stroke-linejoin="round"/>
<polygon points="58.4,353.4 61.2,356.2 58.4,358.9 55.6,356.2" fill="#008000"/>
<polygon points="67.9,353.6 70.7,356.3 67.9,359.1 65.2,356.3" fill="#008000"/>
<polygon points="77.5,353.8 80.2,356.5 77.5,359.3 74.7,356.5" fill="#008000"/>
<polygon points="87,353.9 89.8,356.7 87,359.4 84.3,356.7" fill="#008000"/>
<polygon points="96.6,353.9 99.3,356.6 96.6,359.4 93.8,356.6" fill="#008000"/>
<polygon points="106.1,353.8 108.9,356.6 106.1,359.3 103.3,356.6" fill="#008000"/>
<polygon points="115.6,353.7 118.4,356.5 115.6,359.3 112.9,356.5" fill="#008000"/>
<polygon points="125.2,351.4 127.9,354.2 125.2,357 122.4,354.2" fill="#008000"/>
<polygon points="134.7,343.5 137.5,346.2 134.7,349 132,346.2" fill="#008000"/>
<polygon points="144.3,337.8 147,340.6 144.3,343.3 141.5,340.6" fill="#008000"/>
<polygon points="153.8,333.5 156.6,336.3 153.8,339 151,336.3" fill="#008000"/>
<polygon points="163.3,330 166.1,332.7 163.3,335.5 160.6,332.7" fill="#008000"/>
<polygon points="172.9,326.4 175.6,329.2 172.9,331.9 170.1,329.2" fill="#008000"/>
<polygon points="182.4,324.6 185.2,327.4 182.4,330.1 179.7,327.4" fill="#008000"/>
<polygon points="192,324.9 194.7,327.7 192,330.5 189.2,327.7" fill="#008000"/>
<polygon points="201.5,326.9 204.3,329.6 201.5,332.4 198.7,329.6" fill="#008000"/>
<polygon points="211,320.6 213.8,323.3 211,326.1 208.3,323.3" fill="#008000"/>
<polygon points="220.6,314 223.3,316.8 220.6,319.6 217.8,316.8" fill="#008000"/>
<polygon points="230.1,311.9 232.9,314.6 230.1,317.4 227.4,314.6" fill="#008000"/>
<polygon points="239.7,318.4 242.4,321.2 239.7,323.9 236.9,321.2" fill="#008000"/>
<polygon points="249.2,315.1 252,317.8 249.2,320.6 246.4,317.8" fill="#008000"/>
<polygon points="258.7,312.7 261.5,315.4 258.7,318.2 256,315.4" fill="#008000"/>
<polygon points="268.3,311.5 271,314.2 268.3,317 265.5,314.2" fill="#008000"/>
<polygon points="277.8,314.6 280.6,317.4 277.8,320.1 275.1,317.4" fill="#008000"/>
<path d="M58.4,356.2 L59.6,356.2 L60.8,356.2 L62,356.2 L63.2,356.3 L64.4,356.3 L65.6,356.3 L66.8,356.3 L68,356.3 L69.2,356.4 L70.4,356.4 L71.6,356.4 L72.8,356.4 L74,356.5 L75.2,356.5 L76.4,356.5 L77.6,356.5 L78.8,356.6 L80,356.6 L81.2,356.6 L82.4,356.6 L83.6,356.7 L84.8,356.7 L86,356.7 L87.2,356.7 L88.4,356.7 L89.6,356.7 L90.8,356.7 L92,356.6 L93.2,356.6 L94.4,356.6 L95.6,356.6 L96.8,356.6 L98,356.6 L99.2,356.6 L100.4,356.6 L101.6,356.6 L102.8,356.6 L104,356.6 L105.2,356.6 L106.4,356.6 L107.6,356.6 L108.8,356.6 L110,356.6 L111.2,356.6 L112.4,356.5 L113.6,356.5 L114.8,356.5 L116,356.5 L117.2,356.5 L118.4,356.5 L119.6,356.5 L120.8,356.5 L122,356.5 L123.2,356.5 L124.4,356.4 L125.6,356.3 L126.8,356.1 L128,355.9 L129.2,355.7 L130.4,355.4 L131.6,355.1 L132.8,354.8 L134,354.6 L135.2,354.3 L136.4,353.9 L137.6,353.2 L138.8,352.7 L140,352 L141.2,351.4 L142.4,350.6 L143.6,350.4 L144.8,349.3 L146,348.7 L147.2,347.2 L148.4,347 L149.6,346.5 L150.8,345.7 L152,345 L153.2,344.9 L154.4,344.5 L155.6,344.1 L156.8,343.6 L158,343.1 L159.2,343.1 L160.4,341.2 L161.6,339.9 L162.8,339 L164,338.9 L165.2,338 L166.4,338.1 L167.6,338.8 L168.8,337 L170,336.9 L171.2,337.8 L172.4,336.1 L173.6,334.4 L174.8,335.3 L176,336.6 L177.2,334.8 L178.4,333.5 L179.6,334.2 L180.8,333.7 L182,333 L183.2,333 L184.4,333.1 L185.6,331.4 L186.8,331.6 L188,333.2 L189.2,333.3 L190.4,332.5 L191.6,328.4 L192.8,331.2 L194,331 L195.2,332.1 L196.4,329.9 L197.6,330.9 L198.8,329.1 L200,328 L201.2,329.1 L202.4,328.5 L203.6,327.9 L204.8,330.5 L206,331.6 L207.2,332.4 L208.4,331.8 L209.6,331.1 L210.8,331.9 L212,330.3 L213.2,328.1 L214.4,327.4 L215.6,326.3 L216.8,328.5 L218,328.4 L219.2,326.7 L220.4,326.2 L221.6,326 L222.8,326.4 L224,327.6 L225.2,330.1 L226.4,329.8 L227.6,326.7 L228.8,326.4 L230,324.4 L231.2,325 L232.4,325.1 L233.6,326.2 L234.8,325.7 L236,325.2 L237.2,326.8 L238.4,326.5 L239.6,327 L240.8,326.5 L242,326.7 L243.2,325.2 L244.4,323.9 L245.6,325.2 L246.8,323.7 L248,322.8 L249.2,322.5 L250.4,322.5 L251.6,322.3 L252.8,324.1 L254,323.8 L255.2,323 L256.4,323.7 L257.6,320.8 L258.8,320.7 L260,320.8 L261.2,319.4 L262.4,319.2 L263.6,322.1 L264.8,321.1 L266,321.5 L267.2,321.2 L268.4,322.6 L269.6,322.3 L270.8,323.9 L272,323.2 L273.2,324.5 L274.4,324.1 L275.6,323 L276.8,324.2 L278,325.7 L279.2,323.5 L280.4,323.5" fill="none" stroke="#000080" stroke-width="1.0" stroke-linejoin="round"/>
<polygon points="55.8,356.2 60.4,353.6 60.4,358.7" fill="#000080"/>
<polygon points="65.3,356.3 69.9,353.8 69.9,358.9" fill="#000080"/>
<polygon points="74.8,356.5 79.4,354 79.4,359.1" fill="#000080"/>
<polygon points="84.4,356.7 89,354.1 89,359.2" fill="#000080"/>
<polygon points="93.9,356.6 98.5,354.1 98.5,359.2" fill="#000080"/>
<polygon points="103.5,356.6 108.1,354 108.1,359.1" fill="#000080"/>
<polygon points="113,356.5 117.6,354 117.6,359.1" fill="#000080"/>
<polygon points="122.5,356.3 127.1,353.8 127.1,358.9" fill="#000080"/>
<polygon points="132.1,354.4 136.7,351.9 136.7,356.9" fill="#000080"/>
<polygon points="141.6,349.8 146.2,347.3 146.2,352.3" fill="#000080"/>
<polygon points="151.2,344.7 155.8,342.2 155.8,347.3" fill="#000080"/>
<polygon points="160.7,339 165.3,336.5 165.3,341.5" fill="#000080"/>
<polygon points="170.2,335.4 174.8,332.9 174.8,337.9" fill="#000080"/>
<polygon points="179.8,333 184.4,330.5 184.4,335.5" fill="#000080"/>
<polygon points="189.3,329.2 193.9,326.7 193.9,331.7" fill="#000080"/>
<polygon points="198.9,329 203.5,326.4 203.5,331.5" fill="#000080"/>
<polygon points="208.4,331.6 213,329.1 213,334.1" fill="#000080"/>
<polygon points="217.9,326.2 222.5,323.6 222.5,328.7" fill="#000080"/>
<polygon points="227.5,324.5 232.1,322 232.1,327" fill="#000080"/>
<polygon points="237,327 241.6,324.4 241.6,329.5" fill="#000080"/>
<polygon points="246.6,322.5 251.2,319.9 251.2,325" fill="#000080"/>
<polygon points="256.1,320.7 260.7,318.2 260.7,323.2" fill="#000080"/>
<polygon points="265.6,322.5 270.2,319.9 270.2,325" fill="#000080"/>
<polygon points="275.2,325.5 279.8,322.9 279.8,328" fill="#000080"/>
<path d="M58.4,356.2 L59.6,356.2 L60.8,356.2 L62,356.2 L63.2,356.3 L64.4,356.3 L65.6,356.3 L66.8,356.3 L68,356.3 L69.2,356.4 L70.4,356.4 L71.6,356.4 L72.8,356.4 L74,356.5 L75.2,356.5 L76.4,356.5 L77.6,356.5 L78.8,356.6 L80,356.6 L81.2,356.6 L82.4,356.6 L83.6,356.7 L84.8,356.7 L86,356.7 L87.2,356.7 L88.4,356.7 L89.6,356.7 L90.8,356.7 L92,356.7 L93.2,356.7 L94.4,356.6 L95.6,356.6 L96.8,356.6 L98,356.6 L99.2,356.6 L100.4,356.6 L101.6,356.6 L102.8,356.6 L104,356.6 L105.2,356.6 L106.4,356.6 L107.6,356.6 L108.8,356.6 L110,356.6 L111.2,356.6 L112.4,356.6 L113.6,356.6 L114.8,356.6 L116,356.6 L117.2,356.6 L118.4,356.5 L119.6,356.5 L120.8,356.5 L122,356.5 L123.2,356.5 L124.4,356.5 L125.6,356.5 L126.8,356.5 L128,356.5 L129.2,356.5 L130.4,356.5 L131.6,356.5 L132.8,356.5 L134,356.5 L135.2,356.4 L136.4,356.3 L137.6,356.2 L138.8,356.2 L140,356 L141.2,355.7 L142.4,355.4 L143.6,355.1 L144.8,354.8 L146,354.5 L147.2,354.2 L148.4,353.9 L149.6,353.5 L150.8,353.2 L152,352.8 L153.2,352.3 L154.4,351.7 L155.6,350.9 L156.8,350.5 L158,350 L159.2,345.9 L160.4,342.9 L161.6,343.1 L162.8,342.7 L164,342.1 L165.2,342.4 L166.4,342.1 L167.6,342.8 L168.8,342.5 L170,341.2 L171.2,340.9 L172.4,339.8 L173.6,340.1 L174.8,340.3 L176,339.8 L177.2,338.8 L178.4,338.5 L179.6,339.8 L180.8,340.8 L182,340.9 L183.2,340.2 L184.4,340 L185.6,340.2 L186.8,339.2 L188,337.1 L189.2,338.9 L190.4,337 L191.6,338.8 L192.8,337.1 L194,338.3 L195.2,337.7 L196.4,336.9 L197.6,335.5 L198.8,335.1 L200,334.9 L201.2,336.6 L202.4,334.7 L203.6,335 L204.8,333.9 L206,335 L207.2,335.4 L208.4,334 L209.6,334.1 L210.8,334.4 L212,334.3 L213.2,335.4 L214.4,333.1 L215.6,333 L216.8,332.8 L218,334.2 L219.2,334.4 L220.4,333.9 L221.6,332.6 L222.8,331.8 L224,332.4 L225.2,331.5 L226.4,332.9 L227.6,333.7 L228.8,332 L230,332.8 L231.2,333 L232.4,332.9 L233.6,334 L234.8,333.8 L236,333.5 L237.2,333.8 L238.4,333.8 L239.6,334 L240.8,333.4 L242,332.7 L243.2,333.4 L244.4,330.6 L245.6,330.2 L246.8,330.5 L248,328.7 L249.2,330.8 L250.4,330 L251.6,329.1 L252.8,331 L254,329.9 L255.2,330.4 L256.4,329.8 L257.6,328.8 L258.8,329.9 L260,328.1 L261.2,329.5 L262.4,328.8 L263.6,327.7 L264.8,327.4 L266,329 L267.2,330.1 L268.4,329.8 L269.6,329.6 L270.8,328.5 L272,329.3 L273.2,328.1 L274.4,328.5 L275.6,328.5 L276.8,328 L278,328.4 L279.2,330.3 L280.4,330.1" fill="none" stroke="#8000ff" stroke-width="1.0" stroke-linejoin="round"/>
<polygon points="61,356.2 56.4,353.6 56.4,358.7" fill="#8000ff"/>
<polygon points="70.6,356.3 66,353.8 66,358.9" fill="#8000ff"/>
<polygon points="80.1,356.5 75.5,354 75.5,359.1" fill="#8000ff"/>
<polygon points="89.7,356.7 85.1,354.1 85.1,359.2" fill="#8000ff"/>
<polygon points="99.2,356.6 94.6,354.1 94.6,359.2" fill="#8000ff"/>
<polygon points="108.7,356.6 104.1,354.1 104.1,359.1" fill="#8000ff"/>
<polygon points="118.3,356.6 113.7,354 113.7,359.1" fill="#8000ff"/>
<polygon points="127.8,356.5 123.2,354 123.2,359.1" fill="#8000ff"/>
<polygon points="137.4,356.4 132.8,353.9 132.8,359" fill="#8000ff"/>
<polygon points="146.9,354.9 142.3,352.4 142.3,357.5" fill="#8000ff"/>
<polygon points="156.4,352 151.8,349.5 151.8,354.5" fill="#8000ff"/>
<polygon points="166,342.4 161.4,339.9 161.4,344.9" fill="#8000ff"/>
<polygon points="175.5,339.9 170.9,337.4 170.9,342.4" fill="#8000ff"/>
<polygon points="185.1,340.6 180.5,338.1 180.5,343.2" fill="#8000ff"/>
<polygon points="194.6,338.3 190,335.7 190,340.8" fill="#8000ff"/>
<polygon points="204.1,336.1 199.5,333.6 199.5,338.6" fill="#8000ff"/>
<polygon points="213.7,334.4 209.1,331.9 209.1,336.9" fill="#8000ff"/>
<polygon points="223.2,333.7 218.6,331.2 218.6,336.3" fill="#8000ff"/>
<polygon points="232.8,332.8 228.2,330.3 228.2,335.3" fill="#8000ff"/>
<polygon points="242.3,333.9 237.7,331.4 237.7,336.5" fill="#8000ff"/>
<polygon points="251.8,330.8 247.2,328.3 247.2,333.4" fill="#8000ff"/>
<polygon points="261.4,329.8 256.8,327.3 256.8,332.3" fill="#8000ff"/>
<polygon points="270.9,329.8 266.3,327.3 266.3,332.4" fill="#8000ff"/>
<polygon points="280.5,328.4 275.9,325.8 275.9,330.9" fill="#8000ff"/>
<path d="M58.4,356.1 L59.6,356.1 L60.8,356.1 L62,356.1 L63.2,356.1 L64.4,356.1 L65.6,356.1 L66.8,356.1 L68,356.1 L69.2,356.1 L70.4,356.1 L71.6,356.1 L72.8,356.1 L74,356.1 L75.2,356.1 L76.4,356.1 L77.6,356.1 L78.8,356.1 L80,356.1 L81.2,356.1 L82.4,356.1 L83.6,356.1 L84.8,356.1 L86,356.1 L87.2,356.1 L88.4,356.1 L89.6,356.1 L90.8,356.1 L92,356.1 L93.2,356.1 L94.4,356.1 L95.6,356.1 L96.8,356.1 L98,356.1 L99.2,356.1 L100.4,356.1 L101.6,356.1 L102.8,356.1 L104,356.1 L105.2,356.1 L106.4,356.1 L107.6,356.1 L108.8,356.1 L110,356.1 L111.2,356.1 L112.4,356.1 L113.6,356.1 L114.8,356.1 L116,356.1 L117.2,356.1 L118.4,356.1 L119.6,356.1 L120.8,356.1 L122,356.1 L123.2,356.1 L124.4,356.1 L125.6,356.1 L126.8,356.1 L128,356.1 L129.2,356.1 L130.4,356.1 L131.6,356.1 L132.8,356.1 L134,356.1 L135.2,356.1 L136.4,356.1 L137.6,356.1 L138.8,356.1 L140,356.1 L141.2,356.1 L142.4,356.1 L143.6,356.1 L144.8,356.1 L146,356.1 L147.2,356.1 L148.4,356.1 L149.6,356.1 L150.8,356.1 L152,356.1 L153.2,355.8 L154.4,355.4 L155.6,355 L156.8,354.9 L158,354.7 L159.2,354.6 L160.4,354.5 L161.6,354.4 L162.8,354.2 L164,353.9 L165.2,353.5 L166.4,353.2 L167.6,352.7 L168.8,352.2 L170,351.9 L171.2,351.9 L172.4,351.3 L173.6,351.1 L174.8,350.5 L176,349.7 L177.2,349.6 L178.4,349 L179.6,348.3 L180.8,348.2 L182,348.1 L183.2,347.4 L184.4,347.2 L185.6,347.5 L186.8,347.6 L188,346.1 L189.2,345.7 L190.4,346.1 L191.6,345.4 L192.8,345 L194,345.7 L195.2,345.6 L196.4,345.2 L197.6,343.6 L198.8,343.4 L200,344.3 L201.2,343.5 L202.4,344.2 L203.6,342.4 L204.8,343.5 L206,343.3 L207.2,342.6 L208.4,342.7 L209.6,340.9 L210.8,341.6 L212,341.3 L213.2,340.2 L214.4,339.3 L215.6,338.7 L216.8,339.1 L218,339.3 L219.2,338.9 L220.4,339.5 L221.6,339.3 L222.8,339.9 L224,338.6 L225.2,338.7 L226.4,338.7 L227.6,339.3 L228.8,337.6 L230,336.9 L231.2,336.9 L232.4,338.2 L233.6,337.6 L234.8,338.2 L236,338.4 L237.2,337.9 L238.4,338.3 L239.6,337.2 L240.8,337.2 L242,337.1 L243.2,337.3 L244.4,337.7 L245.6,336.8 L246.8,337.5 L248,337.4 L249.2,337.3 L250.4,335.9 L251.6,335.3 L252.8,335.5 L254,336 L255.2,336.5 L256.4,336.8 L257.6,335.9 L258.8,336.6 L260,336 L261.2,335.3 L262.4,335.7 L263.6,335.4 L264.8,335.6 L266,336.4 L267.2,336.1 L268.4,336.3 L269.6,335.7 L270.8,335 L272,335.8 L273.2,334.6 L274.4,337.6 L275.6,336.6 L276.8,335.8 L278,335.3 L279.2,334.5 L280.4,334.3" fill="none" stroke="#800080" stroke-width="1.0" stroke-linejoin="round"/>
<circle cx="58.4" cy="356.1" r="2.4" fill="#800080"/>
<circle cx="67.9" cy="356.1" r="2.4" fill="#800080"/>
<circle cx="77.5" cy="356.1" r="2.4" fill="#800080"/>
<circle cx="87" cy="356.1" r="2.4" fill="#800080"/>
<circle cx="96.6" cy="356.1" r="2.4" fill="#800080"/>
<circle cx="106.1" cy="356.1" r="2.4" fill="#800080"/>
<circle cx="115.6" cy="356.1" r="2.4" fill="#800080"/>
<circle cx="125.2" cy="356.1" r="2.4" fill="#800080"/>
<circle cx="134.7" cy="356.1" r="2.4" fill="#800080"/>
<circle cx="144.3" cy="356.1" r="2.4" fill="#800080"/>
<circle cx="153.8" cy="355.6" r="2.4" fill="#800080"/>
<circle cx="163.3" cy="354.1" r="2.4" fill="#800080"/>
<circle cx="172.9" cy="351.3" r="2.4" fill="#800080"/>
<circle cx="182.4" cy="347.9" r="2.4" fill="#800080"/>
<circle cx="192" cy="345.3" r="2.4" fill="#800080"/>
<circle cx="201.5" cy="343.7" r="2.4" fill="#800080"/>
<circle cx="211" cy="341.5" r="2.4" fill="#800080"/>
<circle cx="220.6" cy="339.5" r="2.4" fill="#800080"/>
<circle cx="230.1" cy="336.9" r="2.4" fill="#800080"/>
<circle cx="239.7" cy="337.2" r="2.4" fill="#800080"/>
<circle cx="249.2" cy="337.3" r="2.4" fill="#800080"/>
<circle cx="258.7" cy="336.5" r="2.4" fill="#800080"/>
<circle cx="268.3" cy="336.3" r="2.4" fill="#800080"/>
<circle cx="277.8" cy="335.4" r="2.4" fill="#800080"/>
<path d="M58.4,356.1 L59.6,356.1 L60.8,356.1 L62,356.1 L63.2,356.1 L64.4,356.1 L65.6,356.1 L66.8,356.1 L68,356.1 L69.2,356.1 L70.4,356.1 L71.6,356.1 L72.8,356.1 L74,356.1 L75.2,356.1 L76.4,356.1 L77.6,356.1 L78.8,356.1 L80,356.1 L81.2,356.1 L82.4,356.1 L83.6,356.1 L84.8,356.1 L86,356.1 L87.2,356.1 L88.4,356.1 L89.6,356.1 L90.8,356.1 L92,356.1 L93.2,356.1 L94.4,356.1 L95.6,356.1 L96.8,356.1 L98,356.1 L99.2,356.1 L100.4,356.1 L101.6,356.1 L102.8,356.1 L104,356.1 L105.2,356.1 L106.4,356.1 L107.6,356.1 L108.8,356.1 L110,356.1 L111.2,356.1 L112.4,356.1 L113.6,356.1 L114.8,356.1 L116,356.1 L117.2,356.1 L118.4,356.1 L119.6,356.1 L120.8,356.1 L122,356.1 L123.2,356.1 L124.4,356.1 L125.6,356.1 L126.8,356.1 L128,356.1 L129.2,356.1 L130.4,356.1 L131.6,356.1 L132.8,356.1 L134,356.1 L135.2,356.1 L136.4,356.1 L137.6,356.1 L138.8,356.1 L140,356.1 L141.2,356.1 L142.4,356.1 L143.6,356.1 L144.8,356.1 L146,356.1 L147.2,356.1 L148.4,356.1 L149.6,356.1 L150.8,356.1 L152,356.1 L153.2,356.1 L154.4,356.1 L155.6,356.1 L156.8,356.1 L158,356.1 L159.2,356.1 L160.4,356.1 L161.6,356.1 L162.8,356.1 L164,356.1 L165.2,356.1 L166.4,356.1 L167.6,356.1 L168.8,355.6 L170,355.2 L171.2,354.8 L172.4,354.6 L173.6,354.2 L174.8,354 L176,353.6 L177.2,353.2 L178.4,353.1 L179.6,352.9 L180.8,352.6 L182,352.6 L183.2,352.3 L184.4,352.1 L185.6,351.9 L186.8,351.8 L188,351.6 L189.2,351.3 L190.4,350.7 L191.6,350.8 L192.8,350.9 L194,350.3 L195.2,350.5 L196.4,350.6 L197.6,349.5 L198.8,349 L200,349 L201.2,349 L202.4,349.4 L203.6,348.8 L204.8,348.1 L206,347.7 L207.2,348.3 L208.4,348.1 L209.6,346.9 L210.8,346.5 L212,347.6 L213.2,347.8 L214.4,346 L215.6,345.5 L216.8,346.2 L218,346.5 L219.2,346.4 L220.4,346.4 L221.6,346.3 L222.8,345.7 L224,344.9 L225.2,345.5 L226.4,346.1 L227.6,346.2 L228.8,345.7 L230,345.2 L231.2,346.2 L232.4,344.8 L233.6,344.9 L234.8,344.4 L236,344.6 L237.2,344.5 L238.4,344.2 L239.6,344.7 L240.8,344 L242,344.8 L243.2,345.3 L244.4,344.5 L245.6,344.5 L246.8,343.4 L248,344.6 L249.2,344.3 L250.4,344.2 L251.6,344.6 L252.8,343.6 L254,342.8 L255.2,343.9 L256.4,343.3 L257.6,342.8 L258.8,343.2 L260,343.7 L261.2,343.4 L262.4,342.5 L263.6,343.5 L264.8,343 L266,343.6 L267.2,343.2 L268.4,343 L269.6,343.2 L270.8,343.5 L272,343.1 L273.2,342.4 L274.4,341.9 L275.6,342.5 L276.8,343.2 L278,342.3 L279.2,342.6 L280.4,341.8" fill="none" stroke="#800000" stroke-width="1.0" stroke-linejoin="round"/>
<polygon points="58.4,353.3 59.1,355.2 61.1,355.2 59.5,356.5 60.1,358.5 58.4,357.3 56.7,358.5 57.3,356.5 55.7,355.2 57.7,355.2" fill="#800000"/>
<polygon points="67.9,353.3 68.6,355.2 70.7,355.2 69,356.5 69.6,358.5 67.9,357.3 66.3,358.5 66.8,356.5 65.2,355.2 67.3,355.2" fill="#800000"/>
<polygon points="77.5,353.3 78.2,355.2 80.2,355.2 78.6,356.5 79.2,358.5 77.5,357.3 75.8,358.5 76.4,356.5 74.7,355.2 76.8,355.2" fill="#800000"/>
<polygon points="87,353.3 87.7,355.2 89.8,355.2 88.1,356.5 88.7,358.5 87,357.3 85.3,358.5 85.9,356.5 84.3,355.2 86.3,355.2" fill="#800000"/>
<polygon points="96.6,353.3 97.2,355.2 99.3,355.2 97.7,356.5 98.2,358.5 96.6,357.3 94.9,358.5 95.5,356.5 93.8,355.2 95.9,355.2" fill="#800000"/>
<polygon points="106.1,353.3 106.8,355.2 108.8,355.2 107.2,356.5 107.8,358.5 106.1,357.3 104.4,358.5 105,356.5 103.4,355.2 105.4,355.2" fill="#800000"/>
<polygon points="115.6,353.3 116.3,355.2 118.4,355.2 116.7,356.5 117.3,358.5 115.6,357.3 114,358.5 114.5,356.5 112.9,355.2 115,355.2" fill="#800000"/>
<polygon points="125.2,353.3 125.9,355.2 127.9,355.2 126.3,356.5 126.9,358.5 125.2,357.3 123.5,358.5 124.1,356.5 122.4,355.2 124.5,355.2" fill="#800000"/>
<polygon points="134.7,353.3 135.4,355.2 137.5,355.2 135.8,356.5 136.4,358.5 134.7,357.3 133,358.5 133.6,356.5 132,355.2 134,355.2" fill="#800000"/>
<polygon points="144.3,353.3 144.9,355.2 147,355.2 145.4,356.5 145.9,358.5 144.3,357.3 142.6,358.5 143.2,356.5 141.5,355.2 143.6,355.2" fill="#800000"/>
<polygon points="153.8,353.3 154.5,355.2 156.5,355.2 154.9,356.5 155.5,358.5 153.8,357.3 152.1,358.5 152.7,356.5 151.1,355.2 153.1,355.2" fill="#800000"/>
<polygon points="163.3,353.3 164,355.2 166.1,355.2 164.4,356.5 165,358.5 163.3,357.3 161.7,358.5 162.2,356.5 160.6,355.2 162.7,355.2" fill="#800000"/>
<polygon points="172.9,351.6 173.6,353.5 175.6,353.6 174,354.8 174.6,356.8 172.9,355.6 171.2,356.8 171.8,354.8 170.1,353.6 172.2,353.5" fill="#800000"/>
<polygon points="182.4,349.6 183.1,351.6 185.2,351.6 183.5,352.8 184.1,354.8 182.4,353.6 180.7,354.8 181.3,352.8 179.7,351.6 181.7,351.6" fill="#800000"/>
<polygon points="192,348 192.6,349.9 194.7,350 193.1,351.2 193.6,353.2 192,352 190.3,353.2 190.9,351.2 189.2,350 191.3,349.9" fill="#800000"/>
<polygon points="201.5,346.2 202.2,348.2 204.2,348.2 202.6,349.5 203.2,351.4 201.5,350.3 199.8,351.4 200.4,349.5 198.8,348.2 200.8,348.2" fill="#800000"/>
<polygon points="211,343.8 211.7,345.8 213.8,345.8 212.1,347.1 212.7,349 211,347.9 209.4,349 209.9,347.1 208.3,345.8 210.4,345.8" fill="#800000"/>
<polygon points="220.6,343.5 221.3,345.5 223.3,345.5 221.7,346.7 222.3,348.7 220.6,347.5 218.9,348.7 219.5,346.7 217.8,345.5 219.9,345.5" fill="#800000"/>
<polygon points="230.1,342.5 230.8,344.4 232.9,344.4 231.2,345.7 231.8,347.7 230.1,346.5 228.4,347.7 229,345.7 227.4,344.4 229.4,344.4" fill="#800000"/>
<polygon points="239.7,341.8 240.3,343.7 242.4,343.8 240.8,345 241.3,347 239.7,345.8 238,347 238.6,345 236.9,343.8 239,343.7" fill="#800000"/>
<polygon points="249.2,341.4 249.9,343.4 251.9,343.4 250.3,344.7 250.9,346.6 249.2,345.5 247.5,346.6 248.1,344.7 246.5,343.4 248.5,343.4" fill="#800000"/>
<polygon points="258.7,340.3 259.4,342.3 261.5,342.3 259.8,343.6 260.4,345.5 258.7,344.4 257.1,345.5 257.6,343.6 256,342.3 258.1,342.3" fill="#800000"/>
<polygon points="268.3,340.1 269,342.1 271,342.1 269.4,343.4 270,345.3 268.3,344.2 266.6,345.3 267.2,343.4 265.5,342.1 267.6,342.1" fill="#800000"/>
<polygon points="277.8,339.6 278.5,341.5 280.6,341.6 278.9,342.8 279.5,344.8 277.8,343.6 276.1,344.8 276.7,342.8 275.1,341.6 277.1,341.5" fill="#800000"/>
<line x1="85.4" y1="217.1" x2="85.4" y2="379.3" stroke="#1a1a1a" stroke-width="1.0"/>
<line x1="166.7" y1="217.1" x2="166.7" y2="379.3" stroke="#1a1a1a" stroke-width="1.0"/>
<line x1="204.6" y1="217.1" x2="204.6" y2="379.3" stroke="#1a1a1a" stroke-width="1.0"/>
<line x1="58.4" y1="234.7" x2="281" y2="234.7" stroke="#333" stroke-width="0.9"/>
<polygon points="59,234.7 62.6,233 62.6,236.4" fill="#111"/>
<polygon points="84.8,234.7 81.2,233 81.2,236.4" fill="#111"/>
<text x="73.5" y="232.9" class="ph">(1)</text>
<polygon points="86,234.7 89.6,233 89.6,236.4" fill="#111"/>
<polygon points="166.1,234.7 162.5,233 162.5,236.4" fill="#111"/>
<text x="126.4" y="232.9" class="ph">(2)</text>
<polygon points="167.3,234.7 170.9,233 170.9,236.4" fill="#111"/>
<polygon points="204,234.7 200.4,233 200.4,236.4" fill="#111"/>
<text x="187" y="232.9" class="ph">(3)</text>
<polygon points="205.2,234.7 208.8,233 208.8,236.4" fill="#111"/>
<polygon points="280.4,234.7 276.8,233 276.8,236.4" fill="#111"/>
<text x="242.6" y="232.9" class="ph">(4)</text>
<circle cx="85.4" cy="356.1" r="4.4" fill="none" stroke="#000" stroke-width="0.95"/>
<circle cx="166.7" cy="356.1" r="4.4" fill="none" stroke="#000" stroke-width="0.95"/>
<circle cx="204.6" cy="346.7" r="4.4" fill="none" stroke="#000" stroke-width="0.95"/>
<text x="91.4" y="366.3" class="tl">t<tspan class="sub" dy="2.6">1</tspan></text>
<text x="171.6" y="368.2" class="tl">t<tspan class="sub" dy="2.6">2</tspan></text>
<text x="209.1" y="360.7" class="tl">t<tspan class="sub" dy="2.6">3</tspan></text>
<rect x="62" y="240.1" width="48.5" height="78.9" fill="#fff" stroke="#222" stroke-width="0.9"/>
<line x1="66.1" y1="248.9" x2="81.6" y2="248.9" stroke="#000000" stroke-width="0.75"/>
<rect x="71.4" y="246.5" width="4.8" height="4.8" fill="#000000"/>
<text x="83.9" y="251.3" class="lg" style="font-size:6.6px">Floor 2</text>
<line x1="66.1" y1="257.2" x2="81.6" y2="257.2" stroke="#ff0000" stroke-width="0.75"/>
<circle cx="73.8" cy="257.2" r="2.5" fill="#ff0000"/>
<text x="83.9" y="259.6" class="lg" style="font-size:6.6px">Floor 4</text>
<line x1="66.1" y1="265.6" x2="81.6" y2="265.6" stroke="#0000ff" stroke-width="0.75"/>
<polygon points="73.8,262.8 71.2,267.6 76.5,267.6" fill="#0000ff"/>
<text x="83.9" y="267.9" class="lg" style="font-size:6.6px">Floor 6</text>
<line x1="66.1" y1="273.9" x2="81.6" y2="273.9" stroke="#ff00ff" stroke-width="0.75"/>
<polygon points="73.8,276.6 71.2,271.8 76.5,271.8" fill="#ff00ff"/>
<text x="83.9" y="276.3" class="lg" style="font-size:6.6px">Floor 8</text>
<line x1="66.1" y1="282.2" x2="81.6" y2="282.2" stroke="#008000" stroke-width="0.75"/>
<polygon points="73.8,279.3 76.7,282.2 73.8,285.1 71,282.2" fill="#008000"/>
<text x="83.9" y="284.6" class="lg" style="font-size:6.6px">Floor 10</text>
<line x1="66.1" y1="290.6" x2="81.6" y2="290.6" stroke="#000080" stroke-width="0.75"/>
<polygon points="71.1,290.6 75.9,287.9 75.9,293.2" fill="#000080"/>
<text x="83.9" y="292.9" class="lg" style="font-size:6.6px">Floor 12</text>
<line x1="66.1" y1="298.9" x2="81.6" y2="298.9" stroke="#8000ff" stroke-width="0.75"/>
<polygon points="76.6,298.9 71.8,296.2 71.8,301.5" fill="#8000ff"/>
<text x="83.9" y="301.3" class="lg" style="font-size:6.6px">Floor 14</text>
<line x1="66.1" y1="307.2" x2="81.6" y2="307.2" stroke="#800080" stroke-width="0.75"/>
<circle cx="73.8" cy="307.2" r="2.5" fill="#800080"/>
<text x="83.9" y="309.6" class="lg" style="font-size:6.6px">Floor 16</text>
<line x1="66.1" y1="315.5" x2="81.6" y2="315.5" stroke="#800000" stroke-width="0.75"/>
<polygon points="73.8,312.5 74.6,314.6 76.7,314.6 75,315.9 75.6,318 73.8,316.7 72.1,318 72.7,315.9 71,314.6 73.1,314.6" fill="#800000"/>
<text x="83.9" y="317.9" class="lg" style="font-size:6.6px">Floor 18</text>
<rect x="58.4" y="217.1" width="222.6" height="162.2" fill="none" stroke="#000" stroke-width="1.2"/>
<text x="58.4" y="389.8" class="tk" style="font-size:8.8px" text-anchor="middle">0</text>
<text x="90.2" y="389.8" class="tk" style="font-size:8.8px" text-anchor="middle">200</text>
<text x="122" y="389.8" class="tk" style="font-size:8.8px" text-anchor="middle">400</text>
<text x="153.8" y="389.8" class="tk" style="font-size:8.8px" text-anchor="middle">600</text>
<text x="185.6" y="389.8" class="tk" style="font-size:8.8px" text-anchor="middle">800</text>
<text x="217.4" y="389.8" class="tk" style="font-size:8.8px" text-anchor="middle">1000</text>
<text x="249.2" y="389.8" class="tk" style="font-size:8.8px" text-anchor="middle">1200</text>
<text x="281" y="389.8" class="tk" style="font-size:8.8px" text-anchor="middle">1400</text>
<text x="54.6" y="382.5" class="tk" style="font-size:8.8px" text-anchor="end">18</text>
<text x="54.6" y="359.3" class="tk" style="font-size:8.8px" text-anchor="end">20</text>
<text x="54.6" y="336.1" class="tk" style="font-size:8.8px" text-anchor="end">22</text>
<text x="54.6" y="313" class="tk" style="font-size:8.8px" text-anchor="end">24</text>
<text x="54.6" y="289.8" class="tk" style="font-size:8.8px" text-anchor="end">26</text>
<text x="54.6" y="266.6" class="tk" style="font-size:8.8px" text-anchor="end">28</text>
<text x="54.6" y="243.4" class="tk" style="font-size:8.8px" text-anchor="end">30</text>
<text x="54.6" y="220.3" class="tk" style="font-size:8.8px" text-anchor="end">32</text>
<path d="M58.4,379.3v-3.2M58.4,217.1v3.2M74.3,379.3v-2M74.3,217.1v2M90.2,379.3v-3.2M90.2,217.1v3.2M106.1,379.3v-2M106.1,217.1v2M122,379.3v-3.2M122,217.1v3.2M137.9,379.3v-2M137.9,217.1v2M153.8,379.3v-3.2M153.8,217.1v3.2M169.7,379.3v-2M169.7,217.1v2M185.6,379.3v-3.2M185.6,217.1v3.2M201.5,379.3v-2M201.5,217.1v2M217.4,379.3v-3.2M217.4,217.1v3.2M233.3,379.3v-2M233.3,217.1v2M249.2,379.3v-3.2M249.2,217.1v3.2M265.1,379.3v-2M265.1,217.1v2M281,379.3v-3.2M281,217.1v3.2M58.4,379.3h3.2M281,379.3h-3.2M58.4,367.7h2M281,367.7h-2M58.4,356.1h3.2M281,356.1h-3.2M58.4,344.5h2M281,344.5h-2M58.4,333h3.2M281,333h-3.2M58.4,321.4h2M281,321.4h-2M58.4,309.8h3.2M281,309.8h-3.2M58.4,298.2h2M281,298.2h-2M58.4,286.6h3.2M281,286.6h-3.2M58.4,275h2M281,275h-2M58.4,263.4h3.2M281,263.4h-3.2M58.4,251.9h2M281,251.9h-2M58.4,240.3h3.2M281,240.3h-3.2M58.4,228.7h2M281,228.7h-2M58.4,217.1h3.2M281,217.1h-3.2" stroke="#000" stroke-width="1" fill="none"/>
<text x="170.5" y="405.8" class="ax" style="font-size:10.3px" text-anchor="middle">Time (s)</text>
<text transform="translate(32.6,300.9) rotate(-90)" class="ax" style="font-size:10.3px" text-anchor="middle">Gas Temperature in the shaft (°C)</text>
<text x="0.3" y="219.2" class="pl">(c)</text>
<path d="M358.6,358.8 L359.8,358.8 L361,358.8 L362.2,358.8 L363.4,358.8 L364.6,358.8 L365.8,358.8 L367,358.8 L368.2,358.8 L369.4,358.8 L370.6,358.8 L371.8,358.8 L373,358.8 L374.2,358.8 L375.4,358.8 L376.6,358.8 L377.8,358.8 L379,358.8 L380.2,358.8 L381.4,358.8 L382.6,358.8 L383.8,358.8 L385,358.8 L386.2,358.8 L387.4,358.8 L388.6,358.8 L389.8,358.8 L391,358.8 L392.2,358.8 L393.4,358.8 L394.6,356 L395.8,353.5 L397,352.2 L398.2,348.5 L399.4,349.8 L400.6,348.4 L401.8,348.4 L403,348.6 L404.2,347.3 L405.4,348.4 L406.6,346.8 L407.8,349.3 L409,347.1 L410.2,345.5 L411.4,347.4 L412.6,347.6 L413.8,343.1 L415,342.9 L416.2,340.2 L417.4,341.6 L418.6,337.9 L419.8,339.2 L421,337 L422.2,335.5 L423.4,331.3 L424.6,330.5 L425.8,331.3 L427,326.8 L428.2,325.8 L429.4,322.4 L430.6,324.7 L431.8,324.2 L433,321.6 L434.2,315.9 L435.4,320.5 L436.6,312.1 L437.8,309.9 L439,310.2 L440.2,304.7 L441.4,302.6 L442.6,301.7 L443.8,304.5 L445,306.4 L446.2,306.1 L447.4,299.4 L448.6,293.3 L449.8,288.2 L451,288.6 L452.2,287 L453.4,281.2 L454.6,280.6 L455.8,277.3 L457,271.4 L458.2,272.6 L459.4,280 L460.6,277.2 L461.8,265.1 L463,268.5 L464.2,266.7 L465.4,262.5 L466.6,263.6 L467.8,261.6 L469,258.7 L470.2,266.8 L471.4,264.9 L472.6,267 L473.8,265.3 L475,263.1 L476.2,253.7 L477.4,254.2 L478.6,253.5 L479.8,257.7 L481,255.2 L482.2,261.6 L483.4,260.4 L484.6,256.7 L485.8,255 L487,253.2 L488.2,251.5 L489.4,249.1 L490.6,256.7 L491.8,248.7 L493,252.6 L494.2,251 L495.4,250.8 L496.6,250.5 L497.8,252.5 L499,248.7 L500.2,252.6 L501.4,252.5 L502.6,250.6 L503.8,253.1 L505,253.1 L506.2,258.4 L507.4,255.5 L508.6,257.7 L509.8,253.4 L511,253.2 L512.2,252 L513.4,256.4 L514.6,255.6 L515.8,258.3 L517,258.3 L518.2,262.4 L519.4,261.6 L520.6,257.2 L521.8,250.9 L523,255.3 L524.2,252.8 L525.4,254.9 L526.6,252.2 L527.8,258.3 L529,258.3 L530.2,253.7 L531.4,257.4 L532.6,259.8 L533.8,261.1 L535,259.3 L536.2,264.7 L537.4,261.7 L538.6,267.6 L539.8,262.8 L541,265.3 L542.2,261.9 L543.4,257.6 L544.6,259.6 L545.8,260.1 L547,256.7 L548.2,254 L549.4,258.7 L550.6,253.2 L551.8,251.4 L553,250.9 L554.2,255 L555.4,252.5 L556.6,251.3 L557.8,254.6 L559,253.8 L560.2,256.2 L561.4,251.2 L562.6,252.9 L563.8,252.5 L565,254.5 L566.2,253.6 L567.4,250.9 L568.6,248.3 L569.8,253.3 L571,248.2 L572.2,249.9 L573.4,245.5 L574.6,247.7 L575.8,245.8 L577,247 L578.2,250.2 L579.4,254.6 L580.6,252.3" fill="none" stroke="#000000" stroke-width="1.0" stroke-linejoin="round"/>
<rect x="356.3" y="356.5" width="4.6" height="4.6" fill="#000000"/>
<rect x="369.7" y="356.5" width="4.6" height="4.6" fill="#000000"/>
<rect x="383" y="356.5" width="4.6" height="4.6" fill="#000000"/>
<rect x="396.4" y="346.7" width="4.6" height="4.6" fill="#000000"/>
<rect x="409.7" y="345.2" width="4.6" height="4.6" fill="#000000"/>
<rect x="423.1" y="328.7" width="4.6" height="4.6" fill="#000000"/>
<rect x="436.4" y="307.8" width="4.6" height="4.6" fill="#000000"/>
<rect x="449.8" y="284.9" width="4.6" height="4.6" fill="#000000"/>
<rect x="463.1" y="260.3" width="4.6" height="4.6" fill="#000000"/>
<rect x="476.5" y="251.9" width="4.6" height="4.6" fill="#000000"/>
<rect x="489.9" y="247.6" width="4.6" height="4.6" fill="#000000"/>
<rect x="503.2" y="253.1" width="4.6" height="4.6" fill="#000000"/>
<rect x="516.6" y="259.6" width="4.6" height="4.6" fill="#000000"/>
<rect x="529.9" y="256.8" width="4.6" height="4.6" fill="#000000"/>
<rect x="543.3" y="257.7" width="4.6" height="4.6" fill="#000000"/>
<rect x="556.6" y="251.6" width="4.6" height="4.6" fill="#000000"/>
<rect x="570" y="247.2" width="4.6" height="4.6" fill="#000000"/>
<path d="M358.6,358.8 L359.8,358.8 L361,358.8 L362.2,358.8 L363.4,358.8 L364.6,358.8 L365.8,358.8 L367,358.8 L368.2,358.8 L369.4,358.8 L370.6,358.8 L371.8,358.8 L373,358.8 L374.2,358.8 L375.4,358.8 L376.6,358.8 L377.8,358.8 L379,358.8 L380.2,358.8 L381.4,358.8 L382.6,358.8 L383.8,358.8 L385,358.8 L386.2,358.8 L387.4,358.7 L388.6,358.4 L389.8,358.1 L391,358 L392.2,357.9 L393.4,357.9 L394.6,357.8 L395.8,357.8 L397,357.7 L398.2,357.6 L399.4,357.4 L400.6,357.3 L401.8,357.3 L403,357.3 L404.2,357.5 L405.4,357.4 L406.6,357 L407.8,356.9 L409,355.6 L410.2,355.4 L411.4,354.8 L412.6,354.3 L413.8,352.8 L415,352.2 L416.2,352.1 L417.4,348 L418.6,349.9 L419.8,348.6 L421,347.2 L422.2,346.5 L423.4,343.4 L424.6,342.3 L425.8,342 L427,343.4 L428.2,341.7 L429.4,340.8 L430.6,340.4 L431.8,336.4 L433,336.2 L434.2,333.6 L435.4,333.1 L436.6,331.8 L437.8,330.9 L439,332.8 L440.2,330.9 L441.4,333.3 L442.6,331.6 L443.8,330.9 L445,333.7 L446.2,335.3 L447.4,332.2 L448.6,326.1 L449.8,320.9 L451,312 L452.2,310.8 L453.4,310.3 L454.6,312.4 L455.8,307 L457,304.6 L458.2,302.3 L459.4,303.8 L460.6,302.9 L461.8,303.6 L463,298.1 L464.2,296.5 L465.4,296.2 L466.6,300.1 L467.8,301.8 L469,305.4 L470.2,305.9 L471.4,310.6 L472.6,314.6 L473.8,305.6 L475,294.2 L476.2,288.7 L477.4,280.1 L478.6,280.6 L479.8,277.7 L481,281.9 L482.2,281.5 L483.4,289.1 L484.6,284.1 L485.8,282.7 L487,282.9 L488.2,281.9 L489.4,276.2 L490.6,274.4 L491.8,277.4 L493,276.3 L494.2,274.5 L495.4,272.8 L496.6,272 L497.8,272.9 L499,268.5 L500.2,269.7 L501.4,275 L502.6,278.9 L503.8,275.9 L505,278.8 L506.2,283.2 L507.4,281 L508.6,281 L509.8,283.2 L511,275.6 L512.2,281.8 L513.4,278.7 L514.6,275.6 L515.8,280.8 L517,282.8 L518.2,282.6 L519.4,285 L520.6,284 L521.8,284.2 L523,279.6 L524.2,279.6 L525.4,278.7 L526.6,281.4 L527.8,285.2 L529,287.2 L530.2,290.4 L531.4,292.3 L532.6,293.3 L533.8,293.2 L535,290.8 L536.2,291.6 L537.4,293.4 L538.6,292.1 L539.8,288.8 L541,288.5 L542.2,288.9 L543.4,286.3 L544.6,287.6 L545.8,288.8 L547,285 L548.2,283.8 L549.4,286.3 L550.6,285.3 L551.8,283.1 L553,285.4 L554.2,284.6 L555.4,281.9 L556.6,279.7 L557.8,281.5 L559,281.6 L560.2,280.7 L561.4,279 L562.6,281.6 L563.8,276.9 L565,276.1 L566.2,277.2 L567.4,279.4 L568.6,271.4 L569.8,275.6 L571,276.5 L572.2,274.6 L573.4,279.3 L574.6,277.1 L575.8,279.6 L577,275.5 L578.2,277.6 L579.4,278.4 L580.6,276.9" fill="none" stroke="#ff0000" stroke-width="1.0" stroke-linejoin="round"/>
<circle cx="358.6" cy="358.8" r="2.4" fill="#ff0000"/>
<circle cx="372" cy="358.8" r="2.4" fill="#ff0000"/>
<circle cx="385.3" cy="358.8" r="2.4" fill="#ff0000"/>
<circle cx="398.7" cy="357.5" r="2.4" fill="#ff0000"/>
<circle cx="412" cy="354.5" r="2.4" fill="#ff0000"/>
<circle cx="425.4" cy="342.1" r="2.4" fill="#ff0000"/>
<circle cx="438.7" cy="332.4" r="2.4" fill="#ff0000"/>
<circle cx="452.1" cy="310.9" r="2.4" fill="#ff0000"/>
<circle cx="465.4" cy="296.3" r="2.4" fill="#ff0000"/>
<circle cx="478.8" cy="280.1" r="2.4" fill="#ff0000"/>
<circle cx="492.2" cy="277.1" r="2.4" fill="#ff0000"/>
<circle cx="505.5" cy="280.7" r="2.4" fill="#ff0000"/>
<circle cx="518.9" cy="284" r="2.4" fill="#ff0000"/>
<circle cx="532.2" cy="293" r="2.4" fill="#ff0000"/>
<circle cx="545.6" cy="288.6" r="2.4" fill="#ff0000"/>
<circle cx="558.9" cy="281.6" r="2.4" fill="#ff0000"/>
<circle cx="572.3" cy="275" r="2.4" fill="#ff0000"/>
<path d="M358.6,358.8 L359.8,358.8 L361,358.8 L362.2,358.8 L363.4,358.8 L364.6,358.8 L365.8,358.8 L367,358.8 L368.2,358.8 L369.4,358.8 L370.6,358.8 L371.8,358.8 L373,358.8 L374.2,358.8 L375.4,358.8 L376.6,358.8 L377.8,358.8 L379,358.8 L380.2,358.8 L381.4,358.8 L382.6,358.8 L383.8,358.8 L385,358.8 L386.2,358.8 L387.4,358.7 L388.6,358.4 L389.8,358.1 L391,358 L392.2,358 L393.4,358 L394.6,358 L395.8,357.9 L397,358 L398.2,357.8 L399.4,357.9 L400.6,357.9 L401.8,357.9 L403,357.8 L404.2,357.7 L405.4,357.8 L406.6,357.9 L407.8,357.6 L409,357.7 L410.2,357.5 L411.4,357.3 L412.6,357.3 L413.8,357 L415,356.2 L416.2,355.9 L417.4,354.8 L418.6,354.8 L419.8,353.3 L421,354 L422.2,352.1 L423.4,350.7 L424.6,349.7 L425.8,349.3 L427,350.7 L428.2,348.5 L429.4,346.2 L430.6,344.6 L431.8,343.6 L433,341 L434.2,340.6 L435.4,340.3 L436.6,338.5 L437.8,336.2 L439,335.1 L440.2,336.7 L441.4,333.5 L442.6,331.8 L443.8,333.3 L445,334.3 L446.2,335.1 L447.4,334.2 L448.6,331 L449.8,329.2 L451,330 L452.2,326.3 L453.4,327.5 L454.6,320.4 L455.8,317.6 L457,313.8 L458.2,314.4 L459.4,315.9 L460.6,316.2 L461.8,313.3 L463,310.4 L464.2,309 L465.4,309.4 L466.6,307.9 L467.8,306.6 L469,313.1 L470.2,313 L471.4,309.9 L472.6,308.9 L473.8,308.9 L475,299.4 L476.2,297.2 L477.4,295 L478.6,289.4 L479.8,287.2 L481,289.1 L482.2,289.1 L483.4,288.5 L484.6,285.7 L485.8,288.3 L487,287.8 L488.2,287.2 L489.4,287.6 L490.6,286.4 L491.8,283.6 L493,282.1 L494.2,281.9 L495.4,287.1 L496.6,280.2 L497.8,277.1 L499,278.7 L500.2,283.1 L501.4,284 L502.6,283.8 L503.8,282.6 L505,284.2 L506.2,284.1 L507.4,288.6 L508.6,286.7 L509.8,286.3 L511,285.7 L512.2,286.4 L513.4,288.3 L514.6,288.6 L515.8,288.2 L517,288.5 L518.2,292.7 L519.4,294.5 L520.6,295.1 L521.8,292 L523,292.5 L524.2,290.1 L525.4,290.7 L526.6,292.5 L527.8,293.9 L529,293.7 L530.2,295.4 L531.4,294.9 L532.6,293.7 L533.8,294.3 L535,297.3 L536.2,299 L537.4,296 L538.6,294.5 L539.8,296.2 L541,297.8 L542.2,296.7 L543.4,297.7 L544.6,295.5 L545.8,296.7 L547,292.9 L548.2,290.6 L549.4,290 L550.6,291.3 L551.8,291.1 L553,293.6 L554.2,296.1 L555.4,296.8 L556.6,298.4 L557.8,292 L559,292.8 L560.2,292.9 L561.4,293.6 L562.6,295.7 L563.8,293.7 L565,293.5 L566.2,290.8 L567.4,289.5 L568.6,289.7 L569.8,291.8 L571,290.4 L572.2,291.3 L573.4,289.7 L574.6,289.3 L575.8,290.8 L577,291.6 L578.2,296.3 L579.4,295.3 L580.6,299.5" fill="none" stroke="#0000ff" stroke-width="1.0" stroke-linejoin="round"/>
<polygon points="358.6,356.1 356.1,360.7 361.1,360.7" fill="#0000ff"/>
<polygon points="372,356.1 369.4,360.7 374.5,360.7" fill="#0000ff"/>
<polygon points="385.3,356.1 382.8,360.7 387.8,360.7" fill="#0000ff"/>
<polygon points="398.7,355.2 396.1,359.8 401.2,359.8" fill="#0000ff"/>
<polygon points="412,354.6 409.5,359.2 414.6,359.2" fill="#0000ff"/>
<polygon points="425.4,346.8 422.9,351.4 427.9,351.4" fill="#0000ff"/>
<polygon points="438.7,332.7 436.2,337.3 441.3,337.3" fill="#0000ff"/>
<polygon points="452.1,323.9 449.6,328.5 454.6,328.5" fill="#0000ff"/>
<polygon points="465.4,306.7 462.9,311.3 468,311.3" fill="#0000ff"/>
<polygon points="478.8,286.4 476.3,291 481.3,291" fill="#0000ff"/>
<polygon points="492.2,280.5 489.6,285.1 494.7,285.1" fill="#0000ff"/>
<polygon points="505.5,281.5 503,286.1 508,286.1" fill="#0000ff"/>
<polygon points="518.9,291.1 516.3,295.7 521.4,295.7" fill="#0000ff"/>
<polygon points="532.2,291.4 529.7,296 534.8,296" fill="#0000ff"/>
<polygon points="545.6,293.8 543.1,298.4 548.1,298.4" fill="#0000ff"/>
<polygon points="558.9,290.1 556.4,294.7 561.5,294.7" fill="#0000ff"/>
<polygon points="572.3,288.6 569.8,293.2 574.8,293.2" fill="#0000ff"/>
<path d="M358.6,358.8 L359.8,358.8 L361,358.8 L362.2,358.8 L363.4,358.8 L364.6,358.8 L365.8,358.8 L367,358.8 L368.2,358.8 L369.4,358.8 L370.6,358.8 L371.8,358.8 L373,358.8 L374.2,358.8 L375.4,358.8 L376.6,358.8 L377.8,358.8 L379,358.8 L380.2,358.8 L381.4,358.8 L382.6,358.8 L383.8,358.8 L385,358.8 L386.2,358.8 L387.4,358.7 L388.6,358.4 L389.8,358.1 L391,358 L392.2,358 L393.4,358 L394.6,358 L395.8,358 L397,357.9 L398.2,358 L399.4,357.9 L400.6,357.8 L401.8,357.9 L403,357.9 L404.2,357.7 L405.4,357.8 L406.6,357.8 L407.8,357.7 L409,357.8 L410.2,357.9 L411.4,357.8 L412.6,357.9 L413.8,358.1 L415,357.9 L416.2,357.4 L417.4,356.9 L418.6,356.5 L419.8,356.1 L421,356.2 L422.2,356 L423.4,355.2 L424.6,354.8 L425.8,354.1 L427,351.7 L428.2,351.7 L429.4,349 L430.6,348.2 L431.8,347.5 L433,345.3 L434.2,344.6 L435.4,346.1 L436.6,341.9 L437.8,340.2 L439,339.2 L440.2,338.7 L441.4,339 L442.6,336.9 L443.8,335.7 L445,335.2 L446.2,334.6 L447.4,334.8 L448.6,334.3 L449.8,334.2 L451,333.5 L452.2,332.8 L453.4,332.7 L454.6,327.2 L455.8,325.3 L457,322.1 L458.2,316.3 L459.4,316.7 L460.6,315 L461.8,314.6 L463,313 L464.2,313.3 L465.4,312.8 L466.6,310.7 L467.8,311.3 L469,314.3 L470.2,311.3 L471.4,310.6 L472.6,311.7 L473.8,311.3 L475,311.1 L476.2,313.9 L477.4,311.7 L478.6,310.2 L479.8,310.5 L481,309 L482.2,308.5 L483.4,308.1 L484.6,304.3 L485.8,303.6 L487,299.4 L488.2,296.7 L489.4,295.4 L490.6,294.9 L491.8,292.3 L493,291.3 L494.2,291.1 L495.4,288.9 L496.6,286.7 L497.8,287.8 L499,285.5 L500.2,285.3 L501.4,285.5 L502.6,291.5 L503.8,296 L505,294.3 L506.2,294.6 L507.4,295.7 L508.6,296.8 L509.8,299.1 L511,300.7 L512.2,300.2 L513.4,298.8 L514.6,298.8 L515.8,299.9 L517,300.5 L518.2,300.9 L519.4,301.1 L520.6,300.3 L521.8,301.1 L523,302.1 L524.2,300.8 L525.4,305.3 L526.6,305.5 L527.8,306.7 L529,307 L530.2,308.4 L531.4,308.1 L532.6,308.7 L533.8,308 L535,311.1 L536.2,311.6 L537.4,309.1 L538.6,307.1 L539.8,308.7 L541,308.5 L542.2,308.7 L543.4,309.4 L544.6,306.1 L545.8,306.9 L547,306.3 L548.2,307.1 L549.4,307.2 L550.6,307.2 L551.8,306 L553,307 L554.2,307.8 L555.4,306.7 L556.6,304.7 L557.8,304.2 L559,302.8 L560.2,304.3 L561.4,303.9 L562.6,303.8 L563.8,301.8 L565,305.2 L566.2,304.5 L567.4,303.7 L568.6,302.9 L569.8,305.2 L571,303.4 L572.2,303 L573.4,304.8 L574.6,303.9 L575.8,300.7 L577,300.2 L578.2,301.2 L579.4,303.5 L580.6,304.6" fill="none" stroke="#ff00ff" stroke-width="1.0" stroke-linejoin="round"/>
<polygon points="358.6,361.4 356.1,356.8 361.1,356.8" fill="#ff00ff"/>
<polygon points="372,361.4 369.4,356.8 374.5,356.8" fill="#ff00ff"/>
<polygon points="385.3,361.4 382.8,356.8 387.8,356.8" fill="#ff00ff"/>
<polygon points="398.7,360.6 396.1,356 401.2,356" fill="#ff00ff"/>
<polygon points="412,360.5 409.5,355.9 414.6,355.9" fill="#ff00ff"/>
<polygon points="425.4,357 422.9,352.4 427.9,352.4" fill="#ff00ff"/>
<polygon points="438.7,342 436.2,337.4 441.3,337.4" fill="#ff00ff"/>
<polygon points="452.1,335.5 449.6,330.9 454.6,330.9" fill="#ff00ff"/>
<polygon points="465.4,315.4 462.9,310.8 468,310.8" fill="#ff00ff"/>
<polygon points="478.8,312.9 476.3,308.3 481.3,308.3" fill="#ff00ff"/>
<polygon points="492.2,294.7 489.6,290.1 494.7,290.1" fill="#ff00ff"/>
<polygon points="505.5,297.1 503,292.5 508,292.5" fill="#ff00ff"/>
<polygon points="518.9,303.6 516.3,299 521.4,299" fill="#ff00ff"/>
<polygon points="532.2,311.2 529.7,306.6 534.8,306.6" fill="#ff00ff"/>
<polygon points="545.6,309.4 543.1,304.8 548.1,304.8" fill="#ff00ff"/>
<polygon points="558.9,305.5 556.4,300.9 561.5,300.9" fill="#ff00ff"/>
<polygon points="572.3,305.8 569.8,301.2 574.8,301.2" fill="#ff00ff"/>
<path d="M358.6,358.8 L359.8,358.7 L361,358.7 L362.2,358.7 L363.4,358.7 L364.6,358.7 L365.8,358.6 L367,358.6 L368.2,358.6 L369.4,358.6 L370.6,358.6 L371.8,358.5 L373,358.5 L374.2,358.5 L375.4,358.5 L376.6,358.5 L377.8,358.4 L379,358.4 L380.2,358.4 L381.4,358.4 L382.6,358.4 L383.8,358.3 L385,358.3 L386.2,358.3 L387.4,358.3 L388.6,358.3 L389.8,358.2 L391,358.3 L392.2,358.3 L393.4,358.3 L394.6,358.3 L395.8,358.4 L397,358.4 L398.2,358.4 L399.4,358.4 L400.6,358.5 L401.8,358.5 L403,358.5 L404.2,358.5 L405.4,358.6 L406.6,358.6 L407.8,358.6 L409,358.6 L410.2,358.7 L411.4,358.7 L412.6,358.7 L413.8,358.7 L415,358.8 L416.2,358.8 L417.4,358.4 L418.6,358.1 L419.8,357.7 L421,357.5 L422.2,357.3 L423.4,357 L424.6,356.7 L425.8,356.4 L427,355.8 L428.2,354.6 L429.4,354.6 L430.6,354.6 L431.8,353.9 L433,352.4 L434.2,352.4 L435.4,350.6 L436.6,349.2 L437.8,348.2 L439,347.3 L440.2,347.8 L441.4,346 L442.6,346.3 L443.8,346.2 L445,345.2 L446.2,345.2 L447.4,342.3 L448.6,341.8 L449.8,341.6 L451,341.6 L452.2,342.4 L453.4,340.1 L454.6,338.5 L455.8,339.1 L457,333.9 L458.2,331.2 L459.4,330.3 L460.6,325.8 L461.8,324.7 L463,322.1 L464.2,321.4 L465.4,318.5 L466.6,317.6 L467.8,317.2 L469,321.5 L470.2,320.3 L471.4,319.2 L472.6,319.3 L473.8,316.9 L475,317.1 L476.2,320.5 L477.4,318.2 L478.6,318 L479.8,319.7 L481,317.9 L482.2,317.6 L483.4,315.2 L484.6,310.6 L485.8,310.1 L487,308 L488.2,306.5 L489.4,304.4 L490.6,301.9 L491.8,303.5 L493,304.7 L494.2,304.3 L495.4,304.4 L496.6,303.4 L497.8,303.8 L499,302.2 L500.2,297.9 L501.4,296.4 L502.6,297 L503.8,300 L505,300.3 L506.2,302.9 L507.4,303.7 L508.6,304.5 L509.8,306.7 L511,305.6 L512.2,306.4 L513.4,306.3 L514.6,307.4 L515.8,306.7 L517,303.8 L518.2,303.1 L519.4,303.2 L520.6,303.4 L521.8,304.3 L523,305.5 L524.2,304.3 L525.4,307.4 L526.6,307.6 L527.8,309.4 L529,311.5 L530.2,311.5 L531.4,310.9 L532.6,313.8 L533.8,314.7 L535,317.4 L536.2,317.5 L537.4,315.2 L538.6,314.1 L539.8,314.1 L541,314.8 L542.2,317.3 L543.4,318.1 L544.6,315.3 L545.8,314.5 L547,313.5 L548.2,313.2 L549.4,310.2 L550.6,311.3 L551.8,311.4 L553,309.4 L554.2,310.8 L555.4,309.1 L556.6,308.5 L557.8,309.2 L559,311.2 L560.2,308.6 L561.4,311.1 L562.6,309.1 L563.8,311.1 L565,309.9 L566.2,310.6 L567.4,309 L568.6,307.9 L569.8,308.3 L571,308.3 L572.2,308.3 L573.4,310.5 L574.6,310.6 L575.8,309.9 L577,311.7 L578.2,310.5 L579.4,311.7 L580.6,310.7" fill="none" stroke="#008000" stroke-width="1.0" stroke-linejoin="round"/>
<polygon points="358.6,356 361.4,358.8 358.6,361.5 355.8,358.8" fill="#008000"/>
<polygon points="372,355.8 374.7,358.5 372,361.3 369.2,358.5" fill="#008000"/>
<polygon points="385.3,355.6 388.1,358.3 385.3,361.1 382.6,358.3" fill="#008000"/>
<polygon points="398.7,355.7 401.4,358.4 398.7,361.2 395.9,358.4" fill="#008000"/>
<polygon points="412,355.9 414.8,358.7 412,361.5 409.3,358.7" fill="#008000"/>
<polygon points="425.4,353.8 428.1,356.5 425.4,359.3 422.6,356.5" fill="#008000"/>
<polygon points="438.7,344.7 441.5,347.5 438.7,350.2 436,347.5" fill="#008000"/>
<polygon points="452.1,339.6 454.9,342.3 452.1,345.1 449.3,342.3" fill="#008000"/>
<polygon points="465.4,315.7 468.2,318.4 465.4,321.2 462.7,318.4" fill="#008000"/>
<polygon points="478.8,315.5 481.6,318.3 478.8,321 476,318.3" fill="#008000"/>
<polygon points="492.2,301.1 494.9,303.9 492.2,306.6 489.4,303.9" fill="#008000"/>
<polygon points="505.5,298.7 508.3,301.4 505.5,304.2 502.8,301.4" fill="#008000"/>
<polygon points="518.9,300.4 521.6,303.2 518.9,305.9 516.1,303.2" fill="#008000"/>
<polygon points="532.2,310.2 535,312.9 532.2,315.7 529.5,312.9" fill="#008000"/>
<polygon points="545.6,311.9 548.3,314.6 545.6,317.4 542.8,314.6" fill="#008000"/>
<polygon points="558.9,308.4 561.7,311.1 558.9,313.9 556.2,311.1" fill="#008000"/>
<polygon points="572.3,305.7 575.1,308.4 572.3,311.2 569.5,308.4" fill="#008000"/>
<path d="M358.6,358.8 L359.8,358.7 L361,358.7 L362.2,358.7 L363.4,358.7 L364.6,358.7 L365.8,358.6 L367,358.6 L368.2,358.6 L369.4,358.6 L370.6,358.6 L371.8,358.5 L373,358.5 L374.2,358.5 L375.4,358.5 L376.6,358.5 L377.8,358.4 L379,358.4 L380.2,358.4 L381.4,358.4 L382.6,358.4 L383.8,358.3 L385,358.3 L386.2,358.3 L387.4,358.3 L388.6,358.3 L389.8,358.2 L391,358.3 L392.2,358.3 L393.4,358.3 L394.6,358.3 L395.8,358.3 L397,358.4 L398.2,358.4 L399.4,358.4 L400.6,358.4 L401.8,358.5 L403,358.5 L404.2,358.5 L405.4,358.5 L406.6,358.5 L407.8,358.6 L409,358.6 L410.2,358.6 L411.4,358.6 L412.6,358.6 L413.8,358.7 L415,358.7 L416.2,358.7 L417.4,358.7 L418.6,358.7 L419.8,358.8 L421,358.6 L422.2,358.3 L423.4,358 L424.6,357.8 L425.8,357.6 L427,357.4 L428.2,357.2 L429.4,356.8 L430.6,356.4 L431.8,355.8 L433,355.6 L434.2,355 L435.4,354 L436.6,353.3 L437.8,351.7 L439,350.7 L440.2,350.8 L441.4,350.2 L442.6,350.5 L443.8,349.4 L445,347.8 L446.2,349.1 L447.4,346.8 L448.6,345.8 L449.8,346.5 L451,345.6 L452.2,344.4 L453.4,342.1 L454.6,340.8 L455.8,342.2 L457,339.9 L458.2,338.4 L459.4,335.2 L460.6,334.2 L461.8,333 L463,334 L464.2,326.4 L465.4,323.7 L466.6,323.8 L467.8,322.7 L469,323.3 L470.2,322.2 L471.4,321.1 L472.6,320.4 L473.8,320.4 L475,324 L476.2,324.2 L477.4,325.3 L478.6,324.6 L479.8,322.6 L481,320.5 L482.2,319.6 L483.4,321.3 L484.6,320.3 L485.8,319.3 L487,317.2 L488.2,317 L489.4,317.9 L490.6,315.6 L491.8,314.3 L493,311.3 L494.2,311.4 L495.4,309.6 L496.6,311.3 L497.8,312.1 L499,314 L500.2,315.7 L501.4,312.2 L502.6,310.9 L503.8,312.9 L505,313.4 L506.2,313.6 L507.4,312.8 L508.6,310.4 L509.8,309.3 L511,308.8 L512.2,309.8 L513.4,311.2 L514.6,313.6 L515.8,314.7 L517,313.1 L518.2,311.4 L519.4,311.2 L520.6,311.9 L521.8,311 L523,309.2 L524.2,308.4 L525.4,311.6 L526.6,310.6 L527.8,310.5 L529,311.2 L530.2,312.9 L531.4,311.8 L532.6,313.5 L533.8,313.6 L535,314.4 L536.2,315.1 L537.4,315.5 L538.6,317.4 L539.8,317.2 L541,318.6 L542.2,316 L543.4,317.7 L544.6,319.9 L545.8,318.3 L547,316.6 L548.2,317.4 L549.4,320.5 L550.6,317.4 L551.8,318.9 L553,317 L554.2,316.5 L555.4,315.1 L556.6,315.4 L557.8,314.6 L559,316.6 L560.2,318.2 L561.4,316 L562.6,314.5 L563.8,316.1 L565,314.8 L566.2,314.4 L567.4,316.5 L568.6,317.9 L569.8,315.7 L571,314.7 L572.2,315.4 L573.4,315.9 L574.6,314.4 L575.8,317.8 L577,315.3 L578.2,315.6 L579.4,316.2 L580.6,317" fill="none" stroke="#000080" stroke-width="1.0" stroke-linejoin="round"/>
<polygon points="356,358.8 360.6,356.2 360.6,361.3" fill="#000080"/>
<polygon points="369.3,358.5 373.9,356 373.9,361.1" fill="#000080"/>
<polygon points="382.7,358.3 387.3,355.8 387.3,360.8" fill="#000080"/>
<polygon points="396,358.4 400.6,355.9 400.6,360.9" fill="#000080"/>
<polygon points="409.4,358.6 414,356.1 414,361.2" fill="#000080"/>
<polygon points="422.7,357.7 427.3,355.1 427.3,360.2" fill="#000080"/>
<polygon points="436.1,350.9 440.7,348.4 440.7,353.4" fill="#000080"/>
<polygon points="449.4,344.5 454,342 454,347" fill="#000080"/>
<polygon points="462.8,323.7 467.4,321.1 467.4,326.2" fill="#000080"/>
<polygon points="476.2,324.2 480.8,321.7 480.8,326.8" fill="#000080"/>
<polygon points="489.5,313.4 494.1,310.9 494.1,316" fill="#000080"/>
<polygon points="502.9,313.5 507.5,310.9 507.5,316" fill="#000080"/>
<polygon points="516.2,311.3 520.8,308.7 520.8,313.8" fill="#000080"/>
<polygon points="529.6,313 534.2,310.4 534.2,315.5" fill="#000080"/>
<polygon points="542.9,318.6 547.5,316 547.5,321.1" fill="#000080"/>
<polygon points="556.3,316.5 560.9,313.9 560.9,319" fill="#000080"/>
<polygon points="569.7,315.4 574.3,312.9 574.3,317.9" fill="#000080"/>
<path d="M358.6,358.8 L359.8,358.7 L361,358.7 L362.2,358.7 L363.4,358.7 L364.6,358.7 L365.8,358.7 L367,358.7 L368.2,358.7 L369.4,358.6 L370.6,358.6 L371.8,358.6 L373,358.6 L374.2,358.6 L375.4,358.6 L376.6,358.6 L377.8,358.6 L379,358.6 L380.2,358.5 L381.4,358.5 L382.6,358.5 L383.8,358.5 L385,358.5 L386.2,358.5 L387.4,358.5 L388.6,358.5 L389.8,358.4 L391,358.4 L392.2,358.4 L393.4,358.4 L394.6,358.4 L395.8,358.4 L397,358.4 L398.2,358.4 L399.4,358.4 L400.6,358.4 L401.8,358.4 L403,358.4 L404.2,358.4 L405.4,358.4 L406.6,358.4 L407.8,358.3 L409,358.3 L410.2,358.3 L411.4,358.3 L412.6,358.3 L413.8,358.3 L415,358.3 L416.2,358.3 L417.4,358.3 L418.6,358.3 L419.8,358.3 L421,358.3 L422.2,358.3 L423.4,358.3 L424.6,358.3 L425.8,358.3 L427,358.2 L428.2,358.5 L429.4,358.7 L430.6,358.5 L431.8,358 L433,357.5 L434.2,357.1 L435.4,356.8 L436.6,356.7 L437.8,356.5 L439,356.1 L440.2,355.4 L441.4,355.2 L442.6,354.4 L443.8,353.8 L445,353.9 L446.2,353.6 L447.4,352.7 L448.6,352 L449.8,351.9 L451,350 L452.2,347.5 L453.4,348.4 L454.6,347.1 L455.8,347 L457,346.4 L458.2,343.8 L459.4,342.9 L460.6,341.7 L461.8,340.6 L463,337.9 L464.2,337.6 L465.4,335.9 L466.6,334.3 L467.8,333.3 L469,333.8 L470.2,332.7 L471.4,329.9 L472.6,332.2 L473.8,330.2 L475,328.8 L476.2,328.1 L477.4,327.4 L478.6,325.2 L479.8,324.5 L481,325 L482.2,324.7 L483.4,323.5 L484.6,321.6 L485.8,322.2 L487,321.6 L488.2,322.2 L489.4,322.1 L490.6,321 L491.8,320.8 L493,319.9 L494.2,319.8 L495.4,318.9 L496.6,319.4 L497.8,318.7 L499,318.6 L500.2,317.6 L501.4,318.3 L502.6,316.9 L503.8,317.1 L505,317 L506.2,317.4 L507.4,318.9 L508.6,319.6 L509.8,318.4 L511,319.3 L512.2,320.9 L513.4,321.3 L514.6,321.8 L515.8,321.9 L517,320.7 L518.2,319.9 L519.4,320.2 L520.6,318.5 L521.8,320 L523,318.6 L524.2,318.5 L525.4,320.4 L526.6,319.2 L527.8,319.4 L529,319.7 L530.2,316.3 L531.4,317 L532.6,317.6 L533.8,318.6 L535,320.6 L536.2,319.8 L537.4,318.8 L538.6,320.5 L539.8,319 L541,320.6 L542.2,321.7 L543.4,321.1 L544.6,320.8 L545.8,320.2 L547,322.3 L548.2,322.7 L549.4,322.3 L550.6,324.1 L551.8,323 L553,323.4 L554.2,323.3 L555.4,324.8 L556.6,324.8 L557.8,323.5 L559,324.4 L560.2,323.9 L561.4,324.2 L562.6,323.1 L563.8,321.3 L565,321 L566.2,323 L567.4,325 L568.6,322.3 L569.8,322.5 L571,322.2 L572.2,323.1 L573.4,322.6 L574.6,323.4 L575.8,322.9 L577,323.5 L578.2,322.6 L579.4,322.4 L580.6,322.4" fill="none" stroke="#8000ff" stroke-width="1.0" stroke-linejoin="round"/>
<polygon points="361.2,358.8 356.6,356.2 356.6,361.3" fill="#8000ff"/>
<polygon points="374.6,358.6 370,356.1 370,361.2" fill="#8000ff"/>
<polygon points="388,358.5 383.4,356 383.4,361" fill="#8000ff"/>
<polygon points="401.3,358.4 396.7,355.9 396.7,360.9" fill="#8000ff"/>
<polygon points="414.7,358.3 410.1,355.8 410.1,360.9" fill="#8000ff"/>
<polygon points="428,358.3 423.4,355.7 423.4,360.8" fill="#8000ff"/>
<polygon points="441.4,356.2 436.8,353.7 436.8,358.7" fill="#8000ff"/>
<polygon points="454.7,347.7 450.1,345.2 450.1,350.2" fill="#8000ff"/>
<polygon points="468.1,335.9 463.5,333.3 463.5,338.4" fill="#8000ff"/>
<polygon points="481.4,325.1 476.8,322.5 476.8,327.6" fill="#8000ff"/>
<polygon points="494.8,320.5 490.2,318 490.2,323.1" fill="#8000ff"/>
<polygon points="508.2,317.2 503.6,314.7 503.6,319.7" fill="#8000ff"/>
<polygon points="521.5,320.1 516.9,317.5 516.9,322.6" fill="#8000ff"/>
<polygon points="534.9,317.4 530.3,314.9 530.3,320" fill="#8000ff"/>
<polygon points="548.2,320.3 543.6,317.8 543.6,322.8" fill="#8000ff"/>
<polygon points="561.6,324.4 557,321.9 557,326.9" fill="#8000ff"/>
<polygon points="574.9,323 570.3,320.5 570.3,325.6" fill="#8000ff"/>
<path d="M358.6,358.8 L359.8,358.7 L361,358.7 L362.2,358.7 L363.4,358.7 L364.6,358.7 L365.8,358.7 L367,358.7 L368.2,358.7 L369.4,358.6 L370.6,358.6 L371.8,358.6 L373,358.6 L374.2,358.6 L375.4,358.6 L376.6,358.6 L377.8,358.6 L379,358.6 L380.2,358.5 L381.4,358.5 L382.6,358.5 L383.8,358.5 L385,358.5 L386.2,358.5 L387.4,358.5 L388.6,358.5 L389.8,358.4 L391,358.4 L392.2,358.4 L393.4,358.4 L394.6,358.4 L395.8,358.4 L397,358.4 L398.2,358.4 L399.4,358.4 L400.6,358.4 L401.8,358.4 L403,358.4 L404.2,358.4 L405.4,358.4 L406.6,358.4 L407.8,358.4 L409,358.4 L410.2,358.3 L411.4,358.3 L412.6,358.3 L413.8,358.3 L415,358.3 L416.2,358.3 L417.4,358.3 L418.6,358.3 L419.8,358.3 L421,358.3 L422.2,358.3 L423.4,358.3 L424.6,358.3 L425.8,358.3 L427,358.3 L428.2,358.3 L429.4,358.3 L430.6,358.3 L431.8,358.2 L433,358.3 L434.2,358.4 L435.4,358.5 L436.6,358.7 L437.8,358.7 L439,358.1 L440.2,357.4 L441.4,357 L442.6,356.8 L443.8,356.5 L445,356.6 L446.2,356.3 L447.4,356 L448.6,355.5 L449.8,354.8 L451,354.6 L452.2,354.1 L453.4,353.5 L454.6,352.7 L455.8,352.3 L457,352.2 L458.2,352.5 L459.4,352.2 L460.6,351 L461.8,349.2 L463,347.1 L464.2,345.3 L465.4,343.5 L466.6,341.4 L467.8,342.3 L469,341.6 L470.2,341.2 L471.4,340.6 L472.6,339.3 L473.8,337.8 L475,336.9 L476.2,336.3 L477.4,335 L478.6,335.7 L479.8,335.2 L481,334.8 L482.2,333.6 L483.4,332.4 L484.6,332.9 L485.8,331.8 L487,329.5 L488.2,329.8 L489.4,329.1 L490.6,328.8 L491.8,329.1 L493,329 L494.2,327.6 L495.4,328.3 L496.6,327.7 L497.8,327 L499,325.2 L500.2,325.5 L501.4,325.8 L502.6,325.1 L503.8,324.2 L505,324.2 L506.2,323.5 L507.4,323.9 L508.6,323.7 L509.8,324.3 L511,326.1 L512.2,325.6 L513.4,326.6 L514.6,327.4 L515.8,326.8 L517,328.1 L518.2,327.3 L519.4,327.3 L520.6,328.3 L521.8,327.5 L523,326.7 L524.2,328 L525.4,328.2 L526.6,327.9 L527.8,327.9 L529,327.1 L530.2,326.4 L531.4,326.9 L532.6,327 L533.8,327.5 L535,328 L536.2,328 L537.4,328.4 L538.6,329.7 L539.8,329.7 L541,330.1 L542.2,329.5 L543.4,329.7 L544.6,331.1 L545.8,331 L547,330.1 L548.2,329.5 L549.4,328.4 L550.6,328 L551.8,327.9 L553,327.3 L554.2,328 L555.4,328.5 L556.6,327.7 L557.8,328.3 L559,328.8 L560.2,328 L561.4,327 L562.6,328.1 L563.8,327 L565,327.5 L566.2,327.5 L567.4,328.5 L568.6,328.2 L569.8,328 L571,328.6 L572.2,327.9 L573.4,328.4 L574.6,327.5 L575.8,328.1 L577,329.1 L578.2,329.2 L579.4,329 L580.6,327.7" fill="none" stroke="#800080" stroke-width="1.0" stroke-linejoin="round"/>
<circle cx="358.6" cy="358.8" r="2.4" fill="#800080"/>
<circle cx="372" cy="358.6" r="2.4" fill="#800080"/>
<circle cx="385.3" cy="358.5" r="2.4" fill="#800080"/>
<circle cx="398.7" cy="358.4" r="2.4" fill="#800080"/>
<circle cx="412" cy="358.3" r="2.4" fill="#800080"/>
<circle cx="425.4" cy="358.3" r="2.4" fill="#800080"/>
<circle cx="438.7" cy="358.2" r="2.4" fill="#800080"/>
<circle cx="452.1" cy="354.2" r="2.4" fill="#800080"/>
<circle cx="465.4" cy="343.4" r="2.4" fill="#800080"/>
<circle cx="478.8" cy="335.6" r="2.4" fill="#800080"/>
<circle cx="492.2" cy="329.1" r="2.4" fill="#800080"/>
<circle cx="505.5" cy="323.9" r="2.4" fill="#800080"/>
<circle cx="518.9" cy="327.3" r="2.4" fill="#800080"/>
<circle cx="532.2" cy="326.9" r="2.4" fill="#800080"/>
<circle cx="545.6" cy="331" r="2.4" fill="#800080"/>
<circle cx="558.9" cy="328.8" r="2.4" fill="#800080"/>
<circle cx="572.3" cy="327.9" r="2.4" fill="#800080"/>
<path d="M358.6,358.8 L359.8,358.8 L361,358.8 L362.2,358.8 L363.4,358.7 L364.6,358.7 L365.8,358.7 L367,358.7 L368.2,358.7 L369.4,358.7 L370.6,358.7 L371.8,358.7 L373,358.7 L374.2,358.7 L375.4,358.7 L376.6,358.7 L377.8,358.7 L379,358.7 L380.2,358.7 L381.4,358.7 L382.6,358.7 L383.8,358.7 L385,358.7 L386.2,358.7 L387.4,358.6 L388.6,358.6 L389.8,358.6 L391,358.6 L392.2,358.6 L393.4,358.6 L394.6,358.6 L395.8,358.6 L397,358.6 L398.2,358.6 L399.4,358.6 L400.6,358.6 L401.8,358.6 L403,358.6 L404.2,358.6 L405.4,358.6 L406.6,358.6 L407.8,358.6 L409,358.6 L410.2,358.6 L411.4,358.6 L412.6,358.5 L413.8,358.5 L415,358.5 L416.2,358.5 L417.4,358.5 L418.6,358.5 L419.8,358.5 L421,358.5 L422.2,358.5 L423.4,358.5 L424.6,358.5 L425.8,358.5 L427,358.5 L428.2,358.5 L429.4,358.5 L430.6,358.5 L431.8,358.5 L433,358.5 L434.2,358.5 L435.4,358.5 L436.6,358.5 L437.8,358.5 L439,358.4 L440.2,358.4 L441.4,358.5 L442.6,358.7 L443.8,358.7 L445,358.2 L446.2,357.8 L447.4,357.4 L448.6,357.2 L449.8,357 L451,356.8 L452.2,356.6 L453.4,356.2 L454.6,356.1 L455.8,356 L457,355.8 L458.2,355.8 L459.4,355.3 L460.6,355 L461.8,354.4 L463,353.2 L464.2,351.5 L465.4,350.4 L466.6,348.9 L467.8,348.5 L469,346.2 L470.2,346.1 L471.4,346.9 L472.6,346.1 L473.8,346.1 L475,345 L476.2,344.8 L477.4,344.5 L478.6,343.2 L479.8,343.9 L481,343.5 L482.2,342.2 L483.4,341.6 L484.6,341.2 L485.8,341.2 L487,340.5 L488.2,340.1 L489.4,339.5 L490.6,338.4 L491.8,337.7 L493,337.2 L494.2,337.3 L495.4,337.5 L496.6,336.4 L497.8,336.5 L499,336.7 L500.2,335.2 L501.4,335.8 L502.6,336 L503.8,335.7 L505,334.9 L506.2,335.5 L507.4,334.9 L508.6,334.8 L509.8,334.4 L511,334.5 L512.2,334 L513.4,334.2 L514.6,334.5 L515.8,334 L517,332.9 L518.2,333.5 L519.4,333.7 L520.6,333.6 L521.8,334.4 L523,334.3 L524.2,335.3 L525.4,335.2 L526.6,336.9 L527.8,335.4 L529,335.3 L530.2,336.2 L531.4,337 L532.6,336.5 L533.8,336.3 L535,336.1 L536.2,335.9 L537.4,335.3 L538.6,335.1 L539.8,335.3 L541,335.6 L542.2,336.2 L543.4,336.8 L544.6,336.7 L545.8,336.2 L547,336.8 L548.2,336.6 L549.4,337.8 L550.6,337.4 L551.8,339.4 L553,338.4 L554.2,337.8 L555.4,337.3 L556.6,337.7 L557.8,337.7 L559,337.2 L560.2,338.1 L561.4,337.7 L562.6,337.6 L563.8,338.2 L565,338.6 L566.2,338.4 L567.4,337.5 L568.6,337.3 L569.8,336 L571,338.1 L572.2,338.1 L573.4,337.4 L574.6,337.6 L575.8,338.1 L577,337.1 L578.2,337.8 L579.4,337 L580.6,338.8" fill="none" stroke="#800000" stroke-width="1.0" stroke-linejoin="round"/>
<polygon points="358.6,355.9 359.3,357.8 361.3,357.9 359.7,359.1 360.3,361.1 358.6,359.9 356.9,361.1 357.5,359.1 355.9,357.9 357.9,357.8" fill="#800000"/>
<polygon points="372,355.8 372.6,357.8 374.7,357.8 373,359.1 373.6,361 372,359.9 370.3,361 370.9,359.1 369.2,357.8 371.3,357.8" fill="#800000"/>
<polygon points="385.3,355.8 386,357.7 388,357.8 386.4,359 387,361 385.3,359.8 383.6,361 384.2,359 382.6,357.8 384.6,357.7" fill="#800000"/>
<polygon points="398.7,355.7 399.3,357.7 401.4,357.7 399.8,359 400.4,360.9 398.7,359.8 397,360.9 397.6,359 395.9,357.7 398,357.7" fill="#800000"/>
<polygon points="412,355.7 412.7,357.6 414.8,357.7 413.1,358.9 413.7,360.9 412,359.7 410.3,360.9 410.9,358.9 409.3,357.7 411.3,357.6" fill="#800000"/>
<polygon points="425.4,355.6 426.1,357.6 428.1,357.6 426.5,358.9 427.1,360.8 425.4,359.6 423.7,360.8 424.3,358.9 422.6,357.6 424.7,357.6" fill="#800000"/>
<polygon points="438.7,355.6 439.4,357.5 441.5,357.6 439.8,358.8 440.4,360.8 438.7,359.6 437,360.8 437.6,358.8 436,357.6 438.1,357.5" fill="#800000"/>
<polygon points="452.1,353.7 452.8,355.7 454.8,355.7 453.2,357 453.8,358.9 452.1,357.8 450.4,358.9 451,357 449.4,355.7 451.4,355.7" fill="#800000"/>
<polygon points="465.4,347.5 466.1,349.5 468.2,349.5 466.5,350.7 467.1,352.7 465.4,351.5 463.8,352.7 464.4,350.7 462.7,349.5 464.8,349.5" fill="#800000"/>
<polygon points="478.8,340.4 479.5,342.4 481.5,342.4 479.9,343.7 480.5,345.6 478.8,344.5 477.1,345.6 477.7,343.7 476.1,342.4 478.1,342.4" fill="#800000"/>
<polygon points="492.2,334.7 492.8,336.6 494.9,336.6 493.3,337.9 493.8,339.9 492.2,338.7 490.5,339.9 491.1,337.9 489.4,336.6 491.5,336.6" fill="#800000"/>
<polygon points="505.5,332.3 506.2,334.2 508.3,334.3 506.6,335.5 507.2,337.5 505.5,336.3 503.8,337.5 504.4,335.5 502.8,334.3 504.8,334.2" fill="#800000"/>
<polygon points="518.9,330.7 519.5,332.7 521.6,332.7 520,333.9 520.6,335.9 518.9,334.7 517.2,335.9 517.8,333.9 516.1,332.7 518.2,332.7" fill="#800000"/>
<polygon points="532.2,333.8 532.9,335.7 535,335.7 533.3,337 533.9,339 532.2,337.8 530.5,339 531.1,337 529.5,335.7 531.6,335.7" fill="#800000"/>
<polygon points="545.6,333.4 546.3,335.4 548.3,335.4 546.7,336.6 547.3,338.6 545.6,337.4 543.9,338.6 544.5,336.6 542.8,335.4 544.9,335.4" fill="#800000"/>
<polygon points="558.9,334.4 559.6,336.3 561.7,336.4 560,337.6 560.6,339.6 558.9,338.4 557.3,339.6 557.8,337.6 556.2,336.4 558.3,336.3" fill="#800000"/>
<polygon points="572.3,335.2 573,337.1 575,337.2 573.4,338.4 574,340.4 572.3,339.2 570.6,340.4 571.2,338.4 569.6,337.2 571.6,337.1" fill="#800000"/>
<line x1="393.7" y1="217.1" x2="393.7" y2="379.1" stroke="#1a1a1a" stroke-width="1.0"/>
<line x1="445.9" y1="217.1" x2="445.9" y2="379.1" stroke="#1a1a1a" stroke-width="1.0"/>
<line x1="505.7" y1="217.1" x2="505.7" y2="379.1" stroke="#1a1a1a" stroke-width="1.0"/>
<line x1="358.6" y1="234.4" x2="581.2" y2="234.4" stroke="#333" stroke-width="0.9"/>
<polygon points="359.2,234.4 362.8,232.7 362.8,236.1" fill="#111"/>
<polygon points="393.1,234.4 389.5,232.7 389.5,236.1" fill="#111"/>
<text x="377.2" y="232.6" class="ph">(1)</text>
<polygon points="394.3,234.4 397.9,232.7 397.9,236.1" fill="#111"/>
<polygon points="445.3,234.4 441.7,232.7 441.7,236.1" fill="#111"/>
<text x="421.7" y="232.6" class="ph">(2)</text>
<polygon points="446.5,234.4 450.1,232.7 450.1,236.1" fill="#111"/>
<polygon points="505.1,234.4 501.5,232.7 501.5,236.1" fill="#111"/>
<text x="476.7" y="232.6" class="ph">(3)</text>
<polygon points="506.3,234.4 509.9,232.7 509.9,236.1" fill="#111"/>
<polygon points="580.6,234.4 577,232.7 577,236.1" fill="#111"/>
<text x="542" y="232.6" class="ph">(4)</text>
<circle cx="393.7" cy="358.8" r="4.4" fill="none" stroke="#000" stroke-width="0.95"/>
<circle cx="445.9" cy="358.8" r="4.4" fill="none" stroke="#000" stroke-width="0.95"/>
<circle cx="505.7" cy="335.3" r="4.4" fill="none" stroke="#000" stroke-width="0.95"/>
<text x="397.9" y="368.2" class="tl">t<tspan class="sub" dy="2.6">1</tspan></text>
<text x="452.3" y="367.5" class="tl">t<tspan class="sub" dy="2.6">2</tspan></text>
<text x="511.4" y="347.4" class="tl">t<tspan class="sub" dy="2.6">3</tspan></text>
<rect x="364.9" y="249.4" width="47.7" height="77.1" fill="#fff" stroke="#222" stroke-width="0.9"/>
<line x1="368.6" y1="256.2" x2="383.6" y2="256.2" stroke="#000000" stroke-width="0.75"/>
<rect x="373.7" y="253.8" width="4.8" height="4.8" fill="#000000"/>
<text x="386.1" y="258.6" class="lg" style="font-size:6.55px">Floor 2</text>
<line x1="368.6" y1="264.6" x2="383.6" y2="264.6" stroke="#ff0000" stroke-width="0.75"/>
<circle cx="376.1" cy="264.6" r="2.5" fill="#ff0000"/>
<text x="386.1" y="266.9" class="lg" style="font-size:6.55px">Floor 4</text>
<line x1="368.6" y1="272.9" x2="383.6" y2="272.9" stroke="#0000ff" stroke-width="0.75"/>
<polygon points="376.1,270.1 373.5,274.9 378.7,274.9" fill="#0000ff"/>
<text x="386.1" y="275.2" class="lg" style="font-size:6.55px">Floor 6</text>
<line x1="368.6" y1="281.2" x2="383.6" y2="281.2" stroke="#ff00ff" stroke-width="0.75"/>
<polygon points="376.1,283.9 373.5,279.1 378.7,279.1" fill="#ff00ff"/>
<text x="386.1" y="283.5" class="lg" style="font-size:6.55px">Floor 8</text>
<line x1="368.6" y1="289.5" x2="383.6" y2="289.5" stroke="#008000" stroke-width="0.75"/>
<polygon points="376.1,286.6 379,289.5 376.1,292.4 373.2,289.5" fill="#008000"/>
<text x="386.1" y="291.8" class="lg" style="font-size:6.55px">Floor 10</text>
<line x1="368.6" y1="297.8" x2="383.6" y2="297.8" stroke="#000080" stroke-width="0.75"/>
<polygon points="373.3,297.8 378.1,295.2 378.1,300.4" fill="#000080"/>
<text x="386.1" y="300.2" class="lg" style="font-size:6.55px">Floor 12</text>
<line x1="368.6" y1="306.1" x2="383.6" y2="306.1" stroke="#8000ff" stroke-width="0.75"/>
<polygon points="378.9,306.1 374.1,303.5 374.1,308.8" fill="#8000ff"/>
<text x="386.1" y="308.5" class="lg" style="font-size:6.55px">Floor 14</text>
<line x1="368.6" y1="314.4" x2="383.6" y2="314.4" stroke="#800080" stroke-width="0.75"/>
<circle cx="376.1" cy="314.4" r="2.5" fill="#800080"/>
<text x="386.1" y="316.8" class="lg" style="font-size:6.55px">Floor 16</text>
<line x1="368.6" y1="322.7" x2="383.6" y2="322.7" stroke="#800000" stroke-width="0.75"/>
<polygon points="376.1,319.7 376.8,321.8 379,321.8 377.2,323.1 377.9,325.2 376.1,323.9 374.3,325.2 375,323.1 373.2,321.8 375.4,321.8" fill="#800000"/>
<text x="386.1" y="325.1" class="lg" style="font-size:6.55px">Floor 18</text>
<rect x="358.6" y="217.1" width="222.6" height="162" fill="none" stroke="#000" stroke-width="1.2"/>
<text x="358.6" y="389.7" class="tk" style="font-size:8.8px" text-anchor="middle">0</text>
<text x="403.1" y="389.7" class="tk" style="font-size:8.8px" text-anchor="middle">200</text>
<text x="447.6" y="389.7" class="tk" style="font-size:8.8px" text-anchor="middle">400</text>
<text x="492.2" y="389.7" class="tk" style="font-size:8.8px" text-anchor="middle">600</text>
<text x="536.7" y="389.7" class="tk" style="font-size:8.8px" text-anchor="middle">800</text>
<text x="581.2" y="389.7" class="tk" style="font-size:8.8px" text-anchor="middle">1000</text>
<text x="354.8" y="382.3" class="tk" style="font-size:8.8px" text-anchor="end">10</text>
<text x="354.8" y="362" class="tk" style="font-size:8.8px" text-anchor="end">20</text>
<text x="354.8" y="341.8" class="tk" style="font-size:8.8px" text-anchor="end">30</text>
<text x="354.8" y="321.5" class="tk" style="font-size:8.8px" text-anchor="end">40</text>
<text x="354.8" y="301.3" class="tk" style="font-size:8.8px" text-anchor="end">50</text>
<text x="354.8" y="281" class="tk" style="font-size:8.8px" text-anchor="end">60</text>
<text x="354.8" y="260.8" class="tk" style="font-size:8.8px" text-anchor="end">70</text>
<text x="354.8" y="240.5" class="tk" style="font-size:8.8px" text-anchor="end">80</text>
<text x="354.8" y="220.3" class="tk" style="font-size:8.8px" text-anchor="end">90</text>
<path d="M358.6,379.1v-3.2M358.6,217.1v3.2M380.9,379.1v-2M380.9,217.1v2M403.1,379.1v-3.2M403.1,217.1v3.2M425.4,379.1v-2M425.4,217.1v2M447.6,379.1v-3.2M447.6,217.1v3.2M469.9,379.1v-2M469.9,217.1v2M492.2,379.1v-3.2M492.2,217.1v3.2M514.4,379.1v-2M514.4,217.1v2M536.7,379.1v-3.2M536.7,217.1v3.2M558.9,379.1v-2M558.9,217.1v2M581.2,379.1v-3.2M581.2,217.1v3.2M358.6,379.1h3.2M581.2,379.1h-3.2M358.6,369h2M581.2,369h-2M358.6,358.9h3.2M581.2,358.9h-3.2M358.6,348.7h2M581.2,348.7h-2M358.6,338.6h3.2M581.2,338.6h-3.2M358.6,328.5h2M581.2,328.5h-2M358.6,318.4h3.2M581.2,318.4h-3.2M358.6,308.2h2M581.2,308.2h-2M358.6,298.1h3.2M581.2,298.1h-3.2M358.6,288h2M581.2,288h-2M358.6,277.9h3.2M581.2,277.9h-3.2M358.6,267.7h2M581.2,267.7h-2M358.6,257.6h3.2M581.2,257.6h-3.2M358.6,247.5h2M581.2,247.5h-2M358.6,237.3h3.2M581.2,237.3h-3.2M358.6,227.2h2M581.2,227.2h-2M358.6,217.1h3.2M581.2,217.1h-3.2" stroke="#000" stroke-width="1" fill="none"/>
<text x="470.7" y="406" class="ax" style="font-size:10.3px" text-anchor="middle">Time (s)</text>
<text transform="translate(333.2,300.9) rotate(-90)" class="ax" style="font-size:10.3px" text-anchor="middle">Gas Temperature in the shaft (°C)</text>
<text x="296.6" y="219.2" class="pl">(d)</text>
<path d="M58.5,549.7 L59.7,549.7 L60.9,549.7 L62.1,549.7 L63.3,549.7 L64.5,549.7 L65.7,549.7 L66.9,549.7 L68.1,549.7 L69.3,549.7 L70.5,549.7 L71.7,549.7 L72.9,549.7 L74.1,549.7 L75.3,549.7 L76.5,549.7 L77.7,549.7 L78.9,549.7 L80.1,549.7 L81.3,549.7 L82.5,549.7 L83.7,549.7 L84.9,549.7 L86.1,549.7 L87.3,549.7 L88.5,549.7 L89.7,549.7 L90.9,549.7 L92.1,549.7 L93.3,549.7 L94.5,549.7 L95.7,549.7 L96.9,549.7 L98.1,549.5 L99.3,546 L100.5,541.3 L101.7,535.1 L102.9,532.5 L104.1,531.9 L105.3,528.1 L106.5,528.3 L107.7,527.4 L108.9,526 L110.1,530 L111.3,533.4 L112.5,531.9 L113.7,528.4 L114.9,523 L116.1,517.3 L117.3,518.3 L118.5,518.7 L119.7,514.6 L120.9,509.9 L122.1,507.5 L123.3,512.5 L124.5,515.4 L125.7,512.9 L126.9,504.4 L128.1,500.6 L129.3,496.6 L130.5,495.9 L131.7,500.4 L132.9,503 L134.1,499.1 L135.3,499.3 L136.5,495.5 L137.7,501.1 L138.9,499.3 L140.1,492.6 L141.3,487.6 L142.5,488.1 L143.7,487.5 L144.8,477.4 L146,488.3 L147.2,487.3 L148.4,475.8 L149.6,476.7 L150.8,468.9 L152,474.2 L153.2,476.7 L154.4,465.3 L155.6,474.4 L156.8,470.3 L158,470.9 L159.2,472.6 L160.4,460.7 L161.6,462.7 L162.8,460.5 L164,458.2 L165.2,469.5 L166.4,469.4 L167.6,472.2 L168.8,476.2 L170,476.9 L171.2,461.9 L172.4,465.3 L173.6,467.6 L174.8,461 L176,461.6 L177.2,463.8 L178.4,474.1 L179.6,468.6 L180.8,460.6 L182,467.7 L183.2,464.7 L184.4,454.8 L185.6,469 L186.8,469.3 L188,461.8 L189.2,457.8 L190.4,453.2 L191.6,452.6 L192.8,456.6 L194,463.7 L195.2,471.7 L196.4,458.1 L197.6,453.2 L198.8,455.6 L200,461.3 L201.2,466.1 L202.4,466.2 L203.6,472.6 L204.8,484.6 L206,474.4 L207.2,468.8 L208.4,471.8 L209.6,465.8 L210.8,456.6 L212,459.2 L213.2,464.8 L214.4,461.1 L215.6,465.7 L216.8,460.8 L218,454.6 L219.2,461.6 L220.4,465.9 L221.6,460.5 L222.8,459.2 L224,468.1 L225.2,471.4 L226.4,464.9 L227.6,457.1 L228.8,459.2 L230,461.7 L231.2,461.8 L232.4,466.2 L233.6,468.8 L234.8,462.1 L236,463.4 L237.2,465.2 L238.4,464.8 L239.6,465.1 L240.8,463.6 L242,465 L243.2,459.5 L244.4,461.6 L245.6,465.4 L246.8,461.8 L248,462.9 L249.2,456.3 L250.4,451.2 L251.6,461.9 L252.8,464.3 L254,461.6 L255.2,459.4 L256.4,457.7 L257.6,461.2 L258.8,451.1 L260,463.4 L261.2,463.8 L262.4,451.5 L263.6,466.7 L264.8,456.8 L266,457.6 L267.2,459.7 L268.4,464.7 L269.6,458.8 L270.8,456.4 L272,452.6 L273.2,452.9 L274.4,457.1 L275.6,449 L276.8,454.7 L278,455.1 L279.2,458.2 L280.4,455" fill="none" stroke="#000000" stroke-width="1.0" stroke-linejoin="round"/>
<rect x="56.2" y="547.4" width="4.6" height="4.6" fill="#000000"/>
<rect x="69.5" y="547.4" width="4.6" height="4.6" fill="#000000"/>
<rect x="82.8" y="547.4" width="4.6" height="4.6" fill="#000000"/>
<rect x="96.2" y="545.9" width="4.6" height="4.6" fill="#000000"/>
<rect x="109.5" y="530.4" width="4.6" height="4.6" fill="#000000"/>
<rect x="122.9" y="511.6" width="4.6" height="4.6" fill="#000000"/>
<rect x="136.2" y="497.5" width="4.6" height="4.6" fill="#000000"/>
<rect x="149.6" y="471.2" width="4.6" height="4.6" fill="#000000"/>
<rect x="162.9" y="467" width="4.6" height="4.6" fill="#000000"/>
<rect x="176.3" y="471.2" width="4.6" height="4.6" fill="#000000"/>
<rect x="189.6" y="451.2" width="4.6" height="4.6" fill="#000000"/>
<rect x="203" y="478.8" width="4.6" height="4.6" fill="#000000"/>
<rect x="216.3" y="455.6" width="4.6" height="4.6" fill="#000000"/>
<rect x="229.7" y="462.1" width="4.6" height="4.6" fill="#000000"/>
<rect x="243" y="462.1" width="4.6" height="4.6" fill="#000000"/>
<rect x="256.4" y="450.5" width="4.6" height="4.6" fill="#000000"/>
<rect x="269.7" y="450.4" width="4.6" height="4.6" fill="#000000"/>
<path d="M58.5,549.7 L59.7,549.6 L60.9,549.6 L62.1,549.6 L63.3,549.6 L64.5,549.6 L65.7,549.6 L66.9,549.6 L68.1,549.6 L69.3,549.6 L70.5,549.6 L71.7,549.5 L72.9,549.5 L74.1,549.5 L75.3,549.5 L76.5,549.5 L77.7,549.5 L78.9,549.5 L80.1,549.5 L81.3,549.5 L82.5,549.4 L83.7,549.4 L84.9,549.4 L86.1,549.4 L87.3,549.4 L88.5,549.4 L89.7,549.4 L90.9,549.4 L92.1,549.4 L93.3,549.4 L94.5,549.3 L95.7,549.3 L96.9,549.3 L98.1,549.3 L99.3,549.3 L100.5,549.3 L101.7,549.3 L102.9,549.2 L104.1,548.3 L105.3,547.5 L106.5,546.8 L107.7,545.4 L108.9,543.6 L110.1,543.2 L111.3,540.8 L112.5,541.3 L113.7,540.6 L114.9,540.3 L116.1,540.8 L117.3,540.3 L118.5,539.1 L119.7,538.3 L120.9,536.3 L122.1,535.4 L123.3,535.7 L124.5,535.8 L125.7,535 L126.9,529.6 L128.1,527.3 L129.3,525.1 L130.5,526.2 L131.7,519.9 L132.9,522.8 L134.1,523.7 L135.3,523.9 L136.5,521.5 L137.7,518.9 L138.9,515.5 L140.1,517.2 L141.3,516.5 L142.5,517.9 L143.7,513.7 L144.8,515 L146,515.2 L147.2,509.9 L148.4,509.7 L149.6,511 L150.8,511.6 L152,505.6 L153.2,501.6 L154.4,502.7 L155.6,505.9 L156.8,509.2 L158,510.5 L159.2,505.4 L160.4,507.1 L161.6,508.5 L162.8,507.3 L164,501.5 L165.2,497.5 L166.4,496.3 L167.6,496.6 L168.8,498.3 L170,498.6 L171.2,501 L172.4,498.6 L173.6,496.5 L174.8,499.6 L176,497.8 L177.2,496.3 L178.4,497.1 L179.6,498.7 L180.8,499 L182,498 L183.2,497.4 L184.4,494.8 L185.6,496.7 L186.8,499.9 L188,495.4 L189.2,493.8 L190.4,496.4 L191.6,499.2 L192.8,496.2 L194,497.2 L195.2,497.6 L196.4,498.3 L197.6,498.4 L198.8,497.1 L200,498.5 L201.2,496.9 L202.4,493.7 L203.6,497.7 L204.8,498.4 L206,498.5 L207.2,498.6 L208.4,495.9 L209.6,498.5 L210.8,498.5 L212,501.7 L213.2,499.7 L214.4,503.2 L215.6,505.3 L216.8,503.8 L218,502.5 L219.2,505.6 L220.4,507.3 L221.6,510.1 L222.8,511.2 L224,506.6 L225.2,505.3 L226.4,502.8 L227.6,499.9 L228.8,501.2 L230,498.2 L231.2,500.3 L232.4,496 L233.6,496.5 L234.8,496 L236,495.2 L237.2,496.7 L238.4,495.9 L239.6,492.7 L240.8,498.2 L242,496.6 L243.2,496.1 L244.4,494.4 L245.6,498.9 L246.8,500.4 L248,494.5 L249.2,494.5 L250.4,496.8 L251.6,498.5 L252.8,498.4 L254,495.5 L255.2,494.3 L256.4,496.9 L257.6,495.6 L258.8,494.1 L260,495.4 L261.2,496.2 L262.4,495.7 L263.6,497.5 L264.8,501.1 L266,498 L267.2,498.7 L268.4,495.6 L269.6,498.4 L270.8,497.5 L272,495.1 L273.2,498.7 L274.4,499.8 L275.6,500.1 L276.8,497.1 L278,495.4 L279.2,492.9 L280.4,495.1" fill="none" stroke="#ff0000" stroke-width="1.0" stroke-linejoin="round"/>
<circle cx="58.5" cy="549.7" r="2.4" fill="#ff0000"/>
<circle cx="71.8" cy="549.5" r="2.4" fill="#ff0000"/>
<circle cx="85.1" cy="549.4" r="2.4" fill="#ff0000"/>
<circle cx="98.5" cy="549.3" r="2.4" fill="#ff0000"/>
<circle cx="111.8" cy="541.1" r="2.4" fill="#ff0000"/>
<circle cx="125.2" cy="535.3" r="2.4" fill="#ff0000"/>
<circle cx="138.5" cy="516.4" r="2.4" fill="#ff0000"/>
<circle cx="151.9" cy="506.5" r="2.4" fill="#ff0000"/>
<circle cx="165.2" cy="497.6" r="2.4" fill="#ff0000"/>
<circle cx="178.6" cy="497.3" r="2.4" fill="#ff0000"/>
<circle cx="191.9" cy="498.5" r="2.4" fill="#ff0000"/>
<circle cx="205.3" cy="498.4" r="2.4" fill="#ff0000"/>
<circle cx="218.6" cy="504" r="2.4" fill="#ff0000"/>
<circle cx="232" cy="497.7" r="2.4" fill="#ff0000"/>
<circle cx="245.3" cy="497.6" r="2.4" fill="#ff0000"/>
<circle cx="258.7" cy="494.4" r="2.4" fill="#ff0000"/>
<circle cx="272" cy="495.2" r="2.4" fill="#ff0000"/>
<path d="M58.5,549.7 L59.7,549.6 L60.9,549.6 L62.1,549.6 L63.3,549.6 L64.5,549.6 L65.7,549.6 L66.9,549.6 L68.1,549.6 L69.3,549.6 L70.5,549.6 L71.7,549.6 L72.9,549.5 L74.1,549.5 L75.3,549.5 L76.5,549.5 L77.7,549.5 L78.9,549.5 L80.1,549.5 L81.3,549.5 L82.5,549.5 L83.7,549.5 L84.9,549.5 L86.1,549.4 L87.3,549.4 L88.5,549.4 L89.7,549.4 L90.9,549.4 L92.1,549.4 L93.3,549.4 L94.5,549.4 L95.7,549.4 L96.9,549.4 L98.1,549.4 L99.3,549.3 L100.5,549.3 L101.7,549.3 L102.9,549.3 L104.1,549.3 L105.3,549.3 L106.5,549.3 L107.7,549.3 L108.9,549.2 L110.1,548.5 L111.3,547.9 L112.5,547.5 L113.7,546.3 L114.9,545.3 L116.1,544.9 L117.3,543.3 L118.5,542.8 L119.7,540.9 L120.9,539.1 L122.1,538.8 L123.3,537.9 L124.5,535 L125.7,535.1 L126.9,535.2 L128.1,535.2 L129.3,534.4 L130.5,531.5 L131.7,533.4 L132.9,532.9 L134.1,530.5 L135.3,529.3 L136.5,529.6 L137.7,527.6 L138.9,524.6 L140.1,523.6 L141.3,523.7 L142.5,519.6 L143.7,518.3 L144.8,518.7 L146,518 L147.2,516.5 L148.4,515.1 L149.6,516.8 L150.8,517.1 L152,513.2 L153.2,515.4 L154.4,512.7 L155.6,511.2 L156.8,508.7 L158,507.3 L159.2,507 L160.4,507 L161.6,509.4 L162.8,507.6 L164,507.6 L165.2,508.6 L166.4,504.2 L167.6,505.9 L168.8,502.8 L170,504.3 L171.2,505.1 L172.4,508.8 L173.6,505.6 L174.8,504.4 L176,501.7 L177.2,503.5 L178.4,503.9 L179.6,501.6 L180.8,503.9 L182,505.5 L183.2,503.6 L184.4,501.8 L185.6,501 L186.8,503 L188,499.4 L189.2,499 L190.4,502.9 L191.6,501.2 L192.8,502.5 L194,506 L195.2,505.1 L196.4,501.5 L197.6,501 L198.8,502.9 L200,502 L201.2,501.7 L202.4,501.2 L203.6,501.5 L204.8,501.8 L206,505 L207.2,504.3 L208.4,508 L209.6,509.2 L210.8,507.1 L212,507 L213.2,505.6 L214.4,506.6 L215.6,509.7 L216.8,506.3 L218,509.7 L219.2,509.3 L220.4,511 L221.6,511 L222.8,513.3 L224,511.5 L225.2,513.2 L226.4,509.5 L227.6,505.6 L228.8,502.1 L230,501.8 L231.2,501.3 L232.4,502.6 L233.6,506.4 L234.8,505.2 L236,504.9 L237.2,505 L238.4,504.5 L239.6,504 L240.8,502.8 L242,505 L243.2,504.5 L244.4,506.2 L245.6,505.4 L246.8,506 L248,506.4 L249.2,507.9 L250.4,503.7 L251.6,507.8 L252.8,505.3 L254,503.5 L255.2,505.2 L256.4,507.6 L257.6,506.3 L258.8,502.8 L260,504 L261.2,507 L262.4,505.4 L263.6,506.7 L264.8,501.6 L266,504.3 L267.2,504.6 L268.4,511 L269.6,508 L270.8,508.7 L272,509.4 L273.2,508 L274.4,508.3 L275.6,508.8 L276.8,509.6 L278,509 L279.2,509.3 L280.4,508" fill="none" stroke="#0000ff" stroke-width="1.0" stroke-linejoin="round"/>
<polygon points="58.5,547 55.9,551.6 61,551.6" fill="#0000ff"/>
<polygon points="71.8,546.9 69.3,551.5 74.3,551.5" fill="#0000ff"/>
<polygon points="85.1,546.8 82.6,551.4 87.7,551.4" fill="#0000ff"/>
<polygon points="98.5,546.7 96,551.3 101,551.3" fill="#0000ff"/>
<polygon points="111.8,545 109.3,549.6 114.4,549.6" fill="#0000ff"/>
<polygon points="125.2,532.4 122.7,537 127.7,537" fill="#0000ff"/>
<polygon points="138.5,522.8 136,527.4 141.1,527.4" fill="#0000ff"/>
<polygon points="151.9,511.2 149.3,515.8 154.4,515.8" fill="#0000ff"/>
<polygon points="165.2,506 162.7,510.6 167.8,510.6" fill="#0000ff"/>
<polygon points="178.6,501 176,505.6 181.1,505.6" fill="#0000ff"/>
<polygon points="191.9,498.8 189.4,503.4 194.5,503.4" fill="#0000ff"/>
<polygon points="205.3,500.3 202.7,504.9 207.8,504.9" fill="#0000ff"/>
<polygon points="218.6,506.9 216.1,511.5 221.1,511.5" fill="#0000ff"/>
<polygon points="232,499.4 229.4,504 234.5,504" fill="#0000ff"/>
<polygon points="245.3,503 242.8,507.6 247.8,507.6" fill="#0000ff"/>
<polygon points="258.7,500.8 256.1,505.4 261.2,505.4" fill="#0000ff"/>
<polygon points="272,506.7 269.5,511.3 274.5,511.3" fill="#0000ff"/>
<path d="M58.5,549.7 L59.7,549.7 L60.9,549.7 L62.1,549.7 L63.3,549.7 L64.5,549.7 L65.7,549.7 L66.9,549.7 L68.1,549.7 L69.3,549.7 L70.5,549.7 L71.7,549.7 L72.9,549.7 L74.1,549.7 L75.3,549.7 L76.5,549.7 L77.7,549.7 L78.9,549.7 L80.1,549.7 L81.3,549.7 L82.5,549.7 L83.7,549.7 L84.9,549.7 L86.1,549.7 L87.3,549.7 L88.5,549.7 L89.7,549.7 L90.9,549.7 L92.1,549.7 L93.3,549.7 L94.5,549.7 L95.7,549.7 L96.9,549.7 L98.1,549.7 L99.3,549.7 L100.5,549.7 L101.7,549.7 L102.9,549.7 L104.1,549.7 L105.3,549.7 L106.5,549.7 L107.7,549.7 L108.9,549.7 L110.1,549.7 L111.3,549.7 L112.5,549.7 L113.7,549.7 L114.9,549.3 L116.1,549.5 L117.3,549.7 L118.5,548.5 L119.7,547.2 L120.9,545.7 L122.1,544.5 L123.3,543.1 L124.5,542.4 L125.7,542.1 L126.9,540.6 L128.1,539.4 L129.3,540.3 L130.5,540.2 L131.7,536.4 L132.9,538 L134.1,538.4 L135.3,536.5 L136.5,536.8 L137.7,535.9 L138.9,535 L140.1,536 L141.3,535.1 L142.5,530.5 L143.7,531 L144.8,526.5 L146,524.5 L147.2,521.3 L148.4,521.1 L149.6,518.2 L150.8,520.4 L152,520.4 L153.2,520.2 L154.4,517.7 L155.6,517.2 L156.8,515.6 L158,515.8 L159.2,512.8 L160.4,508.9 L161.6,508.5 L162.8,510.1 L164,509.5 L165.2,513.6 L166.4,516.7 L167.6,518.3 L168.8,517.1 L170,518.6 L171.2,519 L172.4,515.8 L173.6,515.9 L174.8,514 L176,512.6 L177.2,515.4 L178.4,514 L179.6,514 L180.8,513.1 L182,511.5 L183.2,511.1 L184.4,510.3 L185.6,512.2 L186.8,512.3 L188,508.9 L189.2,509.8 L190.4,507.2 L191.6,508.1 L192.8,507 L194,508.6 L195.2,509 L196.4,508.5 L197.6,510.2 L198.8,509.8 L200,511.5 L201.2,512.2 L202.4,509.7 L203.6,510.6 L204.8,512 L206,511.8 L207.2,512.7 L208.4,511.9 L209.6,513.4 L210.8,511.8 L212,510.8 L213.2,511.7 L214.4,511.8 L215.6,512.4 L216.8,512.5 L218,511.7 L219.2,513.7 L220.4,515.2 L221.6,514.2 L222.8,514.9 L224,516 L225.2,513.7 L226.4,511.4 L227.6,512 L228.8,510.4 L230,512.9 L231.2,512.8 L232.4,512.2 L233.6,510.1 L234.8,510.5 L236,510.3 L237.2,511.9 L238.4,510.3 L239.6,509.8 L240.8,513.1 L242,513.2 L243.2,511.5 L244.4,511.8 L245.6,511.1 L246.8,510.6 L248,512 L249.2,509.9 L250.4,510.6 L251.6,510.4 L252.8,512.5 L254,511.1 L255.2,509.9 L256.4,510.7 L257.6,509.6 L258.8,509.7 L260,510.5 L261.2,512.6 L262.4,511.6 L263.6,510.6 L264.8,512.7 L266,513.9 L267.2,511.9 L268.4,512.5 L269.6,511.4 L270.8,511.4 L272,511.6 L273.2,511.1 L274.4,509.7 L275.6,511.2 L276.8,510.8 L278,510.4 L279.2,507.7 L280.4,510.1" fill="none" stroke="#ff00ff" stroke-width="1.0" stroke-linejoin="round"/>
<polygon points="58.5,552.3 55.9,547.7 61,547.7" fill="#ff00ff"/>
<polygon points="71.8,552.3 69.3,547.7 74.3,547.7" fill="#ff00ff"/>
<polygon points="85.1,552.3 82.6,547.7 87.7,547.7" fill="#ff00ff"/>
<polygon points="98.5,552.3 96,547.7 101,547.7" fill="#ff00ff"/>
<polygon points="111.8,552.3 109.3,547.7 114.4,547.7" fill="#ff00ff"/>
<polygon points="125.2,544.8 122.7,540.2 127.7,540.2" fill="#ff00ff"/>
<polygon points="138.5,537.9 136,533.3 141.1,533.3" fill="#ff00ff"/>
<polygon points="151.9,523 149.3,518.4 154.4,518.4" fill="#ff00ff"/>
<polygon points="165.2,516.1 162.7,511.5 167.8,511.5" fill="#ff00ff"/>
<polygon points="178.6,516.7 176,512.1 181.1,512.1" fill="#ff00ff"/>
<polygon points="191.9,510.5 189.4,505.9 194.5,505.9" fill="#ff00ff"/>
<polygon points="205.3,514.6 202.7,510 207.8,510" fill="#ff00ff"/>
<polygon points="218.6,515.3 216.1,510.7 221.1,510.7" fill="#ff00ff"/>
<polygon points="232,515.1 229.4,510.5 234.5,510.5" fill="#ff00ff"/>
<polygon points="245.3,513.9 242.8,509.3 247.8,509.3" fill="#ff00ff"/>
<polygon points="258.7,512.3 256.1,507.7 261.2,507.7" fill="#ff00ff"/>
<polygon points="272,514.2 269.5,509.6 274.5,509.6" fill="#ff00ff"/>
<path d="M58.5,549.7 L59.7,549.7 L60.9,549.7 L62.1,549.7 L63.3,549.7 L64.5,549.7 L65.7,549.7 L66.9,549.7 L68.1,549.7 L69.3,549.7 L70.5,549.7 L71.7,549.7 L72.9,549.7 L74.1,549.7 L75.3,549.7 L76.5,549.7 L77.7,549.7 L78.9,549.7 L80.1,549.7 L81.3,549.7 L82.5,549.7 L83.7,549.7 L84.9,549.7 L86.1,549.7 L87.3,549.7 L88.5,549.7 L89.7,549.7 L90.9,549.7 L92.1,549.7 L93.3,549.7 L94.5,549.7 L95.7,549.7 L96.9,549.7 L98.1,549.7 L99.3,549.7 L100.5,549.7 L101.7,549.7 L102.9,549.7 L104.1,549.7 L105.3,549.7 L106.5,549.7 L107.7,549.7 L108.9,549.7 L110.1,549.7 L111.3,549.7 L112.5,549.7 L113.7,549.7 L114.9,549.7 L116.1,549.7 L117.3,549.7 L118.5,549.7 L119.7,549.6 L120.9,549.3 L122.1,549.5 L123.3,549.6 L124.5,548.7 L125.7,547.7 L126.9,547.2 L128.1,546.6 L129.3,546.3 L130.5,546.1 L131.7,546 L132.9,545.5 L134.1,544 L135.3,543.1 L136.5,542.4 L137.7,541.4 L138.9,542.5 L140.1,541.3 L141.3,540.9 L142.5,539.7 L143.7,537.8 L144.8,535.7 L146,534.4 L147.2,535 L148.4,533.3 L149.6,532.4 L150.8,532.1 L152,531.2 L153.2,530.8 L154.4,528 L155.6,529 L156.8,529.9 L158,529.6 L159.2,527.8 L160.4,526 L161.6,525.5 L162.8,526.2 L164,526.3 L165.2,523.2 L166.4,525.3 L167.6,523.8 L168.8,526.9 L170,523.2 L171.2,522.9 L172.4,520.9 L173.6,515.9 L174.8,518 L176,515.6 L177.2,518.8 L178.4,516.4 L179.6,515.2 L180.8,516.4 L182,515.5 L183.2,515.1 L184.4,513.9 L185.6,512.9 L186.8,513 L188,512.7 L189.2,512.6 L190.4,514 L191.6,514.9 L192.8,513.4 L194,511.8 L195.2,515.6 L196.4,512.8 L197.6,511 L198.8,510.7 L200,509 L201.2,507.9 L202.4,510.9 L203.6,510.4 L204.8,509.2 L206,509.8 L207.2,511 L208.4,512.2 L209.6,512.5 L210.8,513.8 L212,514.2 L213.2,513.6 L214.4,512.5 L215.6,512.6 L216.8,513.5 L218,516.4 L219.2,516.8 L220.4,516.6 L221.6,515.1 L222.8,515.5 L224,516.1 L225.2,515.4 L226.4,517.2 L227.6,516.6 L228.8,517.7 L230,517.4 L231.2,516.6 L232.4,516 L233.6,513.5 L234.8,516.1 L236,515.5 L237.2,517.3 L238.4,518.6 L239.6,516.5 L240.8,517.6 L242,516.7 L243.2,516.1 L244.4,516.2 L245.6,513.8 L246.8,513.9 L248,518.4 L249.2,515.8 L250.4,513.4 L251.6,513.5 L252.8,515 L254,515.2 L255.2,512.7 L256.4,512.7 L257.6,512.4 L258.8,513.7 L260,513.1 L261.2,515 L262.4,516.4 L263.6,516.7 L264.8,516.4 L266,516.9 L267.2,515.8 L268.4,514.8 L269.6,516.5 L270.8,515.5 L272,516.1 L273.2,514.4 L274.4,513.4 L275.6,515.2 L276.8,515.3 L278,514.8 L279.2,513.5 L280.4,513.8" fill="none" stroke="#008000" stroke-width="1.0" stroke-linejoin="round"/>
<polygon points="58.5,546.9 61.2,549.7 58.5,552.4 55.7,549.7" fill="#008000"/>
<polygon points="71.8,546.9 74.6,549.7 71.8,552.4 69,549.7" fill="#008000"/>
<polygon points="85.1,546.9 87.9,549.7 85.1,552.4 82.4,549.7" fill="#008000"/>
<polygon points="98.5,546.9 101.3,549.7 98.5,552.4 95.7,549.7" fill="#008000"/>
<polygon points="111.8,546.9 114.6,549.7 111.8,552.4 109.1,549.7" fill="#008000"/>
<polygon points="125.2,545.3 127.9,548.1 125.2,550.9 122.4,548.1" fill="#008000"/>
<polygon points="138.5,539.5 141.3,542.2 138.5,545 135.8,542.2" fill="#008000"/>
<polygon points="151.9,528.5 154.6,531.3 151.9,534 149.1,531.3" fill="#008000"/>
<polygon points="165.2,520.5 168,523.2 165.2,526 162.5,523.2" fill="#008000"/>
<polygon points="178.6,513.5 181.3,516.3 178.6,519 175.8,516.3" fill="#008000"/>
<polygon points="191.9,511.8 194.7,514.5 191.9,517.3 189.2,514.5" fill="#008000"/>
<polygon points="205.3,506.7 208,509.4 205.3,512.2 202.5,509.4" fill="#008000"/>
<polygon points="218.6,513.8 221.4,516.6 218.6,519.3 215.9,516.6" fill="#008000"/>
<polygon points="232,513.5 234.7,516.2 232,519 229.2,516.2" fill="#008000"/>
<polygon points="245.3,511.7 248.1,514.5 245.3,517.2 242.5,514.5" fill="#008000"/>
<polygon points="258.7,510.7 261.4,513.5 258.7,516.2 255.9,513.5" fill="#008000"/>
<polygon points="272,513.3 274.8,516.1 272,518.8 269.2,516.1" fill="#008000"/>
<path d="M58.5,549.7 L59.7,549.7 L60.9,549.7 L62.1,549.7 L63.3,549.7 L64.5,549.7 L65.7,549.7 L66.9,549.7 L68.1,549.7 L69.3,549.7 L70.5,549.7 L71.7,549.7 L72.9,549.7 L74.1,549.7 L75.3,549.7 L76.5,549.7 L77.7,549.7 L78.9,549.7 L80.1,549.7 L81.3,549.7 L82.5,549.7 L83.7,549.7 L84.9,549.7 L86.1,549.7 L87.3,549.7 L88.5,549.7 L89.7,549.7 L90.9,549.7 L92.1,549.7 L93.3,549.7 L94.5,549.7 L95.7,549.7 L96.9,549.7 L98.1,549.7 L99.3,549.7 L100.5,549.7 L101.7,549.7 L102.9,549.7 L104.1,549.7 L105.3,549.7 L106.5,549.7 L107.7,549.7 L108.9,549.7 L110.1,549.7 L111.3,549.7 L112.5,549.7 L113.7,549.7 L114.9,549.7 L116.1,549.7 L117.3,549.7 L118.5,549.7 L119.7,549.7 L120.9,549.7 L122.1,549.7 L123.3,549.7 L124.5,549.7 L125.7,549.5 L126.9,549.4 L128.1,549.5 L129.3,549.6 L130.5,549 L131.7,548.5 L132.9,547.8 L134.1,547.3 L135.3,546.5 L136.5,546 L137.7,545.2 L138.9,544.8 L140.1,544.3 L141.3,543.8 L142.5,543.3 L143.7,540.9 L144.8,541.8 L146,541.3 L147.2,542.3 L148.4,541.8 L149.6,540.5 L150.8,539.4 L152,539.7 L153.2,539.4 L154.4,538.2 L155.6,537.5 L156.8,537.9 L158,535.9 L159.2,537.5 L160.4,536.4 L161.6,535.4 L162.8,535.4 L164,533.4 L165.2,528.4 L166.4,528.6 L167.6,529 L168.8,527.1 L170,526.1 L171.2,526.1 L172.4,527.1 L173.6,527.6 L174.8,527.8 L176,527.7 L177.2,526.5 L178.4,526 L179.6,521 L180.8,523.4 L182,522.7 L183.2,522.3 L184.4,522.7 L185.6,521 L186.8,521.9 L188,522.4 L189.2,520 L190.4,518.7 L191.6,517.5 L192.8,517.2 L194,516.9 L195.2,518.3 L196.4,518.4 L197.6,518.2 L198.8,517.1 L200,517 L201.2,517.8 L202.4,517.8 L203.6,516.4 L204.8,515.8 L206,516.7 L207.2,516.1 L208.4,517.5 L209.6,517 L210.8,518.8 L212,519 L213.2,519.1 L214.4,518 L215.6,520.2 L216.8,518 L218,517.9 L219.2,517.7 L220.4,517.5 L221.6,519.6 L222.8,518.8 L224,520.4 L225.2,519.7 L226.4,520.5 L227.6,520.8 L228.8,520.6 L230,520.2 L231.2,517.3 L232.4,517.7 L233.6,519.6 L234.8,518.8 L236,520.4 L237.2,517.8 L238.4,518.3 L239.6,518.8 L240.8,519 L242,520.4 L243.2,520.4 L244.4,521.1 L245.6,518.9 L246.8,516 L248,518.2 L249.2,516.8 L250.4,515.6 L251.6,517.5 L252.8,515.8 L254,517.7 L255.2,516.6 L256.4,518.4 L257.6,519.5 L258.8,517.5 L260,518.2 L261.2,516.9 L262.4,520.1 L263.6,516.2 L264.8,517.6 L266,518.6 L267.2,518.8 L268.4,519.3 L269.6,517.6 L270.8,516.9 L272,516.7 L273.2,516.3 L274.4,516.3 L275.6,517.6 L276.8,516.1 L278,516 L279.2,517.3 L280.4,518.1" fill="none" stroke="#000080" stroke-width="1.0" stroke-linejoin="round"/>
<polygon points="55.8,549.7 60.4,547.1 60.4,552.2" fill="#000080"/>
<polygon points="69.2,549.7 73.8,547.1 73.8,552.2" fill="#000080"/>
<polygon points="82.5,549.7 87.1,547.1 87.1,552.2" fill="#000080"/>
<polygon points="95.8,549.7 100.4,547.1 100.4,552.2" fill="#000080"/>
<polygon points="109.2,549.7 113.8,547.1 113.8,552.2" fill="#000080"/>
<polygon points="122.5,549.5 127.1,547 127.1,552.1" fill="#000080"/>
<polygon points="135.9,544.9 140.5,542.4 140.5,547.4" fill="#000080"/>
<polygon points="149.2,539.6 153.8,537.1 153.8,542.2" fill="#000080"/>
<polygon points="162.6,528.5 167.2,525.9 167.2,531" fill="#000080"/>
<polygon points="175.9,525.5 180.5,523 180.5,528" fill="#000080"/>
<polygon points="189.3,517.5 193.9,514.9 193.9,520" fill="#000080"/>
<polygon points="202.6,516.1 207.2,513.5 207.2,518.6" fill="#000080"/>
<polygon points="216,517.8 220.6,515.3 220.6,520.4" fill="#000080"/>
<polygon points="229.3,517.5 233.9,515 233.9,520.1" fill="#000080"/>
<polygon points="242.7,519.5 247.3,517 247.3,522" fill="#000080"/>
<polygon points="256,517.8 260.6,515.2 260.6,520.3" fill="#000080"/>
<polygon points="269.4,516.7 274,514.2 274,519.2" fill="#000080"/>
<path d="M58.5,549.7 L59.7,549.7 L60.9,549.7 L62.1,549.7 L63.3,549.7 L64.5,549.6 L65.7,549.6 L66.9,549.6 L68.1,549.6 L69.3,549.6 L70.5,549.6 L71.7,549.6 L72.9,549.6 L74.1,549.6 L75.3,549.6 L76.5,549.6 L77.7,549.6 L78.9,549.6 L80.1,549.6 L81.3,549.6 L82.5,549.6 L83.7,549.6 L84.9,549.6 L86.1,549.6 L87.3,549.6 L88.5,549.6 L89.7,549.6 L90.9,549.6 L92.1,549.6 L93.3,549.6 L94.5,549.6 L95.7,549.6 L96.9,549.6 L98.1,549.6 L99.3,549.6 L100.5,549.5 L101.7,549.5 L102.9,549.5 L104.1,549.5 L105.3,549.5 L106.5,549.5 L107.7,549.5 L108.9,549.5 L110.1,549.5 L111.3,549.5 L112.5,549.5 L113.7,549.5 L114.9,549.5 L116.1,549.5 L117.3,549.5 L118.5,549.5 L119.7,549.5 L120.9,549.5 L122.1,549.5 L123.3,549.5 L124.5,549.5 L125.7,549.5 L126.9,549.5 L128.1,549.5 L129.3,549.5 L130.5,549.5 L131.7,549.5 L132.9,549.5 L134.1,549.6 L135.3,549.6 L136.5,549.3 L137.7,549 L138.9,548.6 L140.1,548.3 L141.3,547.9 L142.5,547.6 L143.7,547.4 L144.8,547.1 L146,546.6 L147.2,546.5 L148.4,546.3 L149.6,546.1 L150.8,545.8 L152,545.1 L153.2,544.2 L154.4,543 L155.6,542.2 L156.8,542.4 L158,542.1 L159.2,539.7 L160.4,537.3 L161.6,537.2 L162.8,534.7 L164,537.3 L165.2,535.4 L166.4,533.3 L167.6,533.4 L168.8,534 L170,533 L171.2,532 L172.4,535.1 L173.6,532.5 L174.8,531.6 L176,531.7 L177.2,530.5 L178.4,531.8 L179.6,531.2 L180.8,530.9 L182,531.5 L183.2,531.7 L184.4,530.2 L185.6,530.5 L186.8,529.6 L188,530 L189.2,527.8 L190.4,526.9 L191.6,528.1 L192.8,527.7 L194,526.8 L195.2,527.2 L196.4,525.8 L197.6,526.1 L198.8,524.8 L200,524.8 L201.2,523.1 L202.4,522.7 L203.6,523.5 L204.8,523.4 L206,522.1 L207.2,523.4 L208.4,523.3 L209.6,523.1 L210.8,523.7 L212,523.5 L213.2,522 L214.4,521.4 L215.6,522.2 L216.8,523.2 L218,524.1 L219.2,522.6 L220.4,522.6 L221.6,524.5 L222.8,524 L224,525.2 L225.2,525.4 L226.4,524.4 L227.6,524.8 L228.8,524.7 L230,523.6 L231.2,523.8 L232.4,523.7 L233.6,523 L234.8,524.2 L236,524.5 L237.2,524.1 L238.4,525 L239.6,524.1 L240.8,523.7 L242,523.6 L243.2,522.9 L244.4,523 L245.6,522.1 L246.8,522.1 L248,522.7 L249.2,522.8 L250.4,522.5 L251.6,520.9 L252.8,521.3 L254,521 L255.2,522.1 L256.4,522.5 L257.6,520.9 L258.8,521.8 L260,521 L261.2,522.1 L262.4,520.6 L263.6,520.6 L264.8,520.9 L266,520.3 L267.2,521.5 L268.4,521.8 L269.6,522.3 L270.8,522.9 L272,518.9 L273.2,520.9 L274.4,520.9 L275.6,521.8 L276.8,521.3 L278,521.3 L279.2,521.6 L280.4,520.1" fill="none" stroke="#8000ff" stroke-width="1.0" stroke-linejoin="round"/>
<polygon points="61.1,549.7 56.5,547.1 56.5,552.2" fill="#8000ff"/>
<polygon points="74.4,549.6 69.8,547.1 69.8,552.2" fill="#8000ff"/>
<polygon points="87.8,549.6 83.2,547.1 83.2,552.1" fill="#8000ff"/>
<polygon points="101.1,549.6 96.5,547 96.5,552.1" fill="#8000ff"/>
<polygon points="114.5,549.5 109.9,547 109.9,552" fill="#8000ff"/>
<polygon points="127.8,549.5 123.2,547 123.2,552" fill="#8000ff"/>
<polygon points="141.2,548.7 136.6,546.2 136.6,551.2" fill="#8000ff"/>
<polygon points="154.5,545.2 149.9,542.7 149.9,547.7" fill="#8000ff"/>
<polygon points="167.9,535.5 163.3,532.9 163.3,538" fill="#8000ff"/>
<polygon points="181.2,531.7 176.6,529.2 176.6,534.2" fill="#8000ff"/>
<polygon points="194.6,528 190,525.5 190,530.6" fill="#8000ff"/>
<polygon points="207.9,522.9 203.3,520.4 203.3,525.5" fill="#8000ff"/>
<polygon points="221.3,523.4 216.7,520.9 216.7,525.9" fill="#8000ff"/>
<polygon points="234.6,523.7 230,521.2 230,526.3" fill="#8000ff"/>
<polygon points="248,522.4 243.4,519.8 243.4,524.9" fill="#8000ff"/>
<polygon points="261.3,521.6 256.7,519.1 256.7,524.1" fill="#8000ff"/>
<polygon points="274.6,519 270,516.5 270,521.6" fill="#8000ff"/>
<path d="M58.5,549.7 L59.7,549.7 L60.9,549.7 L62.1,549.7 L63.3,549.7 L64.5,549.7 L65.7,549.7 L66.9,549.7 L68.1,549.7 L69.3,549.7 L70.5,549.7 L71.7,549.7 L72.9,549.7 L74.1,549.7 L75.3,549.7 L76.5,549.7 L77.7,549.7 L78.9,549.7 L80.1,549.7 L81.3,549.7 L82.5,549.7 L83.7,549.7 L84.9,549.7 L86.1,549.7 L87.3,549.7 L88.5,549.7 L89.7,549.7 L90.9,549.7 L92.1,549.7 L93.3,549.7 L94.5,549.7 L95.7,549.7 L96.9,549.7 L98.1,549.7 L99.3,549.7 L100.5,549.7 L101.7,549.7 L102.9,549.7 L104.1,549.7 L105.3,549.7 L106.5,549.7 L107.7,549.7 L108.9,549.7 L110.1,549.7 L111.3,549.7 L112.5,549.7 L113.7,549.7 L114.9,549.7 L116.1,549.7 L117.3,549.7 L118.5,549.7 L119.7,549.7 L120.9,549.7 L122.1,549.7 L123.3,549.7 L124.5,549.7 L125.7,549.7 L126.9,549.7 L128.1,549.7 L129.3,549.7 L130.5,549.7 L131.7,549.7 L132.9,549.7 L134.1,549.7 L135.3,549.7 L136.5,549.7 L137.7,549.7 L138.9,549.6 L140.1,549.6 L141.3,549.5 L142.5,549.4 L143.7,549.4 L144.8,549.3 L146,549.3 L147.2,549.5 L148.4,549.6 L149.6,549.2 L150.8,548.6 L152,548.1 L153.2,547.7 L154.4,547.3 L155.6,546.6 L156.8,546.4 L158,545.7 L159.2,545.4 L160.4,544.9 L161.6,544.4 L162.8,542.4 L164,540.3 L165.2,538.6 L166.4,537.7 L167.6,538.7 L168.8,539.1 L170,537.5 L171.2,537.9 L172.4,536.8 L173.6,536.2 L174.8,536.1 L176,535.9 L177.2,535.7 L178.4,535.9 L179.6,535.1 L180.8,534.6 L182,534.4 L183.2,535.8 L184.4,534.7 L185.6,534.3 L186.8,533.2 L188,532.8 L189.2,532.9 L190.4,533.4 L191.6,533.2 L192.8,532.9 L194,533.3 L195.2,531.2 L196.4,532.3 L197.6,531.7 L198.8,531.1 L200,531.4 L201.2,532.1 L202.4,530.9 L203.6,530.5 L204.8,531.6 L206,530.8 L207.2,531.3 L208.4,531 L209.6,527.9 L210.8,530.1 L212,530.6 L213.2,529.2 L214.4,528.8 L215.6,528.5 L216.8,529.6 L218,529 L219.2,529.5 L220.4,528.7 L221.6,528.8 L222.8,529 L224,528.2 L225.2,529.5 L226.4,529.6 L227.6,528.9 L228.8,529.2 L230,529 L231.2,529.6 L232.4,528.8 L233.6,528.9 L234.8,528.3 L236,528.1 L237.2,529.7 L238.4,528.3 L239.6,528.8 L240.8,528.5 L242,528.9 L243.2,528.7 L244.4,528.4 L245.6,529 L246.8,528.6 L248,527.1 L249.2,527.2 L250.4,527.4 L251.6,525.7 L252.8,525.1 L254,526.1 L255.2,526.1 L256.4,525.7 L257.6,525.3 L258.8,525.7 L260,525.3 L261.2,525.9 L262.4,525.5 L263.6,527.1 L264.8,526.5 L266,526.8 L267.2,525.2 L268.4,525.1 L269.6,526.2 L270.8,525.8 L272,527.1 L273.2,526.5 L274.4,527.3 L275.6,527.8 L276.8,528 L278,527.5 L279.2,526.3 L280.4,527.7" fill="none" stroke="#800080" stroke-width="1.0" stroke-linejoin="round"/>
<circle cx="58.5" cy="549.7" r="2.4" fill="#800080"/>
<circle cx="71.8" cy="549.7" r="2.4" fill="#800080"/>
<circle cx="85.1" cy="549.7" r="2.4" fill="#800080"/>
<circle cx="98.5" cy="549.7" r="2.4" fill="#800080"/>
<circle cx="111.8" cy="549.7" r="2.4" fill="#800080"/>
<circle cx="125.2" cy="549.7" r="2.4" fill="#800080"/>
<circle cx="138.5" cy="549.6" r="2.4" fill="#800080"/>
<circle cx="151.9" cy="548.2" r="2.4" fill="#800080"/>
<circle cx="165.2" cy="538.6" r="2.4" fill="#800080"/>
<circle cx="178.6" cy="535.8" r="2.4" fill="#800080"/>
<circle cx="191.9" cy="533.1" r="2.4" fill="#800080"/>
<circle cx="205.3" cy="531.3" r="2.4" fill="#800080"/>
<circle cx="218.6" cy="529.2" r="2.4" fill="#800080"/>
<circle cx="232" cy="529.1" r="2.4" fill="#800080"/>
<circle cx="245.3" cy="528.9" r="2.4" fill="#800080"/>
<circle cx="258.7" cy="525.6" r="2.4" fill="#800080"/>
<circle cx="272" cy="527" r="2.4" fill="#800080"/>
<path d="M58.5,549.7 L59.7,549.7 L60.9,549.7 L62.1,549.7 L63.3,549.7 L64.5,549.7 L65.7,549.7 L66.9,549.7 L68.1,549.7 L69.3,549.7 L70.5,549.7 L71.7,549.7 L72.9,549.7 L74.1,549.7 L75.3,549.7 L76.5,549.7 L77.7,549.7 L78.9,549.7 L80.1,549.7 L81.3,549.7 L82.5,549.7 L83.7,549.7 L84.9,549.7 L86.1,549.7 L87.3,549.7 L88.5,549.7 L89.7,549.7 L90.9,549.7 L92.1,549.7 L93.3,549.7 L94.5,549.7 L95.7,549.7 L96.9,549.7 L98.1,549.7 L99.3,549.7 L100.5,549.7 L101.7,549.7 L102.9,549.7 L104.1,549.7 L105.3,549.7 L106.5,549.7 L107.7,549.7 L108.9,549.7 L110.1,549.7 L111.3,549.7 L112.5,549.7 L113.7,549.7 L114.9,549.7 L116.1,549.7 L117.3,549.7 L118.5,549.7 L119.7,549.7 L120.9,549.7 L122.1,549.7 L123.3,549.7 L124.5,549.7 L125.7,549.7 L126.9,549.7 L128.1,549.7 L129.3,549.7 L130.5,549.7 L131.7,549.7 L132.9,549.7 L134.1,549.7 L135.3,549.7 L136.5,549.7 L137.7,549.7 L138.9,549.7 L140.1,549.7 L141.3,549.7 L142.5,549.7 L143.7,549.7 L144.8,549.7 L146,549.7 L147.2,549.6 L148.4,549.6 L149.6,549.6 L150.8,549.5 L152,549.5 L153.2,549.5 L154.4,549.5 L155.6,549.6 L156.8,549.5 L158,549.2 L159.2,548.9 L160.4,548.7 L161.6,548.6 L162.8,548.4 L164,547.4 L165.2,544.1 L166.4,543.9 L167.6,543.9 L168.8,543.7 L170,543.2 L171.2,543.2 L172.4,543.5 L173.6,542.7 L174.8,543 L176,542.1 L177.2,541.7 L178.4,542.2 L179.6,541.3 L180.8,542 L182,541 L183.2,542.3 L184.4,541 L185.6,540.4 L186.8,540 L188,540.3 L189.2,541.7 L190.4,540.3 L191.6,540.1 L192.8,539.5 L194,539.7 L195.2,539.6 L196.4,539.5 L197.6,538.4 L198.8,538.4 L200,538.7 L201.2,538.1 L202.4,538.4 L203.6,538.5 L204.8,537.8 L206,537.8 L207.2,538.3 L208.4,538.1 L209.6,538.2 L210.8,538.5 L212,537.3 L213.2,537.4 L214.4,536.6 L215.6,536.2 L216.8,535.9 L218,536.2 L219.2,536.9 L220.4,536.4 L221.6,535.8 L222.8,534.9 L224,535.6 L225.2,535.6 L226.4,535.1 L227.6,534.5 L228.8,534.7 L230,534.7 L231.2,534.3 L232.4,534.4 L233.6,535.2 L234.8,534.7 L236,535.4 L237.2,534.8 L238.4,534.6 L239.6,533.9 L240.8,534.4 L242,533.8 L243.2,534.1 L244.4,533.9 L245.6,533.9 L246.8,535.2 L248,534.7 L249.2,535.2 L250.4,535.2 L251.6,534.3 L252.8,534.9 L254,536.3 L255.2,535.7 L256.4,534.9 L257.6,534.1 L258.8,532.5 L260,534.6 L261.2,534.4 L262.4,535.2 L263.6,535.3 L264.8,534.7 L266,534.7 L267.2,534.7 L268.4,534.3 L269.6,533.8 L270.8,534.7 L272,535.4 L273.2,535.8 L274.4,535.5 L275.6,535.5 L276.8,536 L278,536.1 L279.2,535.8 L280.4,535.7" fill="none" stroke="#800000" stroke-width="1.0" stroke-linejoin="round"/>
<polygon points="58.5,546.8 59.1,548.7 61.2,548.8 59.5,550 60.1,552 58.5,550.8 56.8,552 57.4,550 55.7,548.8 57.8,548.7" fill="#800000"/>
<polygon points="71.8,546.8 72.5,548.7 74.5,548.8 72.9,550 73.5,552 71.8,550.8 70.1,552 70.7,550 69.1,548.8 71.1,548.7" fill="#800000"/>
<polygon points="85.1,546.8 85.8,548.7 87.9,548.8 86.2,550 86.8,552 85.1,550.8 83.5,552 84.1,550 82.4,548.8 84.5,548.7" fill="#800000"/>
<polygon points="98.5,546.8 99.2,548.7 101.2,548.8 99.6,550 100.2,552 98.5,550.8 96.8,552 97.4,550 95.8,548.8 97.8,548.7" fill="#800000"/>
<polygon points="111.8,546.8 112.5,548.7 114.6,548.8 112.9,550 113.5,552 111.8,550.8 110.1,552 110.7,550 109.1,548.8 111.2,548.7" fill="#800000"/>
<polygon points="125.2,546.8 125.9,548.7 127.9,548.8 126.3,550 126.9,552 125.2,550.8 123.5,552 124.1,550 122.5,548.8 124.5,548.7" fill="#800000"/>
<polygon points="138.5,546.8 139.2,548.7 141.3,548.8 139.6,550 140.2,552 138.5,550.8 136.8,552 137.4,550 135.8,548.8 137.9,548.7" fill="#800000"/>
<polygon points="151.9,546.6 152.6,548.6 154.6,548.6 153,549.9 153.6,551.8 151.9,550.7 150.2,551.8 150.8,549.9 149.1,548.6 151.2,548.6" fill="#800000"/>
<polygon points="165.2,541.3 165.9,543.2 168,543.3 166.3,544.5 166.9,546.5 165.2,545.3 163.5,546.5 164.1,544.5 162.5,543.3 164.6,543.2" fill="#800000"/>
<polygon points="178.6,539.3 179.2,541.2 181.3,541.3 179.7,542.5 180.3,544.5 178.6,543.3 176.9,544.5 177.5,542.5 175.8,541.3 177.9,541.2" fill="#800000"/>
<polygon points="191.9,537.1 192.6,539 194.7,539.1 193,540.3 193.6,542.3 191.9,541.1 190.2,542.3 190.8,540.3 189.2,539.1 191.2,539" fill="#800000"/>
<polygon points="205.3,534.9 205.9,536.9 208,536.9 206.4,538.2 207,540.1 205.3,539 203.6,540.1 204.2,538.2 202.5,536.9 204.6,536.9" fill="#800000"/>
<polygon points="218.6,533.6 219.3,535.6 221.3,535.6 219.7,536.9 220.3,538.8 218.6,537.6 216.9,538.8 217.5,536.9 215.9,535.6 217.9,535.6" fill="#800000"/>
<polygon points="232,531.5 232.6,533.5 234.7,533.5 233.1,534.8 233.7,536.7 232,535.5 230.3,536.7 230.9,534.8 229.2,533.5 231.3,533.5" fill="#800000"/>
<polygon points="245.3,531 246,533 248,533 246.4,534.3 247,536.2 245.3,535.1 243.6,536.2 244.2,534.3 242.6,533 244.6,533" fill="#800000"/>
<polygon points="258.7,529.9 259.3,531.8 261.4,531.9 259.7,533.1 260.3,535.1 258.7,533.9 257,535.1 257.6,533.1 255.9,531.9 258,531.8" fill="#800000"/>
<polygon points="272,532.5 272.7,534.4 274.7,534.5 273.1,535.7 273.7,537.7 272,536.5 270.3,537.7 270.9,535.7 269.3,534.5 271.3,534.4" fill="#800000"/>
<line x1="97.9" y1="419.8" x2="97.9" y2="581.8" stroke="#1a1a1a" stroke-width="1.0"/>
<line x1="164.5" y1="419.8" x2="164.5" y2="581.8" stroke="#1a1a1a" stroke-width="1.0"/>
<line x1="225.4" y1="419.8" x2="225.4" y2="581.8" stroke="#1a1a1a" stroke-width="1.0"/>
<line x1="58.5" y1="436.9" x2="280.9" y2="436.9" stroke="#333" stroke-width="0.9"/>
<polygon points="59.1,436.9 62.7,435.2 62.7,438.6" fill="#111"/>
<polygon points="97.3,436.9 93.7,435.2 93.7,438.6" fill="#111"/>
<text x="77.2" y="435.1" class="ph">(1)</text>
<polygon points="98.5,436.9 102.1,435.2 102.1,438.6" fill="#111"/>
<polygon points="163.9,436.9 160.3,435.2 160.3,438.6" fill="#111"/>
<text x="132.3" y="435.1" class="ph">(2)</text>
<polygon points="165.1,436.9 168.7,435.2 168.7,438.6" fill="#111"/>
<polygon points="224.8,436.9 221.2,435.2 221.2,438.6" fill="#111"/>
<text x="198.2" y="435.1" class="ph">(3)</text>
<polygon points="226,436.9 229.6,435.2 229.6,438.6" fill="#111"/>
<polygon points="280.3,436.9 276.7,435.2 276.7,438.6" fill="#111"/>
<text x="253.4" y="435.1" class="ph">(4)</text>
<circle cx="97.9" cy="549.7" r="4.4" fill="none" stroke="#000" stroke-width="0.95"/>
<circle cx="164.5" cy="549.7" r="4.4" fill="none" stroke="#000" stroke-width="0.95"/>
<circle cx="225.4" cy="535.3" r="4.4" fill="none" stroke="#000" stroke-width="0.95"/>
<text x="103.2" y="563.7" class="tl">t<tspan class="sub" dy="2.6">1</tspan></text>
<text x="171.3" y="558" class="tl">t<tspan class="sub" dy="2.6">2</tspan></text>
<text x="230.3" y="548.5" class="tl">t<tspan class="sub" dy="2.6">3</tspan></text>
<rect x="61.2" y="440.4" width="52.2" height="84.9" fill="#fff" stroke="#222" stroke-width="0.9"/>
<line x1="65.6" y1="448.5" x2="82.2" y2="448.5" stroke="#000000" stroke-width="0.75"/>
<rect x="71.3" y="445.9" width="5.2" height="5.2" fill="#000000"/>
<text x="84.8" y="451.2" class="lg" style="font-size:7.4px">Floor 2</text>
<line x1="65.6" y1="457.6" x2="82.2" y2="457.6" stroke="#ff0000" stroke-width="0.75"/>
<circle cx="73.9" cy="457.6" r="2.7" fill="#ff0000"/>
<text x="84.8" y="460.3" class="lg" style="font-size:7.4px">Floor 4</text>
<line x1="65.6" y1="466.7" x2="82.2" y2="466.7" stroke="#0000ff" stroke-width="0.75"/>
<polygon points="73.9,463.7 71.1,468.9 76.8,468.9" fill="#0000ff"/>
<text x="84.8" y="469.4" class="lg" style="font-size:7.4px">Floor 6</text>
<line x1="65.6" y1="475.8" x2="82.2" y2="475.8" stroke="#ff00ff" stroke-width="0.75"/>
<polygon points="73.9,478.8 71.1,473.6 76.8,473.6" fill="#ff00ff"/>
<text x="84.8" y="478.5" class="lg" style="font-size:7.4px">Floor 8</text>
<line x1="65.6" y1="484.9" x2="82.2" y2="484.9" stroke="#008000" stroke-width="0.75"/>
<polygon points="73.9,481.8 77,484.9 73.9,488 70.8,484.9" fill="#008000"/>
<text x="84.8" y="487.6" class="lg" style="font-size:7.4px">Floor 10</text>
<line x1="65.6" y1="494" x2="82.2" y2="494" stroke="#000080" stroke-width="0.75"/>
<polygon points="70.9,494 76.1,491.1 76.1,496.9" fill="#000080"/>
<text x="84.8" y="496.7" class="lg" style="font-size:7.4px">Floor 12</text>
<line x1="65.6" y1="503.1" x2="82.2" y2="503.1" stroke="#8000ff" stroke-width="0.75"/>
<polygon points="76.9,503.1 71.7,500.2 71.7,506" fill="#8000ff"/>
<text x="84.8" y="505.8" class="lg" style="font-size:7.4px">Floor 14</text>
<line x1="65.6" y1="512.2" x2="82.2" y2="512.2" stroke="#800080" stroke-width="0.75"/>
<circle cx="73.9" cy="512.2" r="2.7" fill="#800080"/>
<text x="84.8" y="514.9" class="lg" style="font-size:7.4px">Floor 16</text>
<line x1="65.6" y1="521.3" x2="82.2" y2="521.3" stroke="#800000" stroke-width="0.75"/>
<polygon points="73.9,518 74.7,520.2 77,520.3 75.2,521.7 75.8,523.9 73.9,522.6 72,523.9 72.7,521.7 70.8,520.3 73.2,520.2" fill="#800000"/>
<text x="84.8" y="524" class="lg" style="font-size:7.4px">Floor 18</text>
<rect x="58.5" y="419.8" width="222.4" height="162" fill="none" stroke="#000" stroke-width="1.2"/>
<text x="58.5" y="593.3" class="tk" style="font-size:9.2px" text-anchor="middle">0</text>
<text x="102.9" y="593.3" class="tk" style="font-size:9.2px" text-anchor="middle">200</text>
<text x="147.4" y="593.3" class="tk" style="font-size:9.2px" text-anchor="middle">400</text>
<text x="191.9" y="593.3" class="tk" style="font-size:9.2px" text-anchor="middle">600</text>
<text x="236.4" y="593.3" class="tk" style="font-size:9.2px" text-anchor="middle">800</text>
<text x="280.9" y="593.3" class="tk" style="font-size:9.2px" text-anchor="middle">1000</text>
<text x="54.7" y="585.1" class="tk" style="font-size:9.2px" text-anchor="end">15</text>
<text x="54.7" y="552.7" class="tk" style="font-size:9.2px" text-anchor="end">20</text>
<text x="54.7" y="520.3" class="tk" style="font-size:9.2px" text-anchor="end">25</text>
<text x="54.7" y="487.9" class="tk" style="font-size:9.2px" text-anchor="end">30</text>
<text x="54.7" y="455.5" class="tk" style="font-size:9.2px" text-anchor="end">35</text>
<text x="54.7" y="423.1" class="tk" style="font-size:9.2px" text-anchor="end">40</text>
<path d="M58.5,581.8v-3.2M58.5,419.8v3.2M80.7,581.8v-2M80.7,419.8v2M102.9,581.8v-3.2M102.9,419.8v3.2M125.2,581.8v-2M125.2,419.8v2M147.4,581.8v-3.2M147.4,419.8v3.2M169.7,581.8v-2M169.7,419.8v2M191.9,581.8v-3.2M191.9,419.8v3.2M214.2,581.8v-2M214.2,419.8v2M236.4,581.8v-3.2M236.4,419.8v3.2M258.7,581.8v-2M258.7,419.8v2M280.9,581.8v-3.2M280.9,419.8v3.2M58.5,581.8h3.2M280.9,581.8h-3.2M58.5,565.6h2M280.9,565.6h-2M58.5,549.4h3.2M280.9,549.4h-3.2M58.5,533.2h2M280.9,533.2h-2M58.5,517h3.2M280.9,517h-3.2M58.5,500.8h2M280.9,500.8h-2M58.5,484.6h3.2M280.9,484.6h-3.2M58.5,468.4h2M280.9,468.4h-2M58.5,452.2h3.2M280.9,452.2h-3.2M58.5,436h2M280.9,436h-2M58.5,419.8h3.2M280.9,419.8h-3.2" stroke="#000" stroke-width="1" fill="none"/>
<text x="170.5" y="610.8" class="ax" style="font-size:11.35px" text-anchor="middle">Time (s)</text>
<text transform="translate(32.2,504.1) rotate(-90)" class="ax" style="font-size:11.35px" text-anchor="middle">Gas Temperature in the shaft (°C)</text>
<text x="0.3" y="419" class="pl">(e)</text>
<path d="M357.8,550.4 L359,550.4 L360.2,550.4 L361.4,550.4 L362.6,550.4 L363.8,550.4 L365,550.4 L366.2,550.4 L367.4,550.4 L368.6,550.4 L369.8,550.4 L371,550.4 L372.2,550.4 L373.4,550.3 L374.6,550.3 L375.8,550.3 L377,550.3 L378.2,550.3 L379.4,550.3 L380.6,550.3 L381.8,550.3 L383,550.3 L384.2,550.3 L385.4,550.3 L386.6,550.3 L387.8,550.3 L389,550.3 L390.2,550.3 L391.4,550.3 L392.6,550.3 L393.8,550.3 L395,550.2 L396.2,546.7 L397.4,540.7 L398.6,538.2 L399.8,538.3 L401,536.5 L402.2,536.6 L403.4,534.4 L404.6,530.9 L405.8,530.3 L407,527.7 L408.2,526.6 L409.4,529.2 L410.6,526.7 L411.8,521 L413,519.1 L414.2,515.9 L415.4,513 L416.6,512.4 L417.8,509.9 L419,510.8 L420.2,505.7 L421.4,508.3 L422.6,504.2 L423.8,501.2 L425,502.7 L426.2,498.5 L427.4,498.7 L428.6,494.3 L429.8,489.9 L431,481.9 L432.2,473.8 L433.4,474.2 L434.6,472.8 L435.8,471.8 L437,468.6 L438.2,469.4 L439.4,470.1 L440.6,471.5 L441.8,469.1 L443,472.6 L444.2,473.4 L445.4,478 L446.6,475.3 L447.8,477.6 L449,475 L450.2,476.5 L451.4,476.7 L452.6,466.7 L453.8,468.7 L455,466.6 L456.2,463 L457.4,460.6 L458.6,457.3 L459.8,456.9 L461,461 L462.2,463.8 L463.4,461.7 L464.6,458.1 L465.8,457.4 L467,452.4 L468.2,457.3 L469.4,455.1 L470.6,458.6 L471.8,461 L473,460.7 L474.2,460.1 L475.4,455.5 L476.6,454.7 L477.8,454.2 L479,455.8 L480.2,459.4 L481.4,461.1 L482.6,461.7 L483.8,463.1 L485,460.1 L486.2,451.5 L487.4,449.1 L488.6,455.8 L489.8,458.6 L491,462 L492.2,459.5 L493.4,456.6 L494.6,460 L495.8,468.5 L497,460.9 L498.2,467.7 L499.4,468.3 L500.6,464 L501.8,463.4 L503,471 L504.2,474.9 L505.4,472.7 L506.6,466.7 L507.8,468.2 L509,466.5 L510.2,466.6 L511.4,471.7 L512.6,470 L513.8,470.8 L515,470 L516.2,470.1 L517.4,469.7 L518.6,469.2 L519.8,463.7 L521,465.2 L522.2,475.9 L523.4,472.2 L524.6,465 L525.8,464.7 L527,468.7 L528.2,472.1 L529.4,469 L530.6,465.9 L531.8,465.4 L533,465.1 L534.2,462.8 L535.4,464.4 L536.6,463.9 L537.8,469.8 L539,469.6 L540.2,469.4 L541.4,470.8 L542.6,467.3 L543.8,466.4 L545,470.9 L546.2,474.9 L547.4,472.9 L548.6,476.5 L549.8,483.2 L551,480.6 L552.2,470.6 L553.4,463.5 L554.6,457.1 L555.8,454.7 L557,458.8 L558.2,453.8 L559.4,456.6 L560.6,456.8 L561.8,458.9 L563,457.2 L564.2,462.2 L565.4,464.6 L566.6,470.6 L567.8,471.4 L569,472.6 L570.2,469.1 L571.4,469.5 L572.6,466.8 L573.8,462.7 L575,461.1 L576.2,458.7 L577.4,461.9 L578.6,460.8 L579.8,464.8" fill="none" stroke="#000000" stroke-width="1.0" stroke-linejoin="round"/>
<rect x="355.5" y="548.1" width="4.6" height="4.6" fill="#000000"/>
<rect x="368.9" y="548.1" width="4.6" height="4.6" fill="#000000"/>
<rect x="382.2" y="548" width="4.6" height="4.6" fill="#000000"/>
<rect x="395.6" y="537.4" width="4.6" height="4.6" fill="#000000"/>
<rect x="408.9" y="521.3" width="4.6" height="4.6" fill="#000000"/>
<rect x="422.3" y="499.9" width="4.6" height="4.6" fill="#000000"/>
<rect x="435.7" y="466.9" width="4.6" height="4.6" fill="#000000"/>
<rect x="449" y="474.4" width="4.6" height="4.6" fill="#000000"/>
<rect x="462.4" y="455.8" width="4.6" height="4.6" fill="#000000"/>
<rect x="475.8" y="452.3" width="4.6" height="4.6" fill="#000000"/>
<rect x="489.1" y="458.8" width="4.6" height="4.6" fill="#000000"/>
<rect x="502.5" y="471.5" width="4.6" height="4.6" fill="#000000"/>
<rect x="515.8" y="467.1" width="4.6" height="4.6" fill="#000000"/>
<rect x="529.2" y="463.2" width="4.6" height="4.6" fill="#000000"/>
<rect x="542.6" y="468.1" width="4.6" height="4.6" fill="#000000"/>
<rect x="555.9" y="451.6" width="4.6" height="4.6" fill="#000000"/>
<rect x="569.3" y="466.8" width="4.6" height="4.6" fill="#000000"/>
<path d="M357.8,550.4 L359,550.4 L360.2,550.4 L361.4,550.4 L362.6,550.4 L363.8,550.4 L365,550.4 L366.2,550.4 L367.4,550.4 L368.6,550.4 L369.8,550.4 L371,550.4 L372.2,550.4 L373.4,550.4 L374.6,550.4 L375.8,550.4 L377,550.4 L378.2,550.4 L379.4,550.4 L380.6,550.4 L381.8,550.4 L383,550.4 L384.2,550.4 L385.4,550.4 L386.6,550.4 L387.8,550.4 L389,550.4 L390.2,550.4 L391.4,550.4 L392.6,550.4 L393.8,550.4 L395,550.4 L396.2,550.4 L397.4,550.4 L398.6,550.4 L399.8,550.4 L401,550.4 L402.2,550.4 L403.4,549.3 L404.6,547 L405.8,545.3 L407,544.6 L408.2,543.3 L409.4,542.9 L410.6,542.8 L411.8,541.4 L413,540.2 L414.2,536.3 L415.4,537.4 L416.6,536 L417.8,535.9 L419,534.7 L420.2,533.2 L421.4,534.8 L422.6,532.3 L423.8,533 L425,529 L426.2,528.4 L427.4,526.6 L428.6,522.8 L429.8,519.9 L431,516.8 L432.2,512.5 L433.4,509.3 L434.6,505.8 L435.8,502.6 L437,499.7 L438.2,500.2 L439.4,499.2 L440.6,501.1 L441.8,502.6 L443,503.6 L444.2,504.7 L445.4,502.3 L446.6,501.7 L447.8,501.6 L449,501.7 L450.2,503.7 L451.4,502 L452.6,501.3 L453.8,499.7 L455,501 L456.2,498.9 L457.4,494.9 L458.6,493.6 L459.8,494.6 L461,492.3 L462.2,489.5 L463.4,491.6 L464.6,490.2 L465.8,493.6 L467,490.2 L468.2,490.3 L469.4,492.2 L470.6,493.4 L471.8,490.7 L473,491 L474.2,489.3 L475.4,489.6 L476.6,490.3 L477.8,492.7 L479,495.8 L480.2,496 L481.4,495.9 L482.6,494.6 L483.8,493.6 L485,495.1 L486.2,493.9 L487.4,490.4 L488.6,487.5 L489.8,489.3 L491,493.3 L492.2,489.6 L493.4,491 L494.6,493.6 L495.8,493.4 L497,494.9 L498.2,494.4 L499.4,496.7 L500.6,499 L501.8,499.1 L503,497.2 L504.2,498.3 L505.4,496.7 L506.6,500.7 L507.8,499.5 L509,497.9 L510.2,497.5 L511.4,500.7 L512.6,499.7 L513.8,496.6 L515,498.3 L516.2,495.7 L517.4,494.5 L518.6,495.2 L519.8,498.2 L521,498.4 L522.2,497.2 L523.4,496.5 L524.6,500.9 L525.8,498.8 L527,496.3 L528.2,497.9 L529.4,496.1 L530.6,499.6 L531.8,503.4 L533,501.4 L534.2,499.4 L535.4,501.3 L536.6,497.9 L537.8,498.6 L539,498.9 L540.2,496.1 L541.4,497.9 L542.6,497.8 L543.8,499.5 L545,499.4 L546.2,496.3 L547.4,499.9 L548.6,501.2 L549.8,505.4 L551,500.7 L552.2,498.2 L553.4,494.8 L554.6,495 L555.8,492.7 L557,493.9 L558.2,490.9 L559.4,491.3 L560.6,492.5 L561.8,492.4 L563,494.8 L564.2,489.2 L565.4,491.7 L566.6,495.2 L567.8,495.4 L569,496.5 L570.2,493.7 L571.4,493.4 L572.6,496.9 L573.8,494.4 L575,493.2 L576.2,493.6 L577.4,495.5 L578.6,495.7 L579.8,492.8" fill="none" stroke="#ff0000" stroke-width="1.0" stroke-linejoin="round"/>
<circle cx="357.8" cy="550.4" r="2.4" fill="#ff0000"/>
<circle cx="371.2" cy="550.4" r="2.4" fill="#ff0000"/>
<circle cx="384.5" cy="550.4" r="2.4" fill="#ff0000"/>
<circle cx="397.9" cy="550.4" r="2.4" fill="#ff0000"/>
<circle cx="411.2" cy="542.1" r="2.4" fill="#ff0000"/>
<circle cx="424.6" cy="530.3" r="2.4" fill="#ff0000"/>
<circle cx="438" cy="500.1" r="2.4" fill="#ff0000"/>
<circle cx="451.3" cy="502.1" r="2.4" fill="#ff0000"/>
<circle cx="464.7" cy="490.5" r="2.4" fill="#ff0000"/>
<circle cx="478.1" cy="493.4" r="2.4" fill="#ff0000"/>
<circle cx="491.4" cy="492" r="2.4" fill="#ff0000"/>
<circle cx="504.8" cy="497.5" r="2.4" fill="#ff0000"/>
<circle cx="518.1" cy="495" r="2.4" fill="#ff0000"/>
<circle cx="531.5" cy="502.5" r="2.4" fill="#ff0000"/>
<circle cx="544.9" cy="499.4" r="2.4" fill="#ff0000"/>
<circle cx="558.2" cy="490.9" r="2.4" fill="#ff0000"/>
<circle cx="571.6" cy="494" r="2.4" fill="#ff0000"/>
<path d="M357.8,550.4 L359,550.4 L360.2,550.4 L361.4,550.4 L362.6,550.4 L363.8,550.4 L365,550.4 L366.2,550.4 L367.4,550.4 L368.6,550.4 L369.8,550.4 L371,550.4 L372.2,550.4 L373.4,550.4 L374.6,550.4 L375.8,550.4 L377,550.4 L378.2,550.4 L379.4,550.3 L380.6,550.3 L381.8,550.3 L383,550.3 L384.2,550.3 L385.4,550.3 L386.6,550.3 L387.8,550.3 L389,550.3 L390.2,550.3 L391.4,550.3 L392.6,550.3 L393.8,550.3 L395,550.3 L396.2,550.3 L397.4,550.3 L398.6,550.3 L399.8,550.3 L401,550.3 L402.2,550.3 L403.4,550.3 L404.6,550.3 L405.8,550.3 L407,550.2 L408.2,550.2 L409.4,550.1 L410.6,549.8 L411.8,549.5 L413,549.1 L414.2,548.4 L415.4,547.7 L416.6,547.4 L417.8,546.5 L419,544.9 L420.2,544.9 L421.4,544.4 L422.6,545.8 L423.8,542.5 L425,541.6 L426.2,540.3 L427.4,537 L428.6,535.3 L429.8,534.4 L431,529.8 L432.2,522.8 L433.4,522.7 L434.6,519.7 L435.8,515.1 L437,511.6 L438.2,511 L439.4,510 L440.6,510.4 L441.8,509.4 L443,506.7 L444.2,504.9 L445.4,505.2 L446.6,506 L447.8,505 L449,507.5 L450.2,505.9 L451.4,506.4 L452.6,506 L453.8,504.6 L455,504 L456.2,503.5 L457.4,500.3 L458.6,499.5 L459.8,499 L461,497.5 L462.2,497.8 L463.4,495.5 L464.6,497.9 L465.8,498.6 L467,498.2 L468.2,496.9 L469.4,496.1 L470.6,497.6 L471.8,495.3 L473,497.7 L474.2,494.9 L475.4,498.4 L476.6,498.6 L477.8,498.9 L479,495.7 L480.2,499.5 L481.4,500.3 L482.6,497.8 L483.8,497 L485,494 L486.2,494.7 L487.4,494.1 L488.6,493 L489.8,493.9 L491,492.5 L492.2,494 L493.4,495.3 L494.6,494 L495.8,494.5 L497,497.8 L498.2,496.5 L499.4,494.6 L500.6,493.4 L501.8,500.9 L503,500.6 L504.2,501.5 L505.4,503.1 L506.6,506.2 L507.8,505.8 L509,505.1 L510.2,502.2 L511.4,501.5 L512.6,502.9 L513.8,503.1 L515,504 L516.2,504.1 L517.4,507.6 L518.6,504.9 L519.8,505.5 L521,502.2 L522.2,502.9 L523.4,501 L524.6,502.6 L525.8,500.6 L527,506.5 L528.2,505.2 L529.4,504.9 L530.6,501.7 L531.8,502.7 L533,500.6 L534.2,501.7 L535.4,502.3 L536.6,503.4 L537.8,498.3 L539,502.6 L540.2,503.9 L541.4,502 L542.6,502.7 L543.8,502.2 L545,501.7 L546.2,499.3 L547.4,499 L548.6,499.8 L549.8,500.1 L551,500.3 L552.2,498.8 L553.4,501.3 L554.6,502.1 L555.8,500.8 L557,500.8 L558.2,497.1 L559.4,501 L560.6,496.5 L561.8,497 L563,496.3 L564.2,495.8 L565.4,494.1 L566.6,496.3 L567.8,498.4 L569,499.4 L570.2,500.9 L571.4,498.5 L572.6,498.1 L573.8,500.4 L575,501.6 L576.2,501.8 L577.4,498.9 L578.6,500.9 L579.8,499.8" fill="none" stroke="#0000ff" stroke-width="1.0" stroke-linejoin="round"/>
<polygon points="357.8,547.8 355.3,552.4 360.3,552.4" fill="#0000ff"/>
<polygon points="371.2,547.7 368.6,552.3 373.7,552.3" fill="#0000ff"/>
<polygon points="384.5,547.7 382,552.3 387.1,552.3" fill="#0000ff"/>
<polygon points="397.9,547.6 395.4,552.2 400.4,552.2" fill="#0000ff"/>
<polygon points="411.2,547 408.7,551.6 413.8,551.6" fill="#0000ff"/>
<polygon points="424.6,539.3 422.1,543.9 427.1,543.9" fill="#0000ff"/>
<polygon points="438,508.5 435.4,513.1 440.5,513.1" fill="#0000ff"/>
<polygon points="451.3,503.7 448.8,508.3 453.9,508.3" fill="#0000ff"/>
<polygon points="464.7,495.3 462.2,499.9 467.2,499.9" fill="#0000ff"/>
<polygon points="478.1,495.6 475.5,500.2 480.6,500.2" fill="#0000ff"/>
<polygon points="491.4,490.4 488.9,495 493.9,495" fill="#0000ff"/>
<polygon points="504.8,499.6 502.3,504.2 507.3,504.2" fill="#0000ff"/>
<polygon points="518.1,503.3 515.6,507.9 520.7,507.9" fill="#0000ff"/>
<polygon points="531.5,499.9 529,504.5 534,504.5" fill="#0000ff"/>
<polygon points="544.9,499.1 542.3,503.7 547.4,503.7" fill="#0000ff"/>
<polygon points="558.2,494.6 555.7,499.2 560.8,499.2" fill="#0000ff"/>
<polygon points="571.6,495.8 569.1,500.4 574.1,500.4" fill="#0000ff"/>
<path d="M357.8,550.4 L359,550.4 L360.2,550.4 L361.4,550.4 L362.6,550.4 L363.8,550.4 L365,550.4 L366.2,550.4 L367.4,550.4 L368.6,550.4 L369.8,550.4 L371,550.4 L372.2,550.4 L373.4,550.4 L374.6,550.4 L375.8,550.4 L377,550.4 L378.2,550.4 L379.4,550.4 L380.6,550.4 L381.8,550.3 L383,550.3 L384.2,550.3 L385.4,550.3 L386.6,550.3 L387.8,550.3 L389,550.3 L390.2,550.3 L391.4,550.3 L392.6,550.3 L393.8,550.3 L395,550.3 L396.2,550.3 L397.4,550.3 L398.6,550.3 L399.8,550.3 L401,550.3 L402.2,550.3 L403.4,550.3 L404.6,550.3 L405.8,550.3 L407,550.3 L408.2,550.3 L409.4,550.3 L410.6,550.3 L411.8,550.3 L413,550.2 L414.2,550.2 L415.4,550.3 L416.6,550.3 L417.8,549.9 L419,549.5 L420.2,548.6 L421.4,547.9 L422.6,546.9 L423.8,546.1 L425,544.3 L426.2,543.8 L427.4,541.8 L428.6,539.7 L429.8,538.8 L431,536.3 L432.2,535.2 L433.4,532.1 L434.6,530.8 L435.8,528.4 L437,527.7 L438.2,526.6 L439.4,524.4 L440.6,522.6 L441.8,520.1 L443,518.8 L444.2,517.1 L445.4,516.4 L446.6,514 L447.8,514.1 L449,512.8 L450.2,511.7 L451.4,513.9 L452.6,513.6 L453.8,513.4 L455,513 L456.2,510.9 L457.4,508.6 L458.6,508.6 L459.8,507.4 L461,509.1 L462.2,506.5 L463.4,506.9 L464.6,508.2 L465.8,506.8 L467,506.2 L468.2,505.3 L469.4,502.5 L470.6,501.3 L471.8,503.9 L473,505.7 L474.2,505.1 L475.4,507 L476.6,505.7 L477.8,508.3 L479,505 L480.2,506.5 L481.4,508.4 L482.6,508.9 L483.8,509.2 L485,508.1 L486.2,506 L487.4,506.3 L488.6,507.2 L489.8,507.4 L491,507.9 L492.2,506 L493.4,507.6 L494.6,508.2 L495.8,509.5 L497,509.2 L498.2,510.4 L499.4,509.8 L500.6,508.1 L501.8,508.9 L503,508.5 L504.2,507.1 L505.4,507.4 L506.6,505.9 L507.8,508.8 L509,510.5 L510.2,509.8 L511.4,510.8 L512.6,508.8 L513.8,509.4 L515,507.2 L516.2,507.2 L517.4,509 L518.6,510.7 L519.8,508.1 L521,510.8 L522.2,512.1 L523.4,509.8 L524.6,508.8 L525.8,508.2 L527,510 L528.2,507.2 L529.4,508.4 L530.6,506.7 L531.8,507.1 L533,507.9 L534.2,510.6 L535.4,511 L536.6,509.1 L537.8,507.5 L539,506.3 L540.2,505.3 L541.4,505.9 L542.6,506.3 L543.8,511.3 L545,509.8 L546.2,506.3 L547.4,508.1 L548.6,509.4 L549.8,508.5 L551,505.6 L552.2,507.3 L553.4,504.9 L554.6,505.1 L555.8,507.2 L557,504.7 L558.2,506.2 L559.4,507.3 L560.6,507.3 L561.8,504.8 L563,504.4 L564.2,502.8 L565.4,502.1 L566.6,504.6 L567.8,503.9 L569,505.4 L570.2,503.7 L571.4,506 L572.6,505 L573.8,505.7 L575,506.3 L576.2,506.3 L577.4,505.8 L578.6,504.1 L579.8,503.8" fill="none" stroke="#ff00ff" stroke-width="1.0" stroke-linejoin="round"/>
<polygon points="357.8,553.1 355.3,548.5 360.3,548.5" fill="#ff00ff"/>
<polygon points="371.2,553 368.6,548.4 373.7,548.4" fill="#ff00ff"/>
<polygon points="384.5,553 382,548.4 387.1,548.4" fill="#ff00ff"/>
<polygon points="397.9,552.9 395.4,548.3 400.4,548.3" fill="#ff00ff"/>
<polygon points="411.2,552.9 408.7,548.3 413.8,548.3" fill="#ff00ff"/>
<polygon points="424.6,547.5 422.1,542.9 427.1,542.9" fill="#ff00ff"/>
<polygon points="438,529.4 435.4,524.8 440.5,524.8" fill="#ff00ff"/>
<polygon points="451.3,516.4 448.8,511.8 453.9,511.8" fill="#ff00ff"/>
<polygon points="464.7,510.7 462.2,506.1 467.2,506.1" fill="#ff00ff"/>
<polygon points="478.1,510.2 475.5,505.6 480.6,505.6" fill="#ff00ff"/>
<polygon points="491.4,509.8 488.9,505.2 493.9,505.2" fill="#ff00ff"/>
<polygon points="504.8,509.9 502.3,505.3 507.3,505.3" fill="#ff00ff"/>
<polygon points="518.1,512.7 515.6,508.1 520.7,508.1" fill="#ff00ff"/>
<polygon points="531.5,509.6 529,505 534,505" fill="#ff00ff"/>
<polygon points="544.9,512.6 542.3,508 547.4,508" fill="#ff00ff"/>
<polygon points="558.2,508.8 555.7,504.2 560.8,504.2" fill="#ff00ff"/>
<polygon points="571.6,508.5 569.1,503.9 574.1,503.9" fill="#ff00ff"/>
<path d="M357.8,550.4 L359,550.4 L360.2,550.4 L361.4,550.4 L362.6,550.4 L363.8,550.4 L365,550.4 L366.2,550.4 L367.4,550.4 L368.6,550.4 L369.8,550.4 L371,550.4 L372.2,550.4 L373.4,550.4 L374.6,550.4 L375.8,550.4 L377,550.4 L378.2,550.4 L379.4,550.4 L380.6,550.4 L381.8,550.4 L383,550.4 L384.2,550.4 L385.4,550.4 L386.6,550.4 L387.8,550.4 L389,550.4 L390.2,550.4 L391.4,550.4 L392.6,550.4 L393.8,550.4 L395,550.4 L396.2,550.4 L397.4,550.4 L398.6,550.4 L399.8,550.4 L401,550.4 L402.2,550.4 L403.4,550.4 L404.6,550.4 L405.8,550.4 L407,550.4 L408.2,550.4 L409.4,550.4 L410.6,550.4 L411.8,550.4 L413,550.4 L414.2,550.4 L415.4,550.4 L416.6,550.4 L417.8,550.4 L419,550.4 L420.2,550.4 L421.4,550.1 L422.6,549.8 L423.8,549.4 L425,549 L426.2,548.4 L427.4,547.8 L428.6,547.3 L429.8,546.3 L431,545.3 L432.2,544.1 L433.4,542.9 L434.6,540.6 L435.8,539 L437,536.2 L438.2,535.4 L439.4,532.5 L440.6,529.6 L441.8,527 L443,526.7 L444.2,524 L445.4,523.1 L446.6,520.8 L447.8,519 L449,518.8 L450.2,517.9 L451.4,517.3 L452.6,516.8 L453.8,517.3 L455,516.2 L456.2,515.5 L457.4,514.7 L458.6,515 L459.8,516 L461,514.9 L462.2,515.8 L463.4,514.9 L464.6,517.2 L465.8,517.1 L467,515.5 L468.2,514 L469.4,513.2 L470.6,515.2 L471.8,515.1 L473,514.1 L474.2,514.7 L475.4,513.5 L476.6,512.6 L477.8,513.7 L479,514.1 L480.2,513 L481.4,514.9 L482.6,511.9 L483.8,512.7 L485,514 L486.2,511.4 L487.4,514.1 L488.6,515.1 L489.8,513.8 L491,513.7 L492.2,514.1 L493.4,514.7 L494.6,515.9 L495.8,515.4 L497,516.2 L498.2,514 L499.4,513.6 L500.6,512.2 L501.8,511.8 L503,511.9 L504.2,513.9 L505.4,513.1 L506.6,515.3 L507.8,516.4 L509,514.4 L510.2,514.7 L511.4,515.6 L512.6,518.3 L513.8,519.7 L515,518.2 L516.2,519.2 L517.4,517.2 L518.6,517.7 L519.8,516.6 L521,514.9 L522.2,514.6 L523.4,514.7 L524.6,513.9 L525.8,514.7 L527,513.2 L528.2,513.9 L529.4,514.7 L530.6,514.5 L531.8,513.6 L533,515.2 L534.2,515.9 L535.4,517.6 L536.6,515.5 L537.8,513.7 L539,513.3 L540.2,514.5 L541.4,514.2 L542.6,512.1 L543.8,511.2 L545,513.6 L546.2,513.3 L547.4,512.3 L548.6,513.6 L549.8,512.6 L551,514.6 L552.2,512.1 L553.4,511.6 L554.6,511.3 L555.8,510.4 L557,510.9 L558.2,513.3 L559.4,511.1 L560.6,511 L561.8,511.8 L563,510.8 L564.2,510.7 L565.4,510.4 L566.6,510 L567.8,510 L569,511 L570.2,508.9 L571.4,510.7 L572.6,510.9 L573.8,510.5 L575,510.1 L576.2,510.3 L577.4,509 L578.6,510.1 L579.8,509.2" fill="none" stroke="#008000" stroke-width="1.0" stroke-linejoin="round"/>
<polygon points="357.8,547.7 360.6,550.4 357.8,553.2 355,550.4" fill="#008000"/>
<polygon points="371.2,547.7 373.9,550.4 371.2,553.2 368.4,550.4" fill="#008000"/>
<polygon points="384.5,547.7 387.3,550.4 384.5,553.2 381.8,550.4" fill="#008000"/>
<polygon points="397.9,547.7 400.6,550.4 397.9,553.2 395.1,550.4" fill="#008000"/>
<polygon points="411.2,547.7 414,550.4 411.2,553.2 408.5,550.4" fill="#008000"/>
<polygon points="424.6,546.3 427.4,549.1 424.6,551.9 421.9,549.1" fill="#008000"/>
<polygon points="438,532.8 440.7,535.6 438,538.3 435.2,535.6" fill="#008000"/>
<polygon points="451.3,514.6 454.1,517.4 451.3,520.1 448.6,517.4" fill="#008000"/>
<polygon points="464.7,514.4 467.5,517.2 464.7,519.9 461.9,517.2" fill="#008000"/>
<polygon points="478.1,511 480.8,513.8 478.1,516.5 475.3,513.8" fill="#008000"/>
<polygon points="491.4,511 494.2,513.8 491.4,516.6 488.7,513.8" fill="#008000"/>
<polygon points="504.8,510.7 507.5,513.5 504.8,516.3 502,513.5" fill="#008000"/>
<polygon points="518.1,514.8 520.9,517.5 518.1,520.3 515.4,517.5" fill="#008000"/>
<polygon points="531.5,511.1 534.3,513.8 531.5,516.6 528.7,513.8" fill="#008000"/>
<polygon points="544.9,510.5 547.6,513.3 544.9,516.1 542.1,513.3" fill="#008000"/>
<polygon points="558.2,510.5 561,513.2 558.2,516 555.5,513.2" fill="#008000"/>
<polygon points="571.6,508 574.4,510.8 571.6,513.5 568.8,510.8" fill="#008000"/>
<path d="M357.8,550.4 L359,550.4 L360.2,550.4 L361.4,550.4 L362.6,550.4 L363.8,550.4 L365,550.4 L366.2,550.4 L367.4,550.4 L368.6,550.4 L369.8,550.4 L371,550.4 L372.2,550.4 L373.4,550.4 L374.6,550.4 L375.8,550.4 L377,550.4 L378.2,550.4 L379.4,550.4 L380.6,550.4 L381.8,550.4 L383,550.4 L384.2,550.4 L385.4,550.4 L386.6,550.4 L387.8,550.4 L389,550.4 L390.2,550.4 L391.4,550.4 L392.6,550.4 L393.8,550.4 L395,550.4 L396.2,550.4 L397.4,550.4 L398.6,550.4 L399.8,550.4 L401,550.4 L402.2,550.4 L403.4,550.4 L404.6,550.4 L405.8,550.4 L407,550.4 L408.2,550.4 L409.4,550.4 L410.6,550.4 L411.8,550.4 L413,550.4 L414.2,550.4 L415.4,550.4 L416.6,550.4 L417.8,550.4 L419,550.4 L420.2,550.4 L421.4,550.4 L422.6,550.4 L423.8,550.4 L425,550.4 L426.2,550.4 L427.4,550.2 L428.6,550 L429.8,549.7 L431,549.3 L432.2,548.9 L433.4,548.4 L434.6,547.9 L435.8,547 L437,546.1 L438.2,545 L439.4,544.4 L440.6,542.9 L441.8,541 L443,539.1 L444.2,535.5 L445.4,532.5 L446.6,530.4 L447.8,529.3 L449,527.3 L450.2,527.9 L451.4,526 L452.6,524.8 L453.8,525.3 L455,523.8 L456.2,523 L457.4,523 L458.6,523.3 L459.8,523.4 L461,522.5 L462.2,520.5 L463.4,521.4 L464.6,520.8 L465.8,521.3 L467,520.1 L468.2,520 L469.4,520.3 L470.6,519.1 L471.8,519.5 L473,517.2 L474.2,518.2 L475.4,518.3 L476.6,518.2 L477.8,517.9 L479,519.8 L480.2,516.7 L481.4,517.5 L482.6,515.5 L483.8,514.4 L485,514.1 L486.2,515.2 L487.4,515 L488.6,515.8 L489.8,516.3 L491,515.3 L492.2,515.7 L493.4,516.5 L494.6,517.6 L495.8,516.8 L497,516.5 L498.2,515.5 L499.4,515.5 L500.6,517.7 L501.8,517.9 L503,518 L504.2,518.8 L505.4,517.6 L506.6,518.2 L507.8,518.5 L509,519.3 L510.2,519.1 L511.4,517.8 L512.6,518.6 L513.8,520.5 L515,521.1 L516.2,518.7 L517.4,518.2 L518.6,520 L519.8,518.6 L521,518.6 L522.2,516.6 L523.4,515.9 L524.6,517.3 L525.8,518.6 L527,518.1 L528.2,517.2 L529.4,516.9 L530.6,518.6 L531.8,519.6 L533,517.8 L534.2,517 L535.4,516.9 L536.6,518.4 L537.8,517.4 L539,520.3 L540.2,519.8 L541.4,522.3 L542.6,523.4 L543.8,523.7 L545,523.9 L546.2,523.2 L547.4,522.4 L548.6,525.6 L549.8,524.5 L551,522.4 L552.2,521.4 L553.4,518.3 L554.6,520.3 L555.8,517.1 L557,517.4 L558.2,517.6 L559.4,515.3 L560.6,514.3 L561.8,515.3 L563,515 L564.2,516 L565.4,516.3 L566.6,513.8 L567.8,514.7 L569,517.1 L570.2,516.3 L571.4,517.8 L572.6,517.4 L573.8,515 L575,516 L576.2,516.8 L577.4,516.5 L578.6,517.3 L579.8,514.9" fill="none" stroke="#000080" stroke-width="1.0" stroke-linejoin="round"/>
<polygon points="355.2,550.4 359.8,547.9 359.8,553" fill="#000080"/>
<polygon points="368.5,550.4 373.1,547.9 373.1,553" fill="#000080"/>
<polygon points="381.9,550.4 386.5,547.9 386.5,553" fill="#000080"/>
<polygon points="395.2,550.4 399.8,547.9 399.8,553" fill="#000080"/>
<polygon points="408.6,550.4 413.2,547.9 413.2,553" fill="#000080"/>
<polygon points="422,550.4 426.6,547.9 426.6,553" fill="#000080"/>
<polygon points="435.3,545.3 439.9,542.7 439.9,547.8" fill="#000080"/>
<polygon points="448.7,526.1 453.3,523.6 453.3,528.7" fill="#000080"/>
<polygon points="462.1,520.9 466.7,518.4 466.7,523.4" fill="#000080"/>
<polygon points="475.4,518.3 480,515.8 480,520.8" fill="#000080"/>
<polygon points="488.8,515.5 493.4,512.9 493.4,518" fill="#000080"/>
<polygon points="502.1,518.2 506.7,515.7 506.7,520.8" fill="#000080"/>
<polygon points="515.5,519.3 520.1,516.8 520.1,521.8" fill="#000080"/>
<polygon points="528.9,519.4 533.5,516.8 533.5,521.9" fill="#000080"/>
<polygon points="542.2,523.9 546.8,521.3 546.8,526.4" fill="#000080"/>
<polygon points="555.6,517.6 560.2,515 560.2,520.1" fill="#000080"/>
<polygon points="568.9,517.7 573.5,515.2 573.5,520.2" fill="#000080"/>
<path d="M357.8,550.4 L359,550.4 L360.2,550.4 L361.4,550.4 L362.6,550.4 L363.8,550.4 L365,550.4 L366.2,550.4 L367.4,550.4 L368.6,550.4 L369.8,550.4 L371,550.4 L372.2,550.4 L373.4,550.4 L374.6,550.4 L375.8,550.4 L377,550.4 L378.2,550.4 L379.4,550.4 L380.6,550.4 L381.8,550.4 L383,550.4 L384.2,550.4 L385.4,550.4 L386.6,550.4 L387.8,550.4 L389,550.4 L390.2,550.4 L391.4,550.4 L392.6,550.4 L393.8,550.4 L395,550.4 L396.2,550.4 L397.4,550.4 L398.6,550.4 L399.8,550.4 L401,550.4 L402.2,550.4 L403.4,550.4 L404.6,550.4 L405.8,550.4 L407,550.4 L408.2,550.4 L409.4,550.4 L410.6,550.4 L411.8,550.4 L413,550.4 L414.2,550.4 L415.4,550.4 L416.6,550.4 L417.8,550.4 L419,550.4 L420.2,550.4 L421.4,550.4 L422.6,550.4 L423.8,550.4 L425,550.4 L426.2,550.4 L427.4,550.4 L428.6,550.4 L429.8,550.4 L431,550.4 L432.2,550.4 L433.4,550.4 L434.6,550.3 L435.8,550 L437,549.6 L438.2,549.2 L439.4,548.8 L440.6,548.3 L441.8,547.8 L443,547.2 L444.2,546.7 L445.4,545.7 L446.6,545.2 L447.8,543.3 L449,542.6 L450.2,541.2 L451.4,540.4 L452.6,538.2 L453.8,536.6 L455,534.3 L456.2,533.1 L457.4,530.8 L458.6,528.5 L459.8,526.8 L461,525.5 L462.2,525.8 L463.4,531 L464.6,529.2 L465.8,527.8 L467,529 L468.2,527.3 L469.4,526.7 L470.6,522.7 L471.8,523.6 L473,523.1 L474.2,522.7 L475.4,522 L476.6,526.2 L477.8,523.4 L479,522.9 L480.2,524.5 L481.4,525.2 L482.6,523.3 L483.8,523.1 L485,524.1 L486.2,522.5 L487.4,521.9 L488.6,522.4 L489.8,523.3 L491,522.3 L492.2,524.3 L493.4,524.8 L494.6,523.8 L495.8,524.1 L497,524.5 L498.2,524.5 L499.4,524.3 L500.6,523.5 L501.8,521.9 L503,522.2 L504.2,521.3 L505.4,520.8 L506.6,522.2 L507.8,523.2 L509,524.4 L510.2,524.1 L511.4,524.9 L512.6,523.4 L513.8,523.1 L515,524.1 L516.2,523.4 L517.4,524.4 L518.6,526.3 L519.8,524.9 L521,526.1 L522.2,523.7 L523.4,523.4 L524.6,521.9 L525.8,523.7 L527,522.4 L528.2,522.7 L529.4,521.5 L530.6,520.8 L531.8,521.4 L533,522.7 L534.2,524 L535.4,523.6 L536.6,521.7 L537.8,523.1 L539,523.3 L540.2,522.4 L541.4,524.2 L542.6,523.4 L543.8,523.6 L545,523.5 L546.2,524.5 L547.4,523.7 L548.6,523.2 L549.8,522.9 L551,522.6 L552.2,521.5 L553.4,520.6 L554.6,521.7 L555.8,520.4 L557,519.5 L558.2,520.8 L559.4,521.5 L560.6,519.7 L561.8,519.8 L563,519.1 L564.2,519 L565.4,520.3 L566.6,521.7 L567.8,519.3 L569,518.4 L570.2,518.8 L571.4,520.1 L572.6,521.4 L573.8,519.6 L575,520.6 L576.2,520.9 L577.4,520 L578.6,519.9 L579.8,517.8" fill="none" stroke="#8000ff" stroke-width="1.0" stroke-linejoin="round"/>
<polygon points="360.4,550.4 355.8,547.9 355.8,553" fill="#8000ff"/>
<polygon points="373.8,550.4 369.2,547.9 369.2,553" fill="#8000ff"/>
<polygon points="387.2,550.4 382.6,547.9 382.6,553" fill="#8000ff"/>
<polygon points="400.5,550.4 395.9,547.9 395.9,553" fill="#8000ff"/>
<polygon points="413.9,550.4 409.3,547.9 409.3,553" fill="#8000ff"/>
<polygon points="427.3,550.4 422.7,547.9 422.7,553" fill="#8000ff"/>
<polygon points="440.6,549.3 436,546.8 436,551.8" fill="#8000ff"/>
<polygon points="454,540.4 449.4,537.9 449.4,542.9" fill="#8000ff"/>
<polygon points="467.3,529 462.7,526.5 462.7,531.6" fill="#8000ff"/>
<polygon points="480.7,523.3 476.1,520.8 476.1,525.8" fill="#8000ff"/>
<polygon points="494.1,523 489.5,520.5 489.5,525.5" fill="#8000ff"/>
<polygon points="507.4,521 502.8,518.5 502.8,523.6" fill="#8000ff"/>
<polygon points="520.8,525.6 516.2,523 516.2,528.1" fill="#8000ff"/>
<polygon points="534.2,521.2 529.6,518.7 529.6,523.7" fill="#8000ff"/>
<polygon points="547.5,523.6 542.9,521 542.9,526.1" fill="#8000ff"/>
<polygon points="560.9,520.8 556.3,518.3 556.3,523.3" fill="#8000ff"/>
<polygon points="574.2,520.4 569.6,517.8 569.6,522.9" fill="#8000ff"/>
<path d="M357.8,550.4 L359,550.4 L360.2,550.4 L361.4,550.4 L362.6,550.4 L363.8,550.4 L365,550.4 L366.2,550.4 L367.4,550.5 L368.6,550.5 L369.8,550.5 L371,550.5 L372.2,550.5 L373.4,550.5 L374.6,550.5 L375.8,550.5 L377,550.5 L378.2,550.5 L379.4,550.5 L380.6,550.5 L381.8,550.5 L383,550.5 L384.2,550.5 L385.4,550.5 L386.6,550.5 L387.8,550.5 L389,550.5 L390.2,550.5 L391.4,550.5 L392.6,550.5 L393.8,550.5 L395,550.5 L396.2,550.5 L397.4,550.5 L398.6,550.5 L399.8,550.5 L401,550.5 L402.2,550.5 L403.4,550.5 L404.6,550.5 L405.8,550.6 L407,550.6 L408.2,550.6 L409.4,550.6 L410.6,550.6 L411.8,550.6 L413,550.6 L414.2,550.6 L415.4,550.6 L416.6,550.6 L417.8,550.6 L419,550.6 L420.2,550.6 L421.4,550.6 L422.6,550.6 L423.8,550.6 L425,550.6 L426.2,550.6 L427.4,550.6 L428.6,550.6 L429.8,550.6 L431,550.6 L432.2,550.6 L433.4,550.6 L434.6,550.6 L435.8,550.6 L437,550.6 L438.2,550.6 L439.4,550.6 L440.6,550.5 L441.8,550.4 L443,550.4 L444.2,550.3 L445.4,550.3 L446.6,550.3 L447.8,550.4 L449,550.3 L450.2,549.8 L451.4,549.4 L452.6,549.1 L453.8,548.7 L455,548.3 L456.2,547.3 L457.4,545.7 L458.6,544.1 L459.8,541.7 L461,540.5 L462.2,539.5 L463.4,537.1 L464.6,536.5 L465.8,534.6 L467,533.2 L468.2,532.3 L469.4,532.8 L470.6,530.9 L471.8,530.8 L473,530 L474.2,530.2 L475.4,530.8 L476.6,529.7 L477.8,528.8 L479,530.2 L480.2,529.2 L481.4,529.8 L482.6,531 L483.8,529.6 L485,531.6 L486.2,530.3 L487.4,529.9 L488.6,528.9 L489.8,529.5 L491,530.1 L492.2,529.6 L493.4,530.6 L494.6,530.3 L495.8,529.5 L497,529.9 L498.2,527.9 L499.4,528.9 L500.6,527.2 L501.8,526.2 L503,526.5 L504.2,526.6 L505.4,527.1 L506.6,526.5 L507.8,527.4 L509,527.1 L510.2,528.9 L511.4,529.1 L512.6,528.9 L513.8,529.2 L515,529.1 L516.2,528.8 L517.4,528.7 L518.6,528.7 L519.8,528.6 L521,528.8 L522.2,528.8 L523.4,529.3 L524.6,529.4 L525.8,530 L527,530.5 L528.2,529.6 L529.4,529.4 L530.6,529.1 L531.8,529 L533,529.2 L534.2,529.5 L535.4,529.6 L536.6,529.1 L537.8,528.1 L539,527.4 L540.2,528.7 L541.4,528.8 L542.6,528.9 L543.8,527.8 L545,527.6 L546.2,527.7 L547.4,526.7 L548.6,528.1 L549.8,528.2 L551,528.4 L552.2,527.5 L553.4,528 L554.6,528.4 L555.8,527.4 L557,526 L558.2,526.1 L559.4,525.2 L560.6,525.5 L561.8,526.4 L563,525.8 L564.2,525.8 L565.4,526.7 L566.6,527.2 L567.8,527.6 L569,528.6 L570.2,527 L571.4,527.3 L572.6,527.5 L573.8,525.8 L575,525.3 L576.2,525.5 L577.4,525.8 L578.6,526.4 L579.8,526.3" fill="none" stroke="#800080" stroke-width="1.0" stroke-linejoin="round"/>
<circle cx="357.8" cy="550.4" r="2.4" fill="#800080"/>
<circle cx="371.2" cy="550.5" r="2.4" fill="#800080"/>
<circle cx="384.5" cy="550.5" r="2.4" fill="#800080"/>
<circle cx="397.9" cy="550.5" r="2.4" fill="#800080"/>
<circle cx="411.2" cy="550.6" r="2.4" fill="#800080"/>
<circle cx="424.6" cy="550.6" r="2.4" fill="#800080"/>
<circle cx="438" cy="550.6" r="2.4" fill="#800080"/>
<circle cx="451.3" cy="549.4" r="2.4" fill="#800080"/>
<circle cx="464.7" cy="536.3" r="2.4" fill="#800080"/>
<circle cx="478.1" cy="529.1" r="2.4" fill="#800080"/>
<circle cx="491.4" cy="529.9" r="2.4" fill="#800080"/>
<circle cx="504.8" cy="526.8" r="2.4" fill="#800080"/>
<circle cx="518.1" cy="528.7" r="2.4" fill="#800080"/>
<circle cx="531.5" cy="529" r="2.4" fill="#800080"/>
<circle cx="544.9" cy="527.6" r="2.4" fill="#800080"/>
<circle cx="558.2" cy="526" r="2.4" fill="#800080"/>
<circle cx="571.6" cy="527.3" r="2.4" fill="#800080"/>
<path d="M357.8,550.4 L359,550.4 L360.2,550.4 L361.4,550.4 L362.6,550.4 L363.8,550.4 L365,550.4 L366.2,550.4 L367.4,550.4 L368.6,550.5 L369.8,550.5 L371,550.5 L372.2,550.5 L373.4,550.5 L374.6,550.5 L375.8,550.5 L377,550.5 L378.2,550.5 L379.4,550.5 L380.6,550.5 L381.8,550.5 L383,550.5 L384.2,550.5 L385.4,550.5 L386.6,550.5 L387.8,550.5 L389,550.5 L390.2,550.5 L391.4,550.5 L392.6,550.5 L393.8,550.5 L395,550.5 L396.2,550.5 L397.4,550.5 L398.6,550.5 L399.8,550.5 L401,550.5 L402.2,550.5 L403.4,550.5 L404.6,550.5 L405.8,550.5 L407,550.5 L408.2,550.5 L409.4,550.5 L410.6,550.6 L411.8,550.6 L413,550.6 L414.2,550.6 L415.4,550.6 L416.6,550.6 L417.8,550.6 L419,550.6 L420.2,550.6 L421.4,550.6 L422.6,550.6 L423.8,550.6 L425,550.6 L426.2,550.6 L427.4,550.6 L428.6,550.6 L429.8,550.6 L431,550.6 L432.2,550.6 L433.4,550.6 L434.6,550.6 L435.8,550.6 L437,550.6 L438.2,550.6 L439.4,550.6 L440.6,550.6 L441.8,550.6 L443,550.6 L444.2,550.6 L445.4,550.6 L446.6,550.6 L447.8,550.6 L449,550.6 L450.2,550.6 L451.4,550.6 L452.6,550.6 L453.8,550.6 L455,550.6 L456.2,550.6 L457.4,550.6 L458.6,550.5 L459.8,550.4 L461,550.3 L462.2,550 L463.4,549.6 L464.6,549 L465.8,547.8 L467,546.6 L468.2,545.6 L469.4,545.6 L470.6,546.1 L471.8,544.8 L473,544.1 L474.2,543.3 L475.4,541.9 L476.6,541 L477.8,540.4 L479,540.1 L480.2,539.8 L481.4,538.6 L482.6,538.3 L483.8,537.4 L485,537.9 L486.2,537.8 L487.4,536.5 L488.6,535.9 L489.8,535.9 L491,535.4 L492.2,535.1 L493.4,535.1 L494.6,536.4 L495.8,534.9 L497,534.5 L498.2,534.1 L499.4,534 L500.6,534.5 L501.8,534.2 L503,533.2 L504.2,534.6 L505.4,533.4 L506.6,533.1 L507.8,533.5 L509,533.3 L510.2,533.6 L511.4,532.8 L512.6,532.8 L513.8,532.3 L515,532.8 L516.2,532.6 L517.4,533.4 L518.6,533.7 L519.8,533.3 L521,533.6 L522.2,534.1 L523.4,534.8 L524.6,535.2 L525.8,534.7 L527,535.2 L528.2,535.9 L529.4,535.6 L530.6,534.9 L531.8,535.5 L533,535.6 L534.2,535 L535.4,535 L536.6,535.2 L537.8,535.1 L539,535 L540.2,535.7 L541.4,534.9 L542.6,534.9 L543.8,535.3 L545,534.2 L546.2,534.7 L547.4,535 L548.6,535.2 L549.8,536.1 L551,534.1 L552.2,532.7 L553.4,531.9 L554.6,531 L555.8,532.1 L557,532.4 L558.2,532 L559.4,531.8 L560.6,531.5 L561.8,533 L563,533.5 L564.2,532.1 L565.4,531.8 L566.6,530.6 L567.8,530.4 L569,530.4 L570.2,530.6 L571.4,530.5 L572.6,530.3 L573.8,530 L575,530.2 L576.2,530 L577.4,531.3 L578.6,530.3 L579.8,531" fill="none" stroke="#800000" stroke-width="1.0" stroke-linejoin="round"/>
<polygon points="357.8,547.6 358.5,549.5 360.5,549.5 358.9,550.8 359.5,552.8 357.8,551.6 356.1,552.8 356.7,550.8 355.1,549.5 357.1,549.5" fill="#800000"/>
<polygon points="371.2,547.6 371.8,549.5 373.9,549.6 372.3,550.8 372.9,552.8 371.2,551.6 369.5,552.8 370.1,550.8 368.4,549.6 370.5,549.5" fill="#800000"/>
<polygon points="384.5,547.6 385.2,549.6 387.3,549.6 385.6,550.8 386.2,552.8 384.5,551.6 382.8,552.8 383.4,550.8 381.8,549.6 383.8,549.6" fill="#800000"/>
<polygon points="397.9,547.6 398.6,549.6 400.6,549.6 399,550.9 399.6,552.8 397.9,551.7 396.2,552.8 396.8,550.9 395.2,549.6 397.2,549.6" fill="#800000"/>
<polygon points="411.2,547.7 411.9,549.6 414,549.7 412.3,550.9 412.9,552.9 411.2,551.7 409.6,552.9 410.2,550.9 408.5,549.7 410.6,549.6" fill="#800000"/>
<polygon points="424.6,547.7 425.3,549.7 427.3,549.7 425.7,550.9 426.3,552.9 424.6,551.7 422.9,552.9 423.5,550.9 421.9,549.7 423.9,549.7" fill="#800000"/>
<polygon points="438,547.7 438.6,549.7 440.7,549.7 439.1,551 439.7,552.9 438,551.8 436.3,552.9 436.9,551 435.2,549.7 437.3,549.7" fill="#800000"/>
<polygon points="451.3,547.8 452,549.7 454.1,549.7 452.4,551 453,553 451.3,551.8 449.6,553 450.2,551 448.6,549.7 450.7,549.7" fill="#800000"/>
<polygon points="464.7,546 465.4,547.9 467.4,548 465.8,549.2 466.4,551.2 464.7,550 463,551.2 463.6,549.2 462,548 464,547.9" fill="#800000"/>
<polygon points="478.1,537.5 478.7,539.4 480.8,539.5 479.2,540.7 479.7,542.7 478.1,541.5 476.4,542.7 477,540.7 475.3,539.5 477.4,539.4" fill="#800000"/>
<polygon points="491.4,532.4 492.1,534.4 494.2,534.4 492.5,535.7 493.1,537.6 491.4,536.5 489.7,537.6 490.3,535.7 488.7,534.4 490.7,534.4" fill="#800000"/>
<polygon points="504.8,531.1 505.5,533.1 507.5,533.1 505.9,534.4 506.5,536.3 504.8,535.2 503.1,536.3 503.7,534.4 502,533.1 504.1,533.1" fill="#800000"/>
<polygon points="518.1,530.7 518.8,532.7 520.9,532.7 519.2,534 519.8,535.9 518.1,534.8 516.5,535.9 517.1,534 515.4,532.7 517.5,532.7" fill="#800000"/>
<polygon points="531.5,532.4 532.2,534.4 534.2,534.4 532.6,535.7 533.2,537.7 531.5,536.5 529.8,537.7 530.4,535.7 528.8,534.4 530.8,534.4" fill="#800000"/>
<polygon points="544.9,531.4 545.5,533.4 547.6,533.4 546,534.7 546.6,536.6 544.9,535.5 543.2,536.6 543.8,534.7 542.1,533.4 544.2,533.4" fill="#800000"/>
<polygon points="558.2,529.1 558.9,531.1 561,531.1 559.3,532.4 559.9,534.3 558.2,533.1 556.5,534.3 557.1,532.4 555.5,531.1 557.6,531.1" fill="#800000"/>
<polygon points="571.6,527.6 572.3,529.5 574.3,529.6 572.7,530.8 573.3,532.8 571.6,531.6 569.9,532.8 570.5,530.8 568.9,529.6 570.9,529.5" fill="#800000"/>
<line x1="395.4" y1="420.6" x2="395.4" y2="582.8" stroke="#1a1a1a" stroke-width="1.0"/>
<line x1="459.2" y1="420.6" x2="459.2" y2="582.8" stroke="#1a1a1a" stroke-width="1.0"/>
<line x1="512.1" y1="420.6" x2="512.1" y2="582.8" stroke="#1a1a1a" stroke-width="1.0"/>
<line x1="357.8" y1="438.5" x2="580.5" y2="438.5" stroke="#333" stroke-width="0.9"/>
<polygon points="358.4,438.5 362,436.8 362,440.2" fill="#111"/>
<polygon points="394.8,438.5 391.2,436.8 391.2,440.2" fill="#111"/>
<text x="376.5" y="435.7" class="ph">(1)</text>
<polygon points="396,438.5 399.6,436.8 399.6,440.2" fill="#111"/>
<polygon points="458.6,438.5 455,436.8 455,440.2" fill="#111"/>
<text x="432.1" y="435.7" class="ph">(2)</text>
<polygon points="459.8,438.5 463.4,436.8 463.4,440.2" fill="#111"/>
<polygon points="511.5,438.5 507.9,436.8 507.9,440.2" fill="#111"/>
<text x="497.8" y="435.7" class="ph">(3)</text>
<polygon points="512.7,438.5 516.3,436.8 516.3,440.2" fill="#111"/>
<polygon points="579.9,438.5 576.3,436.8 576.3,440.2" fill="#111"/>
<text x="553.2" y="435.7" class="ph">(4)</text>
<circle cx="395.6" cy="550.4" r="4.4" fill="none" stroke="#000" stroke-width="0.95"/>
<circle cx="458.4" cy="550.4" r="4.4" fill="none" stroke="#000" stroke-width="0.95"/>
<circle cx="512.1" cy="533.4" r="4.4" fill="none" stroke="#000" stroke-width="0.95"/>
<text x="400.5" y="563.7" class="tl">t<tspan class="sub" dy="2.6">1</tspan></text>
<text x="464.1" y="559.9" class="tl">t<tspan class="sub" dy="2.6">2</tspan></text>
<text x="515.9" y="546.3" class="tl">t<tspan class="sub" dy="2.6">3</tspan></text>
<rect x="362.8" y="444.1" width="47.2" height="76.5" fill="#fff" stroke="#222" stroke-width="0.9"/>
<line x1="366.2" y1="451" x2="381.9" y2="451" stroke="#000000" stroke-width="0.75"/>
<rect x="371.7" y="448.6" width="4.8" height="4.8" fill="#000000"/>
<text x="383.8" y="453.4" class="lg" style="font-size:6.65px">Floor 2</text>
<line x1="366.2" y1="459.3" x2="381.9" y2="459.3" stroke="#ff0000" stroke-width="0.75"/>
<circle cx="374.1" cy="459.3" r="2.5" fill="#ff0000"/>
<text x="383.8" y="461.7" class="lg" style="font-size:6.65px">Floor 4</text>
<line x1="366.2" y1="467.6" x2="381.9" y2="467.6" stroke="#0000ff" stroke-width="0.75"/>
<polygon points="374.1,464.8 371.4,469.6 376.7,469.6" fill="#0000ff"/>
<text x="383.8" y="470" class="lg" style="font-size:6.65px">Floor 6</text>
<line x1="366.2" y1="475.8" x2="381.9" y2="475.8" stroke="#ff00ff" stroke-width="0.75"/>
<polygon points="374.1,478.6 371.4,473.8 376.7,473.8" fill="#ff00ff"/>
<text x="383.8" y="478.2" class="lg" style="font-size:6.65px">Floor 8</text>
<line x1="366.2" y1="484.1" x2="381.9" y2="484.1" stroke="#008000" stroke-width="0.75"/>
<polygon points="374.1,481.2 377,484.1 374.1,487 371.2,484.1" fill="#008000"/>
<text x="383.8" y="486.5" class="lg" style="font-size:6.65px">Floor 10</text>
<line x1="366.2" y1="492.4" x2="381.9" y2="492.4" stroke="#000080" stroke-width="0.75"/>
<polygon points="371.3,492.4 376.1,489.8 376.1,495" fill="#000080"/>
<text x="383.8" y="494.8" class="lg" style="font-size:6.65px">Floor 12</text>
<line x1="366.2" y1="500.7" x2="381.9" y2="500.7" stroke="#8000ff" stroke-width="0.75"/>
<polygon points="376.8,500.7 372,498 372,503.3" fill="#8000ff"/>
<text x="383.8" y="503.1" class="lg" style="font-size:6.65px">Floor 14</text>
<line x1="366.2" y1="509" x2="381.9" y2="509" stroke="#800080" stroke-width="0.75"/>
<circle cx="374.1" cy="509" r="2.5" fill="#800080"/>
<text x="383.8" y="511.4" class="lg" style="font-size:6.65px">Floor 16</text>
<line x1="366.2" y1="517.2" x2="381.9" y2="517.2" stroke="#800000" stroke-width="0.75"/>
<polygon points="374.1,514.2 374.8,516.3 376.9,516.3 375.2,517.6 375.8,519.7 374.1,518.4 372.3,519.7 372.9,517.6 371.2,516.3 373.4,516.3" fill="#800000"/>
<text x="383.8" y="519.6" class="lg" style="font-size:6.65px">Floor 18</text>
<rect x="357.8" y="420.6" width="222.7" height="162.2" fill="none" stroke="#000" stroke-width="1.2"/>
<text x="357.8" y="593.2" class="tk" style="font-size:8.8px" text-anchor="middle">0</text>
<text x="402.3" y="593.2" class="tk" style="font-size:8.8px" text-anchor="middle">200</text>
<text x="446.9" y="593.2" class="tk" style="font-size:8.8px" text-anchor="middle">400</text>
<text x="491.4" y="593.2" class="tk" style="font-size:8.8px" text-anchor="middle">600</text>
<text x="536" y="593.2" class="tk" style="font-size:8.8px" text-anchor="middle">800</text>
<text x="580.5" y="593.2" class="tk" style="font-size:8.8px" text-anchor="middle">1000</text>
<text x="354" y="586" class="tk" style="font-size:8.8px" text-anchor="end">15</text>
<text x="354" y="553.5" class="tk" style="font-size:8.8px" text-anchor="end">20</text>
<text x="354" y="521.1" class="tk" style="font-size:8.8px" text-anchor="end">25</text>
<text x="354" y="488.6" class="tk" style="font-size:8.8px" text-anchor="end">30</text>
<text x="354" y="456.2" class="tk" style="font-size:8.8px" text-anchor="end">35</text>
<text x="354" y="423.8" class="tk" style="font-size:8.8px" text-anchor="end">40</text>
<path d="M357.8,582.8v-3.2M357.8,420.6v3.2M380.1,582.8v-2M380.1,420.6v2M402.3,582.8v-3.2M402.3,420.6v3.2M424.6,582.8v-2M424.6,420.6v2M446.9,582.8v-3.2M446.9,420.6v3.2M469.1,582.8v-2M469.1,420.6v2M491.4,582.8v-3.2M491.4,420.6v3.2M513.7,582.8v-2M513.7,420.6v2M536,582.8v-3.2M536,420.6v3.2M558.2,582.8v-2M558.2,420.6v2M580.5,582.8v-3.2M580.5,420.6v3.2M357.8,582.8h3.2M580.5,582.8h-3.2M357.8,566.6h2M580.5,566.6h-2M357.8,550.4h3.2M580.5,550.4h-3.2M357.8,534.1h2M580.5,534.1h-2M357.8,517.9h3.2M580.5,517.9h-3.2M357.8,501.7h2M580.5,501.7h-2M357.8,485.5h3.2M580.5,485.5h-3.2M357.8,469.3h2M580.5,469.3h-2M357.8,453h3.2M580.5,453h-3.2M357.8,436.8h2M580.5,436.8h-2M357.8,420.6h3.2M580.5,420.6h-3.2" stroke="#000" stroke-width="1" fill="none"/>
<text x="469.9" y="609.9" class="ax" style="font-size:10.3px" text-anchor="middle">Time (s)</text>
<text transform="translate(334,504.5) rotate(-90)" class="ax" style="font-size:10.3px" text-anchor="middle">Gas Temperature in the shaft (°C)</text>
<text x="296.6" y="419" class="pl">(f)</text>
</g>
</svg>
</body></html>
